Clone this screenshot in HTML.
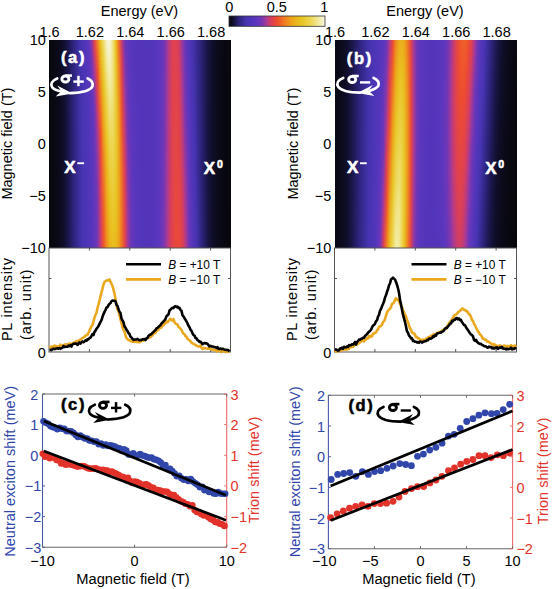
<!DOCTYPE html><html><head><meta charset="utf-8"><style>html,body{margin:0;padding:0;background:#fff;}#w{position:relative;width:553px;height:589px;overflow:hidden}#w div{position:absolute}svg{position:absolute;left:0;top:0;display:block}</style></head><body><div id="w">
<div style="left:49px;top:40px;width:181.5px;height:4px;background:linear-gradient(90deg,#07070d 0.0%,#080810 1.7%,#090914 3.3%,#0b0a1a 5.0%,#0d0c23 6.7%,#111030 8.3%,#191647 10.0%,#231d62 11.7%,#2e247e 13.3%,#372b92 15.0%,#4231a9 16.7%,#4a34b4 18.3%,#5135b9 20.0%,#5d36bd 21.7%,#8737a9 23.3%,#e0434c 25.0%,#ef8321 26.7%,#e8c121 28.3%,#eedd6c 30.0%,#f6f1c7 31.7%,#f7f5dc 33.3%,#f0e382 35.0%,#e9bf21 36.7%,#f06f25 38.3%,#c33c76 40.0%,#7136b5 41.7%,#5d36bd 43.3%,#5736bc 45.0%,#5535bb 46.7%,#5335ba 48.3%,#5235b9 50.0%,#5235b9 51.7%,#5135b9 53.3%,#5235b9 55.0%,#5335ba 56.7%,#5435bb 58.3%,#5836bd 60.0%,#6136bb 61.7%,#7236b5 63.3%,#a0399b 65.0%,#ce3d68 66.7%,#e0424e 68.3%,#df424f 70.0%,#c93d6e 71.7%,#9238a3 73.3%,#6536ba 75.0%,#5335ba 76.7%,#4a34b4 78.3%,#3f30a4 80.0%,#35298d 81.7%,#2c237a 83.3%,#231d62 85.0%,#1b174b 86.7%,#141238 88.3%,#0f0e29 90.0%,#0d0c21 91.7%,#0b0a1a 93.3%,#0a0915 95.0%,#090812 96.7%,#08080f 98.3%,#07070d 100.0%)"></div>
<div style="left:49px;top:44px;width:181.5px;height:4px;background:linear-gradient(90deg,#07070d 0.0%,#080810 1.7%,#090914 3.3%,#0b0a1a 5.0%,#0d0c23 6.7%,#111030 8.3%,#191546 10.0%,#231d62 11.7%,#2d247d 13.3%,#372a92 15.0%,#4131a8 16.7%,#4a34b4 18.3%,#5135b8 20.0%,#5b36be 21.7%,#7f37ae 23.3%,#dd4054 25.0%,#ef7c22 26.7%,#e9bd20 28.3%,#edda62 30.0%,#f5f0bf 31.7%,#f7f4d7 33.3%,#f0e384 35.0%,#e8c121 36.7%,#f07324 38.3%,#c83d6f 40.0%,#7236b5 41.7%,#5e36bc 43.3%,#5736bc 45.0%,#5535bb 46.7%,#5335ba 48.3%,#5235b9 50.0%,#5235b9 51.7%,#5135b9 53.3%,#5235b9 55.0%,#5335ba 56.7%,#5435bb 58.3%,#5836bd 60.0%,#6136bb 61.7%,#7236b5 63.3%,#a0399a 65.0%,#ce3d68 66.7%,#e0424e 68.3%,#e0424e 70.0%,#cb3d6c 71.7%,#9438a2 73.3%,#6636b9 75.0%,#5435ba 76.7%,#4a34b4 78.3%,#4030a4 80.0%,#35298d 81.7%,#2c237a 83.3%,#231d62 85.0%,#1b174b 86.7%,#141238 88.3%,#0f0e29 90.0%,#0d0c21 91.7%,#0b0a1a 93.3%,#0a0915 95.0%,#090812 96.7%,#08080f 98.3%,#07070d 100.0%)"></div>
<div style="left:49px;top:48px;width:181.5px;height:4px;background:linear-gradient(90deg,#07070d 0.0%,#080810 1.7%,#090914 3.3%,#0b0a1a 5.0%,#0d0c22 6.7%,#111030 8.3%,#191546 10.0%,#231d62 11.7%,#2d247d 13.3%,#372a92 15.0%,#4131a8 16.7%,#4934b4 18.3%,#5035b8 20.0%,#5936be 21.7%,#7836b2 23.3%,#d93e5b 25.0%,#f07523 26.7%,#e9b81f 28.3%,#ecd757 30.0%,#f4eeb6 31.7%,#f7f3d2 33.3%,#f0e485 35.0%,#e8c222 36.7%,#f07723 38.3%,#ce3d68 40.0%,#7436b4 41.7%,#5f36bc 43.3%,#5736bc 45.0%,#5535bb 46.7%,#5335ba 48.3%,#5235b9 50.0%,#5235b9 51.7%,#5235b9 53.3%,#5235b9 55.0%,#5335ba 56.7%,#5435bb 58.3%,#5836bd 60.0%,#6136bb 61.7%,#7236b5 63.3%,#a0399a 65.0%,#ce3d68 66.7%,#e0424e 68.3%,#e0424e 70.0%,#cd3d6a 71.7%,#9639a0 73.3%,#6736b9 75.0%,#5435ba 76.7%,#4a34b5 78.3%,#4030a5 80.0%,#35298d 81.7%,#2c237a 83.3%,#231d62 85.0%,#1b174b 86.7%,#141238 88.3%,#0f0e29 90.0%,#0d0c21 91.7%,#0b0a1a 93.3%,#0a0915 95.0%,#090812 96.7%,#08080f 98.3%,#07070d 100.0%)"></div>
<div style="left:49px;top:52px;width:181.5px;height:4px;background:linear-gradient(90deg,#07070d 0.0%,#080810 1.7%,#090914 3.3%,#0b0a1a 5.0%,#0d0c22 6.7%,#111030 8.3%,#191546 10.0%,#231d62 11.7%,#2d247d 13.3%,#372a92 15.0%,#4131a7 16.7%,#4934b4 18.3%,#5035b8 20.0%,#5936bd 21.7%,#7336b5 23.3%,#cf3d67 25.0%,#f06e25 26.7%,#eab41e 28.3%,#ecd54f 30.0%,#f3edad 31.7%,#f6f2ce 33.3%,#f0e486 35.0%,#e8c422 36.7%,#ef7b22 38.3%,#d43d62 40.0%,#7736b2 41.7%,#6036bc 43.3%,#5836bd 45.0%,#5536bb 46.7%,#5335ba 48.3%,#5235b9 50.0%,#5235b9 51.7%,#5235b9 53.3%,#5235b9 55.0%,#5335ba 56.7%,#5435bb 58.3%,#5836bd 60.0%,#6136bb 61.7%,#7236b5 63.3%,#a1399a 65.0%,#ce3d68 66.7%,#e0424e 68.3%,#e0424d 70.0%,#ce3d68 71.7%,#98399f 73.3%,#6836b9 75.0%,#5435bb 76.7%,#4a34b5 78.3%,#4030a5 80.0%,#35298e 81.7%,#2c237a 83.3%,#231d62 85.0%,#1b174b 86.7%,#141238 88.3%,#0f0e29 90.0%,#0c0c21 91.7%,#0b0a1a 93.3%,#0a0915 95.0%,#090812 96.7%,#08080f 98.3%,#07070d 100.0%)"></div>
<div style="left:49px;top:56px;width:181.5px;height:4px;background:linear-gradient(90deg,#07070d 0.0%,#080810 1.7%,#090914 3.3%,#0b0a1a 5.0%,#0d0c22 6.7%,#111030 8.3%,#191546 10.0%,#231d62 11.7%,#2d247d 13.3%,#372a91 15.0%,#4131a7 16.7%,#4934b4 18.3%,#4f35b8 20.0%,#5836bd 21.7%,#7036b6 23.3%,#c63c72 25.0%,#ef6728 26.7%,#eab01d 28.3%,#ebd349 30.0%,#f3eba4 31.7%,#f6f1c8 33.3%,#f0e486 35.0%,#e8c524 36.7%,#ef7e22 38.3%,#d93e5b 40.0%,#7b37b0 41.7%,#6136bb 43.3%,#5836bd 45.0%,#5536bb 46.7%,#5335ba 48.3%,#5235b9 50.0%,#5235b9 51.7%,#5235b9 53.3%,#5235b9 55.0%,#5335ba 56.7%,#5535bb 58.3%,#5836bd 60.0%,#6136bb 61.7%,#7236b5 63.3%,#a1399a 65.0%,#cf3d68 66.7%,#e0424d 68.3%,#e0424d 70.0%,#d03d67 71.7%,#9a399e 73.3%,#6936b8 75.0%,#5535bb 76.7%,#4b34b5 78.3%,#4030a5 80.0%,#35298e 81.7%,#2c237a 83.3%,#231d62 85.0%,#1b174b 86.7%,#141238 88.3%,#0f0e29 90.0%,#0c0c20 91.7%,#0b0a1a 93.3%,#090915 95.0%,#090812 96.7%,#08080f 98.3%,#07070d 100.0%)"></div>
<div style="left:49px;top:60px;width:181.5px;height:4px;background:linear-gradient(90deg,#07070d 0.0%,#080810 1.7%,#090914 3.3%,#0b0a1a 5.0%,#0d0c22 6.7%,#110f30 8.3%,#191546 10.0%,#231d61 11.7%,#2d247d 13.3%,#372a91 15.0%,#4131a6 16.7%,#4934b4 18.3%,#4f35b7 20.0%,#5736bc 21.7%,#6d36b7 23.3%,#bd3c7c 25.0%,#ef602a 26.7%,#ebac1c 28.3%,#ebd144 30.0%,#f2ea9b 31.7%,#f5f0c3 33.3%,#f0e487 35.0%,#e8c627 36.7%,#ef8221 38.3%,#dc3f57 40.0%,#7e37ae 41.7%,#6136bb 43.3%,#5836bd 45.0%,#5536bb 46.7%,#5435ba 48.3%,#5235b9 50.0%,#5235b9 51.7%,#5235b9 53.3%,#5235b9 55.0%,#5335ba 56.7%,#5535bb 58.3%,#5836bd 60.0%,#6136bb 61.7%,#7236b5 63.3%,#a1399a 65.0%,#cf3d68 66.7%,#e0424d 68.3%,#e1434c 70.0%,#d13d65 71.7%,#9c399d 73.3%,#6a36b8 75.0%,#5536bb 76.7%,#4b34b5 78.3%,#4030a6 80.0%,#35298e 81.7%,#2c237a 83.3%,#231d62 85.0%,#1b174b 86.7%,#141238 88.3%,#0f0e29 90.0%,#0c0c20 91.7%,#0b0a1a 93.3%,#090915 95.0%,#090812 96.7%,#08080f 98.3%,#07070d 100.0%)"></div>
<div style="left:49px;top:64px;width:181.5px;height:4px;background:linear-gradient(90deg,#07070d 0.0%,#080810 1.7%,#090914 3.3%,#0b0a1a 5.0%,#0d0c22 6.7%,#110f30 8.3%,#191546 10.0%,#231d61 11.7%,#2d247d 13.3%,#372a91 15.0%,#4030a6 16.7%,#4934b4 18.3%,#4f35b7 20.0%,#5736bc 21.7%,#6b36b7 23.3%,#b53b86 25.0%,#ef592c 26.7%,#eba81b 28.3%,#eacf3e 30.0%,#f1e893 31.7%,#f5f0bd 33.3%,#f0e486 35.0%,#e9c729 36.7%,#ee8520 38.3%,#dd4053 40.0%,#8237ac 41.7%,#6236bb 43.3%,#5836bd 45.0%,#5536bb 46.7%,#5435ba 48.3%,#5235b9 50.0%,#5235b9 51.7%,#5235b9 53.3%,#5235b9 55.0%,#5335ba 56.7%,#5535bb 58.3%,#5836bd 60.0%,#6136bb 61.7%,#7236b5 63.3%,#a1399a 65.0%,#cf3d67 66.7%,#e0424d 68.3%,#e1434b 70.0%,#d23d63 71.7%,#9e399c 73.3%,#6a36b8 75.0%,#5536bb 76.7%,#4b35b5 78.3%,#4131a6 80.0%,#35298e 81.7%,#2c237b 83.3%,#231d62 85.0%,#1b174b 86.7%,#141238 88.3%,#0f0e29 90.0%,#0c0c20 91.7%,#0b0a1a 93.3%,#090915 95.0%,#090812 96.7%,#08080f 98.3%,#07070d 100.0%)"></div>
<div style="left:49px;top:68px;width:181.5px;height:4px;background:linear-gradient(90deg,#07070d 0.0%,#080810 1.7%,#090914 3.3%,#0b0a1a 5.0%,#0d0c22 6.7%,#110f2f 8.3%,#191546 10.0%,#231c61 11.7%,#2d247c 13.3%,#362a91 15.0%,#4030a6 16.7%,#4834b3 18.3%,#4e35b7 20.0%,#5636bc 21.7%,#6936b8 23.3%,#ad3a90 25.0%,#ee522e 26.7%,#eca41a 28.3%,#eacd39 30.0%,#f1e58b 31.7%,#f4efb8 33.3%,#f0e486 35.0%,#e9c72b 36.7%,#ee8820 38.3%,#df424f 40.0%,#8637aa 41.7%,#6336ba 43.3%,#5836bd 45.0%,#5536bb 46.7%,#5435ba 48.3%,#5335ba 50.0%,#5235b9 51.7%,#5235b9 53.3%,#5235b9 55.0%,#5335ba 56.7%,#5535bb 58.3%,#5836bd 60.0%,#6136bb 61.7%,#7236b5 63.3%,#a1399a 65.0%,#cf3d67 66.7%,#e0424d 68.3%,#e1434b 70.0%,#d43e61 71.7%,#a0399b 73.3%,#6b36b7 75.0%,#5636bb 76.7%,#4b35b5 78.3%,#4131a7 80.0%,#35298e 81.7%,#2c237b 83.3%,#231d62 85.0%,#1b174b 86.7%,#141238 88.3%,#0f0e29 90.0%,#0c0c20 91.7%,#0b0a1a 93.3%,#090915 95.0%,#090812 96.7%,#08080f 98.3%,#07070d 100.0%)"></div>
<div style="left:49px;top:72px;width:181.5px;height:4px;background:linear-gradient(90deg,#07070d 0.0%,#080810 1.7%,#090914 3.3%,#0b0a1a 5.0%,#0d0c22 6.7%,#110f2f 8.3%,#191546 10.0%,#221c61 11.7%,#2d247c 13.3%,#362a91 15.0%,#4030a5 16.7%,#4834b3 18.3%,#4e35b7 20.0%,#5536bb 21.7%,#6736b9 23.3%,#a63a97 25.0%,#ee4c30 26.7%,#ec9e1b 28.3%,#e9cb33 30.0%,#f0e382 31.7%,#f4eeb2 33.3%,#f0e485 35.0%,#e9c82c 36.7%,#ee8b1f 38.3%,#e1434b 40.0%,#8a38a7 41.7%,#6436ba 43.3%,#5936bd 45.0%,#5636bb 46.7%,#5435ba 48.3%,#5335ba 50.0%,#5235b9 51.7%,#5235b9 53.3%,#5235b9 55.0%,#5335ba 56.7%,#5535bb 58.3%,#5836bd 60.0%,#6236bb 61.7%,#7336b5 63.3%,#a23a9a 65.0%,#cf3d67 66.7%,#e0434c 68.3%,#e2434a 70.0%,#d53e60 71.7%,#a23a99 73.3%,#6c36b7 75.0%,#5636bc 76.7%,#4c35b5 78.3%,#4131a8 80.0%,#36298f 81.7%,#2c237b 83.3%,#231d62 85.0%,#1b174b 86.7%,#141237 88.3%,#0f0e29 90.0%,#0c0c20 91.7%,#0b0a1a 93.3%,#090915 95.0%,#090811 96.7%,#08080f 98.3%,#07070d 100.0%)"></div>
<div style="left:49px;top:76px;width:181.5px;height:4px;background:linear-gradient(90deg,#07070d 0.0%,#080810 1.7%,#090914 3.3%,#0b0a1a 5.0%,#0d0c22 6.7%,#110f2f 8.3%,#191545 10.0%,#221c61 11.7%,#2d247c 13.3%,#362a90 15.0%,#4030a5 16.7%,#4834b3 18.3%,#4e35b7 20.0%,#5535bb 21.7%,#6536ba 23.3%,#9e399c 25.0%,#eb4a37 26.7%,#ed981c 28.3%,#e9c92e 30.0%,#efe17a 31.7%,#f3edac 33.3%,#f0e484 35.0%,#e9c82e 36.7%,#ee8e1e 38.3%,#e34448 40.0%,#8e38a5 41.7%,#6536ba 43.3%,#5936bd 45.0%,#5636bb 46.7%,#5435ba 48.3%,#5335ba 50.0%,#5235b9 51.7%,#5235b9 53.3%,#5235b9 55.0%,#5335ba 56.7%,#5535bb 58.3%,#5836bd 60.0%,#6236bb 61.7%,#7336b5 63.3%,#a23a9a 65.0%,#cf3d67 66.7%,#e1434c 68.3%,#e2434a 70.0%,#d73e5e 71.7%,#a43a98 73.3%,#6d36b7 75.0%,#5636bc 76.7%,#4c35b6 78.3%,#4131a8 80.0%,#36298f 81.7%,#2c237b 83.3%,#231d62 85.0%,#1b174b 86.7%,#141237 88.3%,#0f0e29 90.0%,#0c0c20 91.7%,#0b0a1a 93.3%,#090915 95.0%,#090811 96.7%,#08080f 98.3%,#07070d 100.0%)"></div>
<div style="left:49px;top:80px;width:181.5px;height:4px;background:linear-gradient(90deg,#07070d 0.0%,#080810 1.7%,#090914 3.3%,#0b0a1a 5.0%,#0d0c22 6.7%,#110f2f 8.3%,#191545 10.0%,#221c61 11.7%,#2d247c 13.3%,#362a90 15.0%,#4030a5 16.7%,#4834b3 18.3%,#4e35b7 20.0%,#5535bb 21.7%,#6336bb 23.3%,#9739a0 25.0%,#e7473e 26.7%,#ed921e 28.3%,#e9c729 30.0%,#efdf72 31.7%,#f3eca6 33.3%,#f0e383 35.0%,#e9c92f 36.7%,#ed911e 38.3%,#e44544 40.0%,#9138a3 41.7%,#6636b9 43.3%,#5936bd 45.0%,#5636bb 46.7%,#5435ba 48.3%,#5335ba 50.0%,#5235b9 51.7%,#5235b9 53.3%,#5235b9 55.0%,#5335ba 56.7%,#5535bb 58.3%,#5836bd 60.0%,#6236bb 61.7%,#7336b4 63.3%,#a23a9a 65.0%,#cf3d67 66.7%,#e1434c 68.3%,#e24449 70.0%,#d83e5c 71.7%,#a63a97 73.3%,#6e36b6 75.0%,#5736bc 76.7%,#4c35b6 78.3%,#4231a9 80.0%,#362a8f 81.7%,#2c237b 83.3%,#231d62 85.0%,#1b174b 86.7%,#141237 88.3%,#0f0e28 90.0%,#0c0c20 91.7%,#0b0a1a 93.3%,#090915 95.0%,#090811 96.7%,#08080f 98.3%,#07070d 100.0%)"></div>
<div style="left:49px;top:84px;width:181.5px;height:4px;background:linear-gradient(90deg,#07070d 0.0%,#080810 1.7%,#090914 3.3%,#0b0a1a 5.0%,#0d0c22 6.7%,#110f2f 8.3%,#191545 10.0%,#221c60 11.7%,#2d247c 13.3%,#362a90 15.0%,#4030a5 16.7%,#4834b3 18.3%,#4d35b6 20.0%,#5435ba 21.7%,#6136bb 23.3%,#9138a3 25.0%,#e44544 26.7%,#ee8c1f 28.3%,#e8c524 30.0%,#eedc69 31.7%,#f2eba0 33.3%,#f0e381 35.0%,#e9c931 36.7%,#ed941d 38.3%,#e64641 40.0%,#9539a1 41.7%,#6736b9 43.3%,#5936be 45.0%,#5636bc 46.7%,#5435ba 48.3%,#5335ba 50.0%,#5235b9 51.7%,#5235b9 53.3%,#5235b9 55.0%,#5335ba 56.7%,#5535bb 58.3%,#5836bd 60.0%,#6236bb 61.7%,#7336b4 63.3%,#a23a99 65.0%,#d03d66 66.7%,#e1434c 68.3%,#e24449 70.0%,#d93e5b 71.7%,#a83a96 73.3%,#6f36b6 75.0%,#5736bc 76.7%,#4c35b6 78.3%,#4231a9 80.0%,#362a8f 81.7%,#2c237b 83.3%,#231d62 85.0%,#1b174b 86.7%,#141137 88.3%,#0f0e28 90.0%,#0c0c20 91.7%,#0b0a1a 93.3%,#090915 95.0%,#080811 96.7%,#08080f 98.3%,#07070d 100.0%)"></div>
<div style="left:49px;top:88px;width:181.5px;height:4px;background:linear-gradient(90deg,#07070d 0.0%,#080810 1.7%,#090914 3.3%,#0b0a1a 5.0%,#0d0c22 6.7%,#110f2f 8.3%,#191545 10.0%,#221c60 11.7%,#2d247c 13.3%,#362a90 15.0%,#4030a4 16.7%,#4834b3 18.3%,#4d35b6 20.0%,#5435ba 21.7%,#6036bc 23.3%,#8b38a7 25.0%,#e2434a 26.7%,#ee8620 28.3%,#e8c221 30.0%,#edda61 31.7%,#f2e99a 33.3%,#f0e280 35.0%,#e9ca32 36.7%,#ed971d 38.3%,#e8483d 40.0%,#99399f 41.7%,#6836b9 43.3%,#5a36be 45.0%,#5636bc 46.7%,#5435ba 48.3%,#5335ba 50.0%,#5235b9 51.7%,#5235b9 53.3%,#5235b9 55.0%,#5335ba 56.7%,#5535bb 58.3%,#5836bd 60.0%,#6236bb 61.7%,#7336b4 63.3%,#a23a99 65.0%,#d03d66 66.7%,#e1434c 68.3%,#e34448 70.0%,#da3e59 71.7%,#aa3a94 73.3%,#7036b6 75.0%,#5836bd 76.7%,#4d35b6 78.3%,#4232aa 80.0%,#362a90 81.7%,#2c247b 83.3%,#231d62 85.0%,#1b174a 86.7%,#141137 88.3%,#0f0e28 90.0%,#0c0c20 91.7%,#0b0a1a 93.3%,#090915 95.0%,#080811 96.7%,#08080f 98.3%,#07070d 100.0%)"></div>
<div style="left:49px;top:92px;width:181.5px;height:4px;background:linear-gradient(90deg,#07070d 0.0%,#080810 1.7%,#090914 3.3%,#0b0a1a 5.0%,#0d0c22 6.7%,#110f2f 8.3%,#191545 10.0%,#221c60 11.7%,#2d247c 13.3%,#362a90 15.0%,#4030a4 16.7%,#4834b3 18.3%,#4d35b6 20.0%,#5335ba 21.7%,#5e36bc 23.3%,#8537aa 25.0%,#df4150 26.7%,#ef8021 28.3%,#e9be21 30.0%,#edd859 31.7%,#f1e894 33.3%,#f0e27e 35.0%,#e9ca33 36.7%,#ed991c 38.3%,#e9493a 40.0%,#9d399c 41.7%,#6936b8 43.3%,#5a36be 45.0%,#5636bc 46.7%,#5435ba 48.3%,#5335ba 50.0%,#5235b9 51.7%,#5235b9 53.3%,#5235b9 55.0%,#5335ba 56.7%,#5535bb 58.3%,#5836bd 60.0%,#6236bb 61.7%,#7336b4 63.3%,#a23a99 65.0%,#d03d66 66.7%,#e1434b 68.3%,#e34448 70.0%,#db3f58 71.7%,#ac3a92 73.3%,#7036b5 75.0%,#5836bd 76.7%,#4d35b6 78.3%,#4232aa 80.0%,#362a90 81.7%,#2c247b 83.3%,#231d62 85.0%,#1b174a 86.7%,#141137 88.3%,#0f0e28 90.0%,#0c0c20 91.7%,#0b0a1a 93.3%,#090915 95.0%,#080811 96.7%,#08080f 98.3%,#07070d 100.0%)"></div>
<div style="left:49px;top:96px;width:181.5px;height:4px;background:linear-gradient(90deg,#07070d 0.0%,#080810 1.7%,#090914 3.3%,#0b0a1a 5.0%,#0d0c22 6.7%,#110f2f 8.3%,#191545 10.0%,#221c60 11.7%,#2d247c 13.3%,#362a90 15.0%,#3f30a4 16.7%,#4834b3 18.3%,#4d35b6 20.0%,#5335ba 21.7%,#5d36bd 23.3%,#7f37ad 25.0%,#dc4055 26.7%,#ef7b22 28.3%,#e9bb20 30.0%,#ecd651 31.7%,#f1e68e 33.3%,#efe17b 35.0%,#e9cb34 36.7%,#ed9c1c 38.3%,#eb4a37 40.0%,#a1399a 41.7%,#6a36b8 43.3%,#5a36be 45.0%,#5636bc 46.7%,#5435ba 48.3%,#5335ba 50.0%,#5235b9 51.7%,#5235b9 53.3%,#5235b9 55.0%,#5335ba 56.7%,#5535bb 58.3%,#5836bd 60.0%,#6236bb 61.7%,#7336b4 63.3%,#a33a99 65.0%,#d03d66 66.7%,#e1434b 68.3%,#e34447 70.0%,#db3f58 71.7%,#ad3a90 73.3%,#7136b5 75.0%,#5836bd 76.7%,#4d35b6 78.3%,#4332ab 80.0%,#362a90 81.7%,#2c247b 83.3%,#231d62 85.0%,#1b174a 86.7%,#141137 88.3%,#0f0e28 90.0%,#0c0c20 91.7%,#0b0a1a 93.3%,#090915 95.0%,#080811 96.7%,#08080f 98.3%,#07070d 100.0%)"></div>
<div style="left:49px;top:100px;width:181.5px;height:4px;background:linear-gradient(90deg,#07070d 0.0%,#080810 1.7%,#090914 3.3%,#0b0a1a 5.0%,#0d0c22 6.7%,#110f2f 8.3%,#191545 10.0%,#221c60 11.7%,#2d247b 13.3%,#362a8f 15.0%,#3f30a4 16.7%,#4734b3 18.3%,#4d35b6 20.0%,#5335ba 21.7%,#5c36bd 23.3%,#7a36b0 25.0%,#da3e5a 26.7%,#f07623 28.3%,#eab81f 30.0%,#ecd44d 31.7%,#f0e589 33.3%,#efe179 35.0%,#eacb34 36.7%,#ec9e1b 38.3%,#ec4b34 40.0%,#a43a98 41.7%,#6b36b8 43.3%,#5b36be 45.0%,#5636bc 46.7%,#5435bb 48.3%,#5335ba 50.0%,#5235b9 51.7%,#5235b9 53.3%,#5235b9 55.0%,#5335ba 56.7%,#5535bb 58.3%,#5836bd 60.0%,#6236bb 61.7%,#7336b4 63.3%,#a33a99 65.0%,#d03d66 66.7%,#e1434b 68.3%,#e34447 70.0%,#dc3f57 71.7%,#af3b8d 73.3%,#7236b5 75.0%,#5936bd 76.7%,#4d35b6 78.3%,#4332ac 80.0%,#362a91 81.7%,#2d247b 83.3%,#231d62 85.0%,#1a174a 86.7%,#141137 88.3%,#0f0e28 90.0%,#0c0c20 91.7%,#0b0a1a 93.3%,#090915 95.0%,#080811 96.7%,#08080f 98.3%,#07070d 100.0%)"></div>
<div style="left:49px;top:104px;width:181.5px;height:4px;background:linear-gradient(90deg,#07070d 0.0%,#080810 1.7%,#090914 3.3%,#0b0a1a 5.0%,#0d0c22 6.7%,#110f2f 8.3%,#181545 10.0%,#221c60 11.7%,#2c247b 13.3%,#362a8f 15.0%,#3f30a3 16.7%,#4734b3 18.3%,#4d35b6 20.0%,#5235b9 21.7%,#5b36be 23.3%,#7636b3 25.0%,#d33d63 26.7%,#f07124 28.3%,#eab51e 30.0%,#ebd249 31.7%,#f0e383 33.3%,#efe076 35.0%,#eacb35 36.7%,#eca01b 38.3%,#ee4c31 40.0%,#a83a96 41.7%,#6c36b7 43.3%,#5b36be 45.0%,#5736bc 46.7%,#5435bb 48.3%,#5335ba 50.0%,#5235b9 51.7%,#5235b9 53.3%,#5235b9 55.0%,#5335ba 56.7%,#5535bb 58.3%,#5836bd 60.0%,#6336bb 61.7%,#7336b4 63.3%,#a33a99 65.0%,#d03d66 66.7%,#e1434b 68.3%,#e44546 70.0%,#dc3f56 71.7%,#b13b8b 73.3%,#7336b4 75.0%,#5936bd 76.7%,#4e35b7 78.3%,#4332ac 80.0%,#372a91 81.7%,#2d247c 83.3%,#231d62 85.0%,#1a164a 86.7%,#141137 88.3%,#0f0e28 90.0%,#0c0c20 91.7%,#0b0a1a 93.3%,#090915 95.0%,#080811 96.7%,#08080f 98.3%,#07070d 100.0%)"></div>
<div style="left:49px;top:108px;width:181.5px;height:4px;background:linear-gradient(90deg,#07070d 0.0%,#080810 1.7%,#090914 3.3%,#0b0a1a 5.0%,#0d0c22 6.7%,#110f2f 8.3%,#181545 10.0%,#221c60 11.7%,#2c247b 13.3%,#362a8f 15.0%,#3f30a3 16.7%,#4734b3 18.3%,#4c35b6 20.0%,#5235b9 21.7%,#5a36be 23.3%,#7336b4 25.0%,#cc3d6b 26.7%,#f06b26 28.3%,#eab11d 30.0%,#ebd144 31.7%,#efe27d 33.3%,#efdf73 35.0%,#eacb35 36.7%,#eca21a 38.3%,#ee4e2f 40.0%,#ac3a92 41.7%,#6d36b7 43.3%,#5c36bd 45.0%,#5736bc 46.7%,#5435bb 48.3%,#5335ba 50.0%,#5235b9 51.7%,#5235b9 53.3%,#5235b9 55.0%,#5335ba 56.7%,#5535bb 58.3%,#5836bd 60.0%,#6336bb 61.7%,#7436b4 63.3%,#a33a99 65.0%,#d03d65 66.7%,#e1434b 68.3%,#e44546 70.0%,#dc4055 71.7%,#b33b89 73.3%,#7436b4 75.0%,#5936be 76.7%,#4e35b7 78.3%,#4433ad 80.0%,#372a92 81.7%,#2d247c 83.3%,#231d62 85.0%,#1a164a 86.7%,#141137 88.3%,#0f0e28 90.0%,#0c0c20 91.7%,#0b0a1a 93.3%,#090915 95.0%,#080811 96.7%,#08080f 98.3%,#07070d 100.0%)"></div>
<div style="left:49px;top:112px;width:181.5px;height:4px;background:linear-gradient(90deg,#07070d 0.0%,#080810 1.7%,#090914 3.3%,#0b0a1a 5.0%,#0d0c22 6.7%,#110f2f 8.3%,#181544 10.0%,#221c5f 11.7%,#2c247b 13.3%,#362a8f 15.0%,#3f30a3 16.7%,#4734b3 18.3%,#4c35b6 20.0%,#5235b9 21.7%,#5936be 23.3%,#7136b5 25.0%,#c63c72 26.7%,#ef6628 28.3%,#ebae1d 30.0%,#ebcf40 31.7%,#efe077 33.3%,#eede70 35.0%,#eacb35 36.7%,#eca41a 38.3%,#ee512e 40.0%,#af3b8e 41.7%,#6e36b6 43.3%,#5c36bd 45.0%,#5736bc 46.7%,#5435bb 48.3%,#5335ba 50.0%,#5235b9 51.7%,#5235b9 53.3%,#5235b9 55.0%,#5335ba 56.7%,#5535bb 58.3%,#5836bd 60.0%,#6336bb 61.7%,#7436b4 63.3%,#a33a99 65.0%,#d13d65 66.7%,#e1434a 68.3%,#e44545 70.0%,#dd4054 71.7%,#b53b87 73.3%,#7636b3 75.0%,#5a36be 76.7%,#4e35b7 78.3%,#4433ae 80.0%,#372a92 81.7%,#2d247c 83.3%,#231d62 85.0%,#1a164a 86.7%,#141137 88.3%,#0f0e28 90.0%,#0c0c20 91.7%,#0b0a1a 93.3%,#090915 95.0%,#080811 96.7%,#08080f 98.3%,#07070d 100.0%)"></div>
<div style="left:49px;top:116px;width:181.5px;height:4px;background:linear-gradient(90deg,#07070d 0.0%,#080810 1.7%,#090914 3.3%,#0b0a1a 5.0%,#0d0c22 6.7%,#110f2f 8.3%,#181544 10.0%,#221c5f 11.7%,#2c247b 13.3%,#36298f 15.0%,#3f2fa3 16.7%,#4734b3 18.3%,#4c35b6 20.0%,#5235b9 21.7%,#5936bd 23.3%,#6f36b6 25.0%,#c03c7a 26.7%,#ef602a 28.3%,#ebab1c 30.0%,#eace3c 31.7%,#eede71 33.3%,#eedd6d 35.0%,#eacb36 36.7%,#eca51a 38.3%,#ee532e 40.0%,#b23b8a 41.7%,#6f36b6 43.3%,#5d36bd 45.0%,#5736bc 46.7%,#5535bb 48.3%,#5335ba 50.0%,#5235b9 51.7%,#5235b9 53.3%,#5235b9 55.0%,#5335ba 56.7%,#5535bb 58.3%,#5936bd 60.0%,#6336bb 61.7%,#7436b4 63.3%,#a43a99 65.0%,#d13d65 66.7%,#e2434a 68.3%,#e44545 70.0%,#dd4053 71.7%,#b63b85 73.3%,#7836b2 75.0%,#5a36be 76.7%,#4f35b7 78.3%,#4433af 80.0%,#372a92 81.7%,#2d247c 83.3%,#231d62 85.0%,#1a164a 86.7%,#141137 88.3%,#0e0e28 90.0%,#0c0c20 91.7%,#0b0a1a 93.3%,#090915 95.0%,#080811 96.7%,#08080f 98.3%,#07070d 100.0%)"></div>
<div style="left:49px;top:120px;width:181.5px;height:4px;background:linear-gradient(90deg,#07070d 0.0%,#080810 1.7%,#090914 3.3%,#0b0a1a 5.0%,#0d0c22 6.7%,#110f2f 8.3%,#181544 10.0%,#221c5f 11.7%,#2c237b 13.3%,#36298f 15.0%,#3f2fa3 16.7%,#4734b3 18.3%,#4c35b6 20.0%,#5235b9 21.7%,#5936bd 23.3%,#6e36b6 25.0%,#ba3b80 26.7%,#ef5c2b 28.3%,#eba91b 30.0%,#eacc38 31.7%,#eedd6b 33.3%,#eedd6a 35.0%,#eacb36 36.7%,#eca61a 38.3%,#ef562d 40.0%,#b63b86 41.7%,#7036b6 43.3%,#5e36bd 45.0%,#5736bc 46.7%,#5535bb 48.3%,#5335ba 50.0%,#5235b9 51.7%,#5235b9 53.3%,#5235b9 55.0%,#5335ba 56.7%,#5536bb 58.3%,#5936bd 60.0%,#6336ba 61.7%,#7436b4 63.3%,#a43a98 65.0%,#d13d65 66.7%,#e2434a 68.3%,#e44544 70.0%,#de4152 71.7%,#b83b83 73.3%,#7a36b0 75.0%,#5b36be 76.7%,#4f35b7 78.3%,#4533af 80.0%,#372b93 81.7%,#2d247c 83.3%,#231d62 85.0%,#1a164a 86.7%,#141137 88.3%,#0e0e28 90.0%,#0c0c20 91.7%,#0b0a1a 93.3%,#090915 95.0%,#080811 96.7%,#08080f 98.3%,#07070d 100.0%)"></div>
<div style="left:49px;top:124px;width:181.5px;height:4px;background:linear-gradient(90deg,#07070d 0.0%,#080810 1.7%,#090914 3.3%,#0b0a1a 5.0%,#0d0c22 6.7%,#110f2e 8.3%,#181544 10.0%,#221c5f 11.7%,#2c237b 13.3%,#36298f 15.0%,#3f2fa3 16.7%,#4734b3 18.3%,#4c35b6 20.0%,#5135b9 21.7%,#5836bd 23.3%,#6c36b7 25.0%,#b53b87 26.7%,#ef572d 28.3%,#eca61a 30.0%,#e9cb34 31.7%,#eddb64 33.3%,#eedc67 35.0%,#eacb36 36.7%,#eca71b 38.3%,#ef582c 40.0%,#b93b82 41.7%,#7136b5 43.3%,#5e36bc 45.0%,#5736bc 46.7%,#5535bb 48.3%,#5335ba 50.0%,#5235b9 51.7%,#5235b9 53.3%,#5235b9 55.0%,#5335ba 56.7%,#5536bb 58.3%,#5936bd 60.0%,#6336ba 61.7%,#7436b4 63.3%,#a43a98 65.0%,#d13d65 66.7%,#e2434a 68.3%,#e54544 70.0%,#de4151 71.7%,#ba3b81 73.3%,#7c37af 75.0%,#5c36bd 76.7%,#4f35b8 78.3%,#4533b0 80.0%,#382b93 81.7%,#2d247c 83.3%,#231d63 85.0%,#1a164a 86.7%,#131137 88.3%,#0e0e28 90.0%,#0c0c20 91.7%,#0b0a1a 93.3%,#090915 95.0%,#080811 96.7%,#08080f 98.3%,#07070d 100.0%)"></div>
<div style="left:49px;top:128px;width:181.5px;height:4px;background:linear-gradient(90deg,#07070d 0.0%,#080810 1.7%,#090914 3.3%,#0b0a1a 5.0%,#0d0c22 6.7%,#110f2e 8.3%,#181544 10.0%,#221c5f 11.7%,#2c237b 13.3%,#35298f 15.0%,#3f2fa2 16.7%,#4734b3 18.3%,#4c35b6 20.0%,#5135b9 21.7%,#5836bd 23.3%,#6b36b7 25.0%,#b03b8d 26.7%,#ee522e 28.3%,#eca21a 30.0%,#e9c930 31.7%,#edd95e 33.3%,#eddb63 35.0%,#eacb35 36.7%,#eca71b 38.3%,#ef5a2c 40.0%,#bc3c7e 41.7%,#7236b5 43.3%,#5f36bc 45.0%,#5736bc 46.7%,#5535bb 48.3%,#5335ba 50.0%,#5235b9 51.7%,#5235b9 53.3%,#5235b9 55.0%,#5335ba 56.7%,#5536bb 58.3%,#5936bd 60.0%,#6336ba 61.7%,#7436b4 63.3%,#a43a98 65.0%,#d13d64 66.7%,#e2434a 68.3%,#e54643 70.0%,#de4151 71.7%,#bb3c7f 73.3%,#7e37ae 75.0%,#5d36bd 76.7%,#5035b8 78.3%,#4634b1 80.0%,#382b94 81.7%,#2d247d 83.3%,#231d63 85.0%,#1a164a 86.7%,#131137 88.3%,#0e0e28 90.0%,#0c0c20 91.7%,#0b0a1a 93.3%,#090915 95.0%,#080811 96.7%,#08080f 98.3%,#07070d 100.0%)"></div>
<div style="left:49px;top:132px;width:181.5px;height:4px;background:linear-gradient(90deg,#07070d 0.0%,#080810 1.7%,#090914 3.3%,#0b0a1a 5.0%,#0d0c22 6.7%,#110f2e 8.3%,#181544 10.0%,#221c5f 11.7%,#2c237b 13.3%,#35298e 15.0%,#3f2fa2 16.7%,#4734b3 18.3%,#4c35b6 20.0%,#5135b9 21.7%,#5836bd 23.3%,#6a36b8 25.0%,#ab3a92 26.7%,#ee4e2f 28.3%,#ec9e1b 30.0%,#e9c82c 31.7%,#ecd858 33.3%,#edda5f 35.0%,#eacb35 36.7%,#eca81b 38.3%,#ef5c2b 40.0%,#bf3c7a 41.7%,#7336b4 43.3%,#5f36bc 45.0%,#5836bd 46.7%,#5535bb 48.3%,#5335ba 50.0%,#5235b9 51.7%,#5235b9 53.3%,#5235b9 55.0%,#5335ba 56.7%,#5536bb 58.3%,#5936bd 60.0%,#6436ba 61.7%,#7536b4 63.3%,#a43a98 65.0%,#d13d64 66.7%,#e24449 68.3%,#e54643 70.0%,#df4150 71.7%,#bd3c7d 73.3%,#8037ad 75.0%,#5e36bd 76.7%,#5035b8 78.3%,#4634b2 80.0%,#382b94 81.7%,#2d247d 83.3%,#231d63 85.0%,#1a164a 86.7%,#131137 88.3%,#0e0e28 90.0%,#0c0c20 91.7%,#0b0a19 93.3%,#090915 95.0%,#080811 96.7%,#08080f 98.3%,#07070d 100.0%)"></div>
<div style="left:49px;top:136px;width:181.5px;height:4px;background:linear-gradient(90deg,#07070d 0.0%,#080810 1.7%,#090914 3.3%,#0b0a1a 5.0%,#0d0c22 6.7%,#110f2e 8.3%,#181544 10.0%,#221c5f 11.7%,#2c237b 13.3%,#35298e 15.0%,#3f2fa2 16.7%,#4734b3 18.3%,#4c35b5 20.0%,#5135b9 21.7%,#5736bc 23.3%,#6936b8 25.0%,#a73a97 26.7%,#ed4b32 28.3%,#ed991c 30.0%,#e9c628 31.7%,#ecd652 33.3%,#edd95c 35.0%,#eacb35 36.7%,#eba91b 38.3%,#ef5e2a 40.0%,#c23c76 41.7%,#7436b4 43.3%,#6036bc 45.0%,#5836bd 46.7%,#5535bb 48.3%,#5335ba 50.0%,#5235b9 51.7%,#5235b9 53.3%,#5235b9 55.0%,#5335ba 56.7%,#5536bb 58.3%,#5936bd 60.0%,#6436ba 61.7%,#7536b3 63.3%,#a53a98 65.0%,#d23d64 66.7%,#e24449 68.3%,#e54642 70.0%,#df424f 71.7%,#bf3c7b 73.3%,#8237ac 75.0%,#5e36bc 76.7%,#5035b8 78.3%,#4634b2 80.0%,#382b95 81.7%,#2d247d 83.3%,#231d63 85.0%,#1a164a 86.7%,#131137 88.3%,#0e0e28 90.0%,#0c0c20 91.7%,#0b0a19 93.3%,#090915 95.0%,#080811 96.7%,#08080f 98.3%,#07070d 100.0%)"></div>
<div style="left:49px;top:140px;width:181.5px;height:4px;background:linear-gradient(90deg,#07070d 0.0%,#080810 1.7%,#090914 3.3%,#0b0a1a 5.0%,#0d0c22 6.7%,#110f2e 8.3%,#181544 10.0%,#221c5f 11.7%,#2c237a 13.3%,#35298e 15.0%,#3f2fa2 16.7%,#4734b2 18.3%,#4c35b5 20.0%,#5135b8 21.7%,#5736bc 23.3%,#6836b9 25.0%,#a23a99 26.7%,#eb4a36 28.3%,#ed951d 30.0%,#e8c524 31.7%,#ecd54f 33.3%,#ecd858 35.0%,#eacb34 36.7%,#eba91b 38.3%,#ef602a 40.0%,#c53c73 41.7%,#7636b3 43.3%,#6036bc 45.0%,#5836bd 46.7%,#5535bb 48.3%,#5335ba 50.0%,#5235b9 51.7%,#5235b9 53.3%,#5235b9 55.0%,#5335ba 56.7%,#5536bb 58.3%,#5936bd 60.0%,#6436ba 61.7%,#7536b3 63.3%,#a53a98 65.0%,#d23d64 66.7%,#e24449 68.3%,#e54642 70.0%,#e0424e 71.7%,#c13c79 73.3%,#8537aa 75.0%,#5f36bc 76.7%,#5135b8 78.3%,#4634b2 80.0%,#392b95 81.7%,#2d247d 83.3%,#231d63 85.0%,#1a164a 86.7%,#131136 88.3%,#0e0e28 90.0%,#0c0c20 91.7%,#0b0a19 93.3%,#090915 95.0%,#080811 96.7%,#08080f 98.3%,#07070d 100.0%)"></div>
<div style="left:49px;top:144px;width:181.5px;height:4px;background:linear-gradient(90deg,#07070d 0.0%,#080810 1.7%,#090914 3.3%,#0b0a1a 5.0%,#0d0c22 6.7%,#100f2e 8.3%,#181544 10.0%,#221c5f 11.7%,#2c237a 13.3%,#35298e 15.0%,#3e2fa2 16.7%,#4734b2 18.3%,#4c35b5 20.0%,#5135b8 21.7%,#5736bc 23.3%,#6736b9 25.0%,#9e399c 26.7%,#e9493a 28.3%,#ee911e 30.0%,#e8c322 31.7%,#ebd44c 33.3%,#ecd654 35.0%,#e9cb34 36.7%,#ebaa1b 38.3%,#ef6229 40.0%,#c83d6f 41.7%,#7836b2 43.3%,#6136bb 45.0%,#5836bd 46.7%,#5536bb 48.3%,#5335ba 50.0%,#5235b9 51.7%,#5235b9 53.3%,#5235b9 55.0%,#5335ba 56.7%,#5536bb 58.3%,#5936bd 60.0%,#6436ba 61.7%,#7636b3 63.3%,#a53a98 65.0%,#d23d64 66.7%,#e24449 68.3%,#e64641 70.0%,#e0424d 71.7%,#c23c77 73.3%,#8737a9 75.0%,#6036bc 76.7%,#5135b8 78.3%,#4734b2 80.0%,#392c96 81.7%,#2e247e 83.3%,#231d63 85.0%,#1a164a 86.7%,#131136 88.3%,#0e0d28 90.0%,#0c0c20 91.7%,#0b0a19 93.3%,#090915 95.0%,#080811 96.7%,#08080f 98.3%,#07070d 100.0%)"></div>
<div style="left:49px;top:148px;width:181.5px;height:4px;background:linear-gradient(90deg,#07070d 0.0%,#080810 1.7%,#090914 3.3%,#0b0a1a 5.0%,#0d0c22 6.7%,#100f2e 8.3%,#181544 10.0%,#221c5e 11.7%,#2c237a 13.3%,#35298e 15.0%,#3e2fa2 16.7%,#4734b2 18.3%,#4c35b5 20.0%,#5135b8 21.7%,#5736bc 23.3%,#6636b9 25.0%,#9a399e 26.7%,#e7473e 28.3%,#ee8d1f 30.0%,#e8c121 31.7%,#ebd248 33.3%,#ecd651 35.0%,#e9ca33 36.7%,#ebaa1c 38.3%,#ef6428 40.0%,#cb3d6c 41.7%,#7a36b1 43.3%,#6236bb 45.0%,#5836bd 46.7%,#5536bb 48.3%,#5335ba 50.0%,#5235b9 51.7%,#5235b9 53.3%,#5235b9 55.0%,#5335ba 56.7%,#5536bb 58.3%,#5936bd 60.0%,#6436ba 61.7%,#7636b3 63.3%,#a53a98 65.0%,#d23d64 66.7%,#e24449 68.3%,#e64641 70.0%,#e0424d 71.7%,#c43c75 73.3%,#8938a8 75.0%,#6136bb 76.7%,#5135b9 78.3%,#4734b3 80.0%,#392c96 81.7%,#2e247e 83.3%,#231d63 85.0%,#1a164a 86.7%,#131136 88.3%,#0e0d28 90.0%,#0c0c20 91.7%,#0b0a19 93.3%,#090915 95.0%,#080811 96.7%,#08080f 98.3%,#07070d 100.0%)"></div>
<div style="left:49px;top:152px;width:181.5px;height:4px;background:linear-gradient(90deg,#07070d 0.0%,#080810 1.7%,#090914 3.3%,#0b0a1a 5.0%,#0d0c22 6.7%,#100f2e 8.3%,#181544 10.0%,#221c5e 11.7%,#2c237a 13.3%,#35298e 15.0%,#3e2fa2 16.7%,#4734b2 18.3%,#4b35b5 20.0%,#5035b8 21.7%,#5636bc 23.3%,#6536ba 25.0%,#9739a0 26.7%,#e54642 28.3%,#ee891f 30.0%,#e9be21 31.7%,#ebd145 33.3%,#ecd54f 35.0%,#e9ca32 36.7%,#ebaa1c 38.3%,#ef6528 40.0%,#ce3d69 41.7%,#7c37af 43.3%,#6236bb 45.0%,#5836bd 46.7%,#5536bb 48.3%,#5335ba 50.0%,#5235b9 51.7%,#5235b9 53.3%,#5235b9 55.0%,#5335ba 56.7%,#5536bb 58.3%,#5936bd 60.0%,#6436ba 61.7%,#7636b3 63.3%,#a63a97 65.0%,#d23d63 66.7%,#e24448 68.3%,#e64641 70.0%,#e1434c 71.7%,#c53c73 73.3%,#8b38a7 75.0%,#6236bb 76.7%,#5135b9 78.3%,#4734b3 80.0%,#392c97 81.7%,#2e247e 83.3%,#231d64 85.0%,#1a174a 86.7%,#131136 88.3%,#0e0d28 90.0%,#0c0c20 91.7%,#0b0a19 93.3%,#090915 95.0%,#080811 96.7%,#08080f 98.3%,#07070d 100.0%)"></div>
<div style="left:49px;top:156px;width:181.5px;height:4px;background:linear-gradient(90deg,#07070d 0.0%,#080810 1.7%,#090914 3.3%,#0b0a1a 5.0%,#0d0c22 6.7%,#100f2e 8.3%,#181544 10.0%,#221c5e 11.7%,#2c237a 13.3%,#35298e 15.0%,#3e2fa2 16.7%,#4734b2 18.3%,#4b35b5 20.0%,#5035b8 21.7%,#5636bc 23.3%,#6436ba 25.0%,#9438a2 26.7%,#e44545 28.3%,#ee8620 30.0%,#e9bc20 31.7%,#ebd042 33.3%,#ecd44d 35.0%,#e9ca32 36.7%,#ebab1c 38.3%,#ef6727 40.0%,#d03d66 41.7%,#7e37ae 43.3%,#6336bb 45.0%,#5836bd 46.7%,#5536bb 48.3%,#5435ba 50.0%,#5335ba 51.7%,#5235b9 53.3%,#5235b9 55.0%,#5335ba 56.7%,#5536bb 58.3%,#5936bd 60.0%,#6436ba 61.7%,#7736b2 63.3%,#a63a97 65.0%,#d23d63 66.7%,#e24448 68.3%,#e64740 70.0%,#e1434b 71.7%,#c73c71 73.3%,#8d38a6 75.0%,#6336bb 76.7%,#5235b9 78.3%,#4734b3 80.0%,#3a2c97 81.7%,#2e257f 83.3%,#241d64 85.0%,#1b174a 86.7%,#131136 88.3%,#0e0d28 90.0%,#0c0c20 91.7%,#0b0a19 93.3%,#090915 95.0%,#080811 96.7%,#08080f 98.3%,#07070d 100.0%)"></div>
<div style="left:49px;top:160px;width:181.5px;height:4px;background:linear-gradient(90deg,#07070d 0.0%,#080810 1.7%,#090914 3.3%,#0b0a1a 5.0%,#0d0c22 6.7%,#100f2e 8.3%,#181544 10.0%,#221c5e 11.7%,#2c237a 13.3%,#35298e 15.0%,#3e2fa1 16.7%,#4734b2 18.3%,#4b35b5 20.0%,#5035b8 21.7%,#5636bc 23.3%,#6436ba 25.0%,#9138a3 26.7%,#e24449 28.3%,#ef8221 30.0%,#e9ba1f 31.7%,#eacf3f 33.3%,#ebd34a 35.0%,#e9c931 36.7%,#ebab1c 38.3%,#ef6827 40.0%,#d33d63 41.7%,#8037ad 43.3%,#6336ba 45.0%,#5936bd 46.7%,#5536bb 48.3%,#5435ba 50.0%,#5335ba 51.7%,#5235b9 53.3%,#5235b9 55.0%,#5335ba 56.7%,#5536bb 58.3%,#5936bd 60.0%,#6436ba 61.7%,#7736b2 63.3%,#a63a97 65.0%,#d33d63 66.7%,#e34448 68.3%,#e64740 70.0%,#e2434a 71.7%,#c93d6f 73.3%,#8f38a5 75.0%,#6436ba 76.7%,#5235b9 78.3%,#4834b3 80.0%,#3a2c98 81.7%,#2e257f 83.3%,#241d64 85.0%,#1b174a 86.7%,#131136 88.3%,#0e0d28 90.0%,#0c0c20 91.7%,#0b0a19 93.3%,#090915 95.0%,#080811 96.7%,#08080f 98.3%,#07070d 100.0%)"></div>
<div style="left:49px;top:164px;width:181.5px;height:4px;background:linear-gradient(90deg,#07070d 0.0%,#080810 1.7%,#090914 3.3%,#0b0a1a 5.0%,#0d0c22 6.7%,#100f2e 8.3%,#181544 10.0%,#221c5e 11.7%,#2c237a 13.3%,#35298e 15.0%,#3e2fa1 16.7%,#4734b2 18.3%,#4b35b5 20.0%,#5035b8 21.7%,#5636bc 23.3%,#6336bb 25.0%,#8e38a5 26.7%,#e1434c 28.3%,#ef7f21 30.0%,#eab71f 31.7%,#eace3c 33.3%,#ebd248 35.0%,#e9c930 36.7%,#ebab1c 38.3%,#f06a27 40.0%,#d53e60 41.7%,#8337ac 43.3%,#6436ba 45.0%,#5936bd 46.7%,#5536bb 48.3%,#5435ba 50.0%,#5335ba 51.7%,#5235b9 53.3%,#5235b9 55.0%,#5335ba 56.7%,#5536bb 58.3%,#5936be 60.0%,#6536ba 61.7%,#7736b2 63.3%,#a63a97 65.0%,#d33d63 66.7%,#e34448 68.3%,#e7473f 70.0%,#e2434a 71.7%,#ca3d6d 73.3%,#9138a3 75.0%,#6436ba 76.7%,#5335ba 78.3%,#4834b3 80.0%,#3a2c99 81.7%,#2e257f 83.3%,#241d64 85.0%,#1b174b 86.7%,#131136 88.3%,#0e0d28 90.0%,#0c0c20 91.7%,#0b0a19 93.3%,#090915 95.0%,#080811 96.7%,#08080f 98.3%,#07070d 100.0%)"></div>
<div style="left:49px;top:168px;width:181.5px;height:4px;background:linear-gradient(90deg,#07070d 0.0%,#080810 1.7%,#090914 3.3%,#0b0a19 5.0%,#0d0c22 6.7%,#100f2e 8.3%,#181543 10.0%,#211c5e 11.7%,#2c237a 13.3%,#35298e 15.0%,#3e2fa1 16.7%,#4734b2 18.3%,#4b35b5 20.0%,#5035b8 21.7%,#5636bb 23.3%,#6236bb 25.0%,#8b38a7 26.7%,#df424f 28.3%,#ef7c22 30.0%,#eab51e 31.7%,#eacd39 33.3%,#ebd146 35.0%,#e9c92f 36.7%,#ebab1c 38.3%,#f06b26 40.0%,#d83e5d 41.7%,#8537aa 43.3%,#6436ba 45.0%,#5936bd 46.7%,#5636bb 48.3%,#5435ba 50.0%,#5335ba 51.7%,#5235b9 53.3%,#5235b9 55.0%,#5335ba 56.7%,#5536bb 58.3%,#5936be 60.0%,#6536ba 61.7%,#7836b2 63.3%,#a73a97 65.0%,#d33d63 66.7%,#e34448 68.3%,#e7473f 70.0%,#e24449 71.7%,#cc3d6b 73.3%,#9338a2 75.0%,#6536ba 76.7%,#5335ba 78.3%,#4834b3 80.0%,#3a2d99 81.7%,#2e2580 83.3%,#241d65 85.0%,#1b174b 86.7%,#131136 88.3%,#0e0d28 90.0%,#0c0c20 91.7%,#0b0a19 93.3%,#090915 95.0%,#080811 96.7%,#08080f 98.3%,#07070d 100.0%)"></div>
<div style="left:49px;top:172px;width:181.5px;height:4px;background:linear-gradient(90deg,#07070d 0.0%,#080810 1.7%,#090914 3.3%,#0b0a19 5.0%,#0d0c22 6.7%,#100f2e 8.3%,#181543 10.0%,#211c5e 11.7%,#2c237a 13.3%,#35298d 15.0%,#3e2fa1 16.7%,#4634b2 18.3%,#4b35b5 20.0%,#5035b8 21.7%,#5636bb 23.3%,#6236bb 25.0%,#8938a8 26.7%,#de4151 28.3%,#ef7923 30.0%,#eab31e 31.7%,#eacb36 33.3%,#ebd143 35.0%,#e9c82d 36.7%,#ebab1c 38.3%,#f06c26 40.0%,#da3e5a 41.7%,#8737a9 43.3%,#6536ba 45.0%,#5936bd 46.7%,#5636bb 48.3%,#5435ba 50.0%,#5335ba 51.7%,#5235b9 53.3%,#5235b9 55.0%,#5335ba 56.7%,#5636bb 58.3%,#5936be 60.0%,#6536ba 61.7%,#7836b2 63.3%,#a73a97 65.0%,#d33d62 66.7%,#e34448 68.3%,#e7473f 70.0%,#e34448 71.7%,#cd3d69 73.3%,#9539a1 75.0%,#6636b9 76.7%,#5335ba 78.3%,#4834b3 80.0%,#3b2d9a 81.7%,#2f2580 83.3%,#241e65 85.0%,#1b174b 86.7%,#131136 88.3%,#0e0d28 90.0%,#0c0c1f 91.7%,#0b0a19 93.3%,#090915 95.0%,#080811 96.7%,#08080e 98.3%,#07070d 100.0%)"></div>
<div style="left:49px;top:176px;width:181.5px;height:4px;background:linear-gradient(90deg,#07070d 0.0%,#080810 1.7%,#090914 3.3%,#0b0a19 5.0%,#0d0c22 6.7%,#100f2e 8.3%,#181543 10.0%,#211c5e 11.7%,#2c237a 13.3%,#35298d 15.0%,#3e2fa1 16.7%,#4634b2 18.3%,#4b35b5 20.0%,#5035b8 21.7%,#5536bb 23.3%,#6136bb 25.0%,#8737a9 26.7%,#dd4054 28.3%,#f07623 30.0%,#eab11d 31.7%,#e9ca33 33.3%,#ebd041 35.0%,#e9c82c 36.7%,#ebab1c 38.3%,#f06d26 40.0%,#db3e59 41.7%,#8838a8 43.3%,#6636ba 45.0%,#5936be 46.7%,#5636bb 48.3%,#5435ba 50.0%,#5335ba 51.7%,#5235b9 53.3%,#5235b9 55.0%,#5335ba 56.7%,#5636bb 58.3%,#5936be 60.0%,#6536ba 61.7%,#7836b2 63.3%,#a73a97 65.0%,#d33d62 66.7%,#e34447 68.3%,#e7473e 70.0%,#e34447 71.7%,#cf3d67 73.3%,#9739a0 75.0%,#6736b9 76.7%,#5435ba 78.3%,#4934b4 80.0%,#3b2d9b 81.7%,#2f2580 83.3%,#241e65 85.0%,#1b174b 86.7%,#131136 88.3%,#0e0d28 90.0%,#0c0c1f 91.7%,#0b0a19 93.3%,#090915 95.0%,#080811 96.7%,#08080e 98.3%,#07070d 100.0%)"></div>
<div style="left:49px;top:180px;width:181.5px;height:4px;background:linear-gradient(90deg,#07070d 0.0%,#080810 1.7%,#090914 3.3%,#0b0a19 5.0%,#0d0c22 6.7%,#100f2e 8.3%,#181543 10.0%,#211c5e 11.7%,#2c237a 13.3%,#35298d 15.0%,#3e2fa1 16.7%,#4634b2 18.3%,#4b35b5 20.0%,#5035b8 21.7%,#5536bb 23.3%,#6136bb 25.0%,#8537aa 26.7%,#dc3f56 28.3%,#f07324 30.0%,#ebaf1d 31.7%,#e9c930 33.3%,#eacf3f 35.0%,#e9c72b 36.7%,#ebab1c 38.3%,#f06e25 40.0%,#db3f57 41.7%,#8a38a7 43.3%,#6636b9 45.0%,#5936be 46.7%,#5636bb 48.3%,#5435ba 50.0%,#5335ba 51.7%,#5235b9 53.3%,#5235b9 55.0%,#5335ba 56.7%,#5636bb 58.3%,#5936be 60.0%,#6536ba 61.7%,#7936b1 63.3%,#a73a96 65.0%,#d33d62 66.7%,#e34447 68.3%,#e7473e 70.0%,#e34447 71.7%,#d03d65 73.3%,#99399f 75.0%,#6836b9 76.7%,#5435ba 78.3%,#4934b4 80.0%,#3b2d9b 81.7%,#2f2581 83.3%,#241e66 85.0%,#1b174b 86.7%,#131136 88.3%,#0e0d28 90.0%,#0c0c1f 91.7%,#0b0a19 93.3%,#090914 95.0%,#080811 96.7%,#08080e 98.3%,#07070d 100.0%)"></div>
<div style="left:49px;top:184px;width:181.5px;height:4px;background:linear-gradient(90deg,#07070d 0.0%,#080810 1.7%,#090914 3.3%,#0b0a19 5.0%,#0d0c22 6.7%,#100f2e 8.3%,#181543 10.0%,#211c5e 11.7%,#2c237a 13.3%,#35298d 15.0%,#3e2fa1 16.7%,#4634b2 18.3%,#4b35b5 20.0%,#5035b8 21.7%,#5536bb 23.3%,#6036bc 25.0%,#8337ab 26.7%,#db3f58 28.3%,#f07025 30.0%,#ebad1c 31.7%,#e9c82d 33.3%,#eace3c 35.0%,#e9c72a 36.7%,#ebab1c 38.3%,#f06f25 40.0%,#dc3f56 41.7%,#8c38a6 43.3%,#6736b9 45.0%,#5936be 46.7%,#5636bc 48.3%,#5435ba 50.0%,#5335ba 51.7%,#5235b9 53.3%,#5235b9 55.0%,#5335ba 56.7%,#5636bb 58.3%,#5936be 60.0%,#6536ba 61.7%,#7936b1 63.3%,#a83a96 65.0%,#d43d62 66.7%,#e34447 68.3%,#e8473e 70.0%,#e44546 71.7%,#d23d64 73.3%,#9b399e 75.0%,#6936b8 76.7%,#5435bb 78.3%,#4934b4 80.0%,#3c2d9c 81.7%,#2f2581 83.3%,#241e66 85.0%,#1b174b 86.7%,#131136 88.3%,#0e0d28 90.0%,#0c0c1f 91.7%,#0b0a19 93.3%,#090914 95.0%,#080811 96.7%,#08080e 98.3%,#07070d 100.0%)"></div>
<div style="left:49px;top:188px;width:181.5px;height:4px;background:linear-gradient(90deg,#07070d 0.0%,#080810 1.7%,#090914 3.3%,#0b0a19 5.0%,#0d0c21 6.7%,#100f2e 8.3%,#181543 10.0%,#211c5e 11.7%,#2c237a 13.3%,#35298d 15.0%,#3e2fa1 16.7%,#4634b2 18.3%,#4b35b5 20.0%,#5035b8 21.7%,#5536bb 23.3%,#6036bc 25.0%,#8137ac 26.7%,#da3e5b 28.3%,#f06d25 30.0%,#ebab1c 31.7%,#e9c72a 33.3%,#eacd3a 35.0%,#e9c628 36.7%,#ebab1c 38.3%,#f06f25 40.0%,#dd4055 41.7%,#8e38a5 43.3%,#6736b9 45.0%,#5a36be 46.7%,#5636bc 48.3%,#5435ba 50.0%,#5335ba 51.7%,#5235b9 53.3%,#5235b9 55.0%,#5335ba 56.7%,#5636bb 58.3%,#5a36be 60.0%,#6636ba 61.7%,#7936b1 63.3%,#a83a96 65.0%,#d43e61 66.7%,#e34447 68.3%,#e8483d 70.0%,#e44545 71.7%,#d33d62 73.3%,#9d399d 75.0%,#6936b8 76.7%,#5535bb 78.3%,#4934b4 80.0%,#3c2e9d 81.7%,#2f2582 83.3%,#241e66 85.0%,#1b174b 86.7%,#131136 88.3%,#0e0d28 90.0%,#0c0c1f 91.7%,#0b0a19 93.3%,#090914 95.0%,#080811 96.7%,#08080e 98.3%,#07070d 100.0%)"></div>
<div style="left:49px;top:192px;width:181.5px;height:4px;background:linear-gradient(90deg,#07070d 0.0%,#080810 1.7%,#090914 3.3%,#0b0a19 5.0%,#0d0c21 6.7%,#100f2e 8.3%,#181543 10.0%,#211c5e 11.7%,#2c237a 13.3%,#35298d 15.0%,#3e2fa1 16.7%,#4634b2 18.3%,#4b35b5 20.0%,#5035b8 21.7%,#5536bb 23.3%,#6036bc 25.0%,#8037ad 26.7%,#d73e5e 28.3%,#f06b26 30.0%,#ebaa1b 31.7%,#e8c627 33.3%,#eacc38 35.0%,#e8c627 36.7%,#ebab1c 38.3%,#f07025 40.0%,#dd4053 41.7%,#9038a4 43.3%,#6836b9 45.0%,#5a36be 46.7%,#5636bc 48.3%,#5435ba 50.0%,#5335ba 51.7%,#5235b9 53.3%,#5235b9 55.0%,#5335ba 56.7%,#5636bb 58.3%,#5a36be 60.0%,#6636ba 61.7%,#7a36b1 63.3%,#a83a96 65.0%,#d43e61 66.7%,#e34447 68.3%,#e8483d 70.0%,#e44545 71.7%,#d53e60 73.3%,#9e399c 75.0%,#6a36b8 76.7%,#5535bb 78.3%,#4a34b4 80.0%,#3c2e9d 81.7%,#302682 83.3%,#251e67 85.0%,#1b174b 86.7%,#131137 88.3%,#0e0d28 90.0%,#0c0c1f 91.7%,#0b0a19 93.3%,#090914 95.0%,#080811 96.7%,#08080e 98.3%,#07070d 100.0%)"></div>
<div style="left:49px;top:196px;width:181.5px;height:4px;background:linear-gradient(90deg,#07070d 0.0%,#080810 1.7%,#090914 3.3%,#0b0a19 5.0%,#0d0c21 6.7%,#100f2e 8.3%,#181543 10.0%,#211c5e 11.7%,#2c237a 13.3%,#35298d 15.0%,#3e2fa0 16.7%,#4634b2 18.3%,#4b34b5 20.0%,#5035b8 21.7%,#5536bb 23.3%,#6036bc 25.0%,#7e37ae 26.7%,#d43e61 28.3%,#ef6827 30.0%,#eca81b 31.7%,#e8c524 33.3%,#eacb35 35.0%,#e8c526 36.7%,#ebaa1c 38.3%,#f07124 40.0%,#de4152 41.7%,#9138a3 43.3%,#6836b9 45.0%,#5a36be 46.7%,#5636bc 48.3%,#5435ba 50.0%,#5335ba 51.7%,#5235b9 53.3%,#5235b9 55.0%,#5435ba 56.7%,#5636bb 58.3%,#5a36be 60.0%,#6636b9 61.7%,#7a36b1 63.3%,#a83a96 65.0%,#d43e61 66.7%,#e34546 68.3%,#e8483c 70.0%,#e54544 71.7%,#d63e5e 73.3%,#a0399a 75.0%,#6b36b7 76.7%,#5536bb 78.3%,#4a34b4 80.0%,#3d2e9e 81.7%,#302682 83.3%,#251e67 85.0%,#1b174c 86.7%,#131137 88.3%,#0e0d28 90.0%,#0c0b1f 91.7%,#0b0a19 93.3%,#090914 95.0%,#080811 96.7%,#08080e 98.3%,#07070d 100.0%)"></div>
<div style="left:49px;top:200px;width:181.5px;height:4px;background:linear-gradient(90deg,#07070d 0.0%,#080810 1.7%,#090914 3.3%,#0b0a19 5.0%,#0d0c21 6.7%,#100f2e 8.3%,#181543 10.0%,#211c5d 11.7%,#2c237a 13.3%,#35298d 15.0%,#3e2fa0 16.7%,#4634b2 18.3%,#4b34b5 20.0%,#5035b8 21.7%,#5535bb 23.3%,#5f36bc 25.0%,#7d37af 26.7%,#d23d63 28.3%,#ef6628 30.0%,#eca61b 31.7%,#e8c422 33.3%,#e9ca33 35.0%,#e8c524 36.7%,#ebaa1c 38.3%,#f07124 40.0%,#de4151 41.7%,#9338a2 43.3%,#6936b8 45.0%,#5a36be 46.7%,#5636bc 48.3%,#5435ba 50.0%,#5335ba 51.7%,#5235b9 53.3%,#5235b9 55.0%,#5435ba 56.7%,#5636bb 58.3%,#5a36be 60.0%,#6636b9 61.7%,#7a36b0 63.3%,#a83a95 65.0%,#d43e61 66.7%,#e34546 68.3%,#e8483c 70.0%,#e54643 71.7%,#d83e5d 73.3%,#a23a99 75.0%,#6c36b7 76.7%,#5636bb 78.3%,#4a34b5 80.0%,#3d2e9f 81.7%,#302683 83.3%,#251e67 85.0%,#1b174c 86.7%,#131137 88.3%,#0e0d28 90.0%,#0c0b1f 91.7%,#0b0a19 93.3%,#090914 95.0%,#080811 96.7%,#08080e 98.3%,#07070d 100.0%)"></div>
<div style="left:49px;top:204px;width:181.5px;height:4px;background:linear-gradient(90deg,#07070d 0.0%,#080810 1.7%,#090914 3.3%,#0b0a19 5.0%,#0d0c21 6.7%,#100f2e 8.3%,#181543 10.0%,#211c5d 11.7%,#2c2379 13.3%,#35298d 15.0%,#3e2fa0 16.7%,#4634b2 18.3%,#4b34b5 20.0%,#5035b8 21.7%,#5535bb 23.3%,#5f36bc 25.0%,#7c37af 26.7%,#d03d66 28.3%,#ef6329 30.0%,#eca51a 31.7%,#e8c221 33.3%,#e9c931 35.0%,#e8c422 36.7%,#ebaa1b 38.3%,#f07124 40.0%,#df4150 41.7%,#9438a1 43.3%,#6936b8 45.0%,#5a36be 46.7%,#5636bc 48.3%,#5435ba 50.0%,#5335ba 51.7%,#5235b9 53.3%,#5335ba 55.0%,#5435ba 56.7%,#5636bc 58.3%,#5a36be 60.0%,#6636b9 61.7%,#7b37b0 63.3%,#a93a95 65.0%,#d53e61 66.7%,#e34546 68.3%,#e8483c 70.0%,#e54643 71.7%,#d93e5b 73.3%,#a43a98 75.0%,#6d36b7 76.7%,#5636bc 78.3%,#4b34b5 80.0%,#3d2fa0 81.7%,#302683 83.3%,#251e68 85.0%,#1b174c 86.7%,#141137 88.3%,#0e0d28 90.0%,#0c0b1f 91.7%,#0b0a19 93.3%,#090914 95.0%,#080811 96.7%,#08080e 98.3%,#07070d 100.0%)"></div>
<div style="left:49px;top:208px;width:181.5px;height:4px;background:linear-gradient(90deg,#07070d 0.0%,#080810 1.7%,#090914 3.3%,#0b0a19 5.0%,#0d0c21 6.7%,#100f2e 8.3%,#181543 10.0%,#211c5d 11.7%,#2c2379 13.3%,#35298d 15.0%,#3e2fa0 16.7%,#4634b2 18.3%,#4b34b5 20.0%,#5035b8 21.7%,#5535bb 23.3%,#5f36bc 25.0%,#7b37b0 26.7%,#ce3d68 28.3%,#ef6129 30.0%,#eca21a 31.7%,#e9c021 33.3%,#e9c92e 35.0%,#e8c322 36.7%,#eba91b 38.3%,#f07224 40.0%,#df424f 41.7%,#9639a1 43.3%,#6a36b8 45.0%,#5b36be 46.7%,#5636bc 48.3%,#5435ba 50.0%,#5335ba 51.7%,#5235b9 53.3%,#5335ba 55.0%,#5435ba 56.7%,#5636bc 58.3%,#5a36be 60.0%,#6636b9 61.7%,#7b37b0 63.3%,#a93a95 65.0%,#d53e60 66.7%,#e44546 68.3%,#e9483b 70.0%,#e54642 71.7%,#da3e5a 73.3%,#a63a97 75.0%,#6e36b6 76.7%,#5636bc 78.3%,#4b34b5 80.0%,#3e2fa1 81.7%,#302684 83.3%,#251e68 85.0%,#1b174c 86.7%,#141137 88.3%,#0e0d28 90.0%,#0c0b1f 91.7%,#0b0a19 93.3%,#090914 95.0%,#080811 96.7%,#08080e 98.3%,#07070d 100.0%)"></div>
<div style="left:49px;top:212px;width:181.5px;height:4px;background:linear-gradient(90deg,#07070d 0.0%,#080810 1.7%,#090914 3.3%,#0b0a19 5.0%,#0d0c21 6.7%,#100f2e 8.3%,#181543 10.0%,#211b5d 11.7%,#2c2379 13.3%,#35298d 15.0%,#3e2fa0 16.7%,#4634b2 18.3%,#4b34b5 20.0%,#5035b8 21.7%,#5535bb 23.3%,#5f36bc 25.0%,#7a36b0 26.7%,#cc3d6a 28.3%,#ef5f2a 30.0%,#eca01b 31.7%,#e9be21 33.3%,#e9c82c 35.0%,#e8c222 36.7%,#eba91b 38.3%,#f07224 40.0%,#df424e 41.7%,#9739a0 43.3%,#6a36b8 45.0%,#5b36be 46.7%,#5636bc 48.3%,#5435bb 50.0%,#5335ba 51.7%,#5235b9 53.3%,#5335ba 55.0%,#5435ba 56.7%,#5636bc 58.3%,#5a36be 60.0%,#6636b9 61.7%,#7b37b0 63.3%,#a93a95 65.0%,#d53e60 66.7%,#e44546 68.3%,#e9483b 70.0%,#e64641 71.7%,#db3e59 73.3%,#a83a96 75.0%,#6f36b6 76.7%,#5736bc 78.3%,#4b35b5 80.0%,#3e2fa1 81.7%,#312684 83.3%,#251f69 85.0%,#1b174c 86.7%,#141137 88.3%,#0e0d28 90.0%,#0c0b1f 91.7%,#0b0a19 93.3%,#090914 95.0%,#080811 96.7%,#08070e 98.3%,#07070d 100.0%)"></div>
<div style="left:49px;top:216px;width:181.5px;height:4px;background:linear-gradient(90deg,#07070d 0.0%,#080810 1.7%,#090914 3.3%,#0b0a19 5.0%,#0d0c21 6.7%,#100f2e 8.3%,#181543 10.0%,#211b5d 11.7%,#2c2379 13.3%,#35298d 15.0%,#3e2fa0 16.7%,#4634b2 18.3%,#4b34b5 20.0%,#4f35b8 21.7%,#5535bb 23.3%,#5f36bc 25.0%,#7a36b1 26.7%,#cb3d6c 28.3%,#ef5d2b 30.0%,#ed9d1b 31.7%,#e9bc20 33.3%,#e9c729 35.0%,#e8c121 36.7%,#eba81b 38.3%,#f07224 40.0%,#e0424e 41.7%,#98399f 43.3%,#6b36b8 45.0%,#5b36bd 46.7%,#5736bc 48.3%,#5435bb 50.0%,#5335ba 51.7%,#5235b9 53.3%,#5335ba 55.0%,#5435ba 56.7%,#5636bc 58.3%,#5a36be 60.0%,#6736b9 61.7%,#7c37b0 63.3%,#a93a94 65.0%,#d53e60 66.7%,#e44546 68.3%,#e9483b 70.0%,#e64641 71.7%,#db3f58 73.3%,#aa3a94 75.0%,#6f36b6 76.7%,#5736bc 78.3%,#4c35b5 80.0%,#3f2fa2 81.7%,#312685 83.3%,#261f69 85.0%,#1b174d 86.7%,#141137 88.3%,#0e0d28 90.0%,#0c0b1f 91.7%,#0b0a19 93.3%,#090914 95.0%,#080811 96.7%,#08070e 98.3%,#07070d 100.0%)"></div>
<div style="left:49px;top:220px;width:181.5px;height:4px;background:linear-gradient(90deg,#07070d 0.0%,#080810 1.7%,#090914 3.3%,#0b0a19 5.0%,#0d0c21 6.7%,#100f2d 8.3%,#181543 10.0%,#211b5d 11.7%,#2c2379 13.3%,#35298d 15.0%,#3e2fa0 16.7%,#4634b2 18.3%,#4b34b5 20.0%,#4f35b8 21.7%,#5535bb 23.3%,#5f36bc 25.0%,#7936b1 26.7%,#ca3d6e 28.3%,#ef5c2b 30.0%,#ed9b1c 31.7%,#e9bb20 33.3%,#e8c627 35.0%,#e9c021 36.7%,#eca81b 38.3%,#f07224 40.0%,#e0424d 41.7%,#9a399e 43.3%,#6b36b7 45.0%,#5c36bd 46.7%,#5736bc 48.3%,#5435bb 50.0%,#5335ba 51.7%,#5235b9 53.3%,#5335ba 55.0%,#5435ba 56.7%,#5636bc 58.3%,#5a36be 60.0%,#6736b9 61.7%,#7c37af 63.3%,#aa3a94 65.0%,#d53e60 66.7%,#e44545 68.3%,#e9493a 70.0%,#e64740 71.7%,#dc3f57 73.3%,#ac3a92 75.0%,#7036b5 76.7%,#5836bd 78.3%,#4c35b6 80.0%,#3f30a3 81.7%,#312786 83.3%,#261f6a 85.0%,#1b174d 86.7%,#141137 88.3%,#0e0d28 90.0%,#0c0b1f 91.7%,#0b0a19 93.3%,#090914 95.0%,#080811 96.7%,#08070e 98.3%,#07070d 100.0%)"></div>
<div style="left:49px;top:224px;width:181.5px;height:4px;background:linear-gradient(90deg,#07070d 0.0%,#080810 1.7%,#090914 3.3%,#0b0a19 5.0%,#0d0c21 6.7%,#100f2d 8.3%,#181543 10.0%,#211b5d 11.7%,#2c2379 13.3%,#35298d 15.0%,#3e2fa0 16.7%,#4634b2 18.3%,#4b34b5 20.0%,#4f35b8 21.7%,#5535bb 23.3%,#5f36bc 25.0%,#7936b1 26.7%,#c83d6f 28.3%,#ef5a2c 30.0%,#ed981c 31.7%,#e9b91f 33.3%,#e8c524 35.0%,#e9bf21 36.7%,#eca71b 38.3%,#f07224 40.0%,#e0434c 41.7%,#9b399e 43.3%,#6b36b7 45.0%,#5c36bd 46.7%,#5736bc 48.3%,#5435bb 50.0%,#5335ba 51.7%,#5235b9 53.3%,#5335ba 55.0%,#5435ba 56.7%,#5636bc 58.3%,#5a36be 60.0%,#6736b9 61.7%,#7c37af 63.3%,#aa3a94 65.0%,#d53e5f 66.7%,#e44545 68.3%,#e9493a 70.0%,#e7473f 71.7%,#dc3f56 73.3%,#ad3a90 75.0%,#7136b5 76.7%,#5836bd 78.3%,#4c35b6 80.0%,#3f30a4 81.7%,#322786 83.3%,#261f6a 85.0%,#1b174d 86.7%,#141137 88.3%,#0e0d28 90.0%,#0c0b1f 91.7%,#0a0a19 93.3%,#090914 95.0%,#080811 96.7%,#08070e 98.3%,#07070d 100.0%)"></div>
<div style="left:49px;top:228px;width:181.5px;height:4px;background:linear-gradient(90deg,#07070d 0.0%,#080810 1.7%,#090914 3.3%,#0b0a19 5.0%,#0d0c21 6.7%,#100f2d 8.3%,#181543 10.0%,#211b5d 11.7%,#2b2379 13.3%,#34298c 15.0%,#3e2fa0 16.7%,#4634b2 18.3%,#4b34b5 20.0%,#4f35b8 21.7%,#5535bb 23.3%,#5f36bc 25.0%,#7836b1 26.7%,#c73c71 28.3%,#ef582c 30.0%,#ed961d 31.7%,#eab71f 33.3%,#e8c422 35.0%,#e9be20 36.7%,#eca71b 38.3%,#f07224 40.0%,#e1434c 41.7%,#9c399d 43.3%,#6c36b7 45.0%,#5c36bd 46.7%,#5736bc 48.3%,#5435bb 50.0%,#5335ba 51.7%,#5235b9 53.3%,#5335ba 55.0%,#5435ba 56.7%,#5636bc 58.3%,#5a36be 60.0%,#6736b9 61.7%,#7d37af 63.3%,#aa3a93 65.0%,#d63e5f 66.7%,#e44545 68.3%,#e9493a 70.0%,#e7473f 71.7%,#dd4055 73.3%,#af3b8e 75.0%,#7236b5 76.7%,#5836bd 78.3%,#4d35b6 80.0%,#4030a5 81.7%,#322787 83.3%,#261f6b 85.0%,#1c174d 86.7%,#141137 88.3%,#0e0d28 90.0%,#0c0b1f 91.7%,#0a0a19 93.3%,#090914 95.0%,#080811 96.7%,#08070e 98.3%,#07070d 100.0%)"></div>
<div style="left:49px;top:232px;width:181.5px;height:4px;background:linear-gradient(90deg,#07070d 0.0%,#080810 1.7%,#090914 3.3%,#0b0a19 5.0%,#0d0c21 6.7%,#100f2d 8.3%,#181543 10.0%,#211b5d 11.7%,#2b2379 13.3%,#34298c 15.0%,#3e2fa0 16.7%,#4634b2 18.3%,#4b34b5 20.0%,#4f35b8 21.7%,#5535bb 23.3%,#5f36bc 25.0%,#7836b2 26.7%,#c63c72 28.3%,#ef572d 30.0%,#ed941d 31.7%,#eab61e 33.3%,#e8c222 35.0%,#e9bc20 36.7%,#eca61b 38.3%,#f07224 40.0%,#e1434b 41.7%,#9d399c 43.3%,#6c36b7 45.0%,#5c36bd 46.7%,#5736bc 48.3%,#5435bb 50.0%,#5335ba 51.7%,#5235b9 53.3%,#5335ba 55.0%,#5435ba 56.7%,#5636bc 58.3%,#5a36be 60.0%,#6736b9 61.7%,#7d37af 63.3%,#aa3a93 65.0%,#d63e5f 66.7%,#e44545 68.3%,#e94939 70.0%,#e7473e 71.7%,#dd4054 73.3%,#b13b8b 75.0%,#7336b4 76.7%,#5936bd 78.3%,#4d35b6 80.0%,#4030a6 81.7%,#322787 83.3%,#261f6c 85.0%,#1c174e 86.7%,#141237 88.3%,#0e0d28 90.0%,#0c0b1f 91.7%,#0a0a19 93.3%,#090914 95.0%,#080811 96.7%,#08070e 98.3%,#07070d 100.0%)"></div>
<div style="left:49px;top:236px;width:181.5px;height:4px;background:linear-gradient(90deg,#07070d 0.0%,#080810 1.7%,#090914 3.3%,#0b0a19 5.0%,#0d0c21 6.7%,#100f2d 8.3%,#181443 10.0%,#211b5d 11.7%,#2b2379 13.3%,#34298c 15.0%,#3d2fa0 16.7%,#4634b2 18.3%,#4b34b5 20.0%,#4f35b8 21.7%,#5535bb 23.3%,#5f36bc 25.0%,#7836b2 26.7%,#c53c73 28.3%,#ef562d 30.0%,#ed921e 31.7%,#eab41e 33.3%,#e8c121 35.0%,#e9bb20 36.7%,#eca61a 38.3%,#f07124 40.0%,#e1434b 41.7%,#9e399c 43.3%,#6d36b7 45.0%,#5d36bd 46.7%,#5736bc 48.3%,#5435bb 50.0%,#5335ba 51.7%,#5235b9 53.3%,#5335ba 55.0%,#5435ba 56.7%,#5636bc 58.3%,#5b36be 60.0%,#6736b9 61.7%,#7d37af 63.3%,#ab3a93 65.0%,#d63e5f 66.7%,#e44545 68.3%,#ea4939 70.0%,#e8473e 71.7%,#dd4053 73.3%,#b33b89 75.0%,#7436b4 76.7%,#5936bd 78.3%,#4d35b6 80.0%,#4131a7 81.7%,#322788 83.3%,#271f6c 85.0%,#1c184e 86.7%,#141238 88.3%,#0e0d28 90.0%,#0c0b1f 91.7%,#0a0a19 93.3%,#090914 95.0%,#080811 96.7%,#08070e 98.3%,#07070c 100.0%)"></div>
<div style="left:49px;top:240px;width:181.5px;height:4px;background:linear-gradient(90deg,#07070d 0.0%,#080810 1.7%,#090914 3.3%,#0b0a19 5.0%,#0d0c21 6.7%,#100f2d 8.3%,#181443 10.0%,#211b5d 11.7%,#2b2379 13.3%,#34298c 15.0%,#3d2fa0 16.7%,#4634b2 18.3%,#4b34b5 20.0%,#4f35b8 21.7%,#5535bb 23.3%,#5f36bc 25.0%,#7836b2 26.7%,#c53c74 28.3%,#ee542d 30.0%,#ee901e 31.7%,#eab31e 33.3%,#e9bf21 35.0%,#e9ba1f 36.7%,#eca51a 38.3%,#f07124 40.0%,#e1434b 41.7%,#9f399b 43.3%,#6d36b7 45.0%,#5d36bd 46.7%,#5736bc 48.3%,#5435bb 50.0%,#5335ba 51.7%,#5335ba 53.3%,#5335ba 55.0%,#5435ba 56.7%,#5636bc 58.3%,#5b36be 60.0%,#6736b9 61.7%,#7e37ae 63.3%,#ab3a92 65.0%,#d63e5f 66.7%,#e44545 68.3%,#ea4939 70.0%,#e8483d 71.7%,#de4152 73.3%,#b43b87 75.0%,#7536b3 76.7%,#5936be 78.3%,#4d35b6 80.0%,#4131a8 81.7%,#332889 83.3%,#27206d 85.0%,#1c184e 86.7%,#141238 88.3%,#0e0d28 90.0%,#0c0b1f 91.7%,#0a0a19 93.3%,#090914 95.0%,#080811 96.7%,#08070e 98.3%,#07070c 100.0%)"></div>
<div style="left:49px;top:244px;width:181.5px;height:4px;background:linear-gradient(90deg,#07070d 0.0%,#080810 1.7%,#090914 3.3%,#0b0a19 5.0%,#0d0c21 6.7%,#100f2d 8.3%,#181443 10.0%,#211b5d 11.7%,#2b2379 13.3%,#34298c 15.0%,#3d2ea0 16.7%,#4634b2 18.3%,#4b34b5 20.0%,#4f35b8 21.7%,#5535bb 23.3%,#5f36bc 25.0%,#7836b1 26.7%,#c43c74 28.3%,#ee532e 30.0%,#ee8e1e 31.7%,#eab11d 33.3%,#e9be20 35.0%,#e9b91f 36.7%,#eca41a 38.3%,#f07124 40.0%,#e1434a 41.7%,#a0399b 43.3%,#6d36b7 45.0%,#5d36bd 46.7%,#5736bc 48.3%,#5535bb 50.0%,#5335ba 51.7%,#5335ba 53.3%,#5335ba 55.0%,#5435ba 56.7%,#5636bc 58.3%,#5b36be 60.0%,#6836b9 61.7%,#7e37ae 63.3%,#ab3a92 65.0%,#d63e5e 66.7%,#e44545 68.3%,#ea4939 70.0%,#e8483c 71.7%,#de4151 73.3%,#b63b85 75.0%,#7736b2 76.7%,#5a36be 78.3%,#4e35b7 80.0%,#4231a9 81.7%,#332889 83.3%,#27206e 85.0%,#1c184f 86.7%,#141238 88.3%,#0e0d28 90.0%,#0c0b1f 91.7%,#0a0a19 93.3%,#090914 95.0%,#080811 96.7%,#08070e 98.3%,#07070c 100.0%)"></div>
<div style="left:334.5px;top:40px;width:182.0px;height:4px;background:linear-gradient(90deg,#090813 0.0%,#0a0916 1.7%,#0b0b1c 3.3%,#0d0c23 5.0%,#100f2c 6.7%,#16133c 8.3%,#1c1850 10.0%,#241e66 11.7%,#2d247b 13.3%,#34288b 15.0%,#3b2d9b 16.7%,#4232aa 18.3%,#4834b3 20.0%,#4c35b5 21.7%,#5035b8 23.3%,#5435ba 25.0%,#5a36be 26.7%,#6f36b6 28.3%,#b03b8c 30.0%,#eb4a36 31.7%,#ef8420 33.3%,#ebaa1b 35.0%,#eab11d 36.7%,#eca41a 38.3%,#f07523 40.0%,#e34447 41.7%,#a1399a 43.3%,#6d36b7 45.0%,#5e36bd 46.7%,#5836bd 48.3%,#5536bb 50.0%,#5435ba 51.7%,#5335ba 53.3%,#5435ba 55.0%,#5535bb 56.7%,#5736bc 58.3%,#5e36bc 60.0%,#6c36b7 61.7%,#8d38a5 63.3%,#c03c79 65.0%,#e24449 66.7%,#ee502f 68.3%,#ef5e2a 70.0%,#ef5e2a 71.7%,#ee4d30 73.3%,#de4151 75.0%,#aa3a94 76.7%,#6e36b6 78.3%,#5736bc 80.0%,#4c35b6 81.7%,#4030a6 83.3%,#34288b 85.0%,#292274 86.7%,#1f1a57 88.3%,#171440 90.0%,#110f2e 91.7%,#0d0d24 93.3%,#0b0b1c 95.0%,#0a0a17 96.7%,#090913 98.3%,#080810 100.0%)"></div>
<div style="left:334.5px;top:44px;width:182.0px;height:4px;background:linear-gradient(90deg,#090813 0.0%,#0a0916 1.7%,#0b0b1c 3.3%,#0d0c23 5.0%,#100f2c 6.7%,#16133c 8.3%,#1c1850 10.0%,#241e66 11.7%,#2d247c 13.3%,#34288b 15.0%,#3b2d9b 16.7%,#4232aa 18.3%,#4834b3 20.0%,#4c35b5 21.7%,#5035b8 23.3%,#5435bb 25.0%,#5b36be 26.7%,#7036b6 28.3%,#b53b87 30.0%,#ed4c31 31.7%,#ee8820 33.3%,#ebac1c 35.0%,#eab31e 36.7%,#eca61b 38.3%,#f07723 40.0%,#e44545 41.7%,#a23a9a 43.3%,#6d36b7 45.0%,#5e36bd 46.7%,#5836bd 48.3%,#5536bb 50.0%,#5435ba 51.7%,#5335ba 53.3%,#5435ba 55.0%,#5535bb 56.7%,#5836bd 58.3%,#5e36bc 60.0%,#6d36b7 61.7%,#8f38a4 63.3%,#c13c77 65.0%,#e24449 66.7%,#ee4f2f 68.3%,#ef5d2b 70.0%,#ef5c2b 71.7%,#ed4b32 73.3%,#dd4054 75.0%,#a63a97 76.7%,#6c36b7 78.3%,#5636bc 80.0%,#4b35b5 81.7%,#4030a4 83.3%,#332889 85.0%,#292172 86.7%,#1f1a56 88.3%,#17143f 90.0%,#100f2e 91.7%,#0d0c23 93.3%,#0b0b1c 95.0%,#0a0917 96.7%,#090913 98.3%,#080810 100.0%)"></div>
<div style="left:334.5px;top:48px;width:182.0px;height:4px;background:linear-gradient(90deg,#090813 0.0%,#0a0916 1.7%,#0b0b1c 3.3%,#0d0c23 5.0%,#100f2c 6.7%,#16133c 8.3%,#1c1850 10.0%,#251e67 11.7%,#2d247c 13.3%,#34288b 15.0%,#3b2d9b 16.7%,#4232aa 18.3%,#4834b3 20.0%,#4c35b5 21.7%,#5035b8 23.3%,#5435bb 25.0%,#5c36bd 26.7%,#7136b5 28.3%,#b93b81 30.0%,#ee4f2f 31.7%,#ee8c1f 33.3%,#ebaf1d 35.0%,#eab61e 36.7%,#eca81b 38.3%,#ef7923 40.0%,#e54544 41.7%,#a33a99 43.3%,#6d36b7 45.0%,#5e36bd 46.7%,#5836bd 48.3%,#5536bb 50.0%,#5435ba 51.7%,#5335ba 53.3%,#5435ba 55.0%,#5535bb 56.7%,#5836bd 58.3%,#5f36bc 60.0%,#6d36b7 61.7%,#9038a4 63.3%,#c33c76 65.0%,#e24448 66.7%,#ee4f2f 68.3%,#ef5c2b 70.0%,#ef5a2c 71.7%,#ec4b34 73.3%,#dc3f57 75.0%,#a1399a 76.7%,#6b36b8 78.3%,#5536bb 80.0%,#4b34b5 81.7%,#3f2fa3 83.3%,#322788 85.0%,#282171 86.7%,#1e1954 88.3%,#16133e 90.0%,#100f2d 91.7%,#0d0c23 93.3%,#0b0b1c 95.0%,#0a0916 96.7%,#090813 98.3%,#080810 100.0%)"></div>
<div style="left:334.5px;top:52px;width:182.0px;height:4px;background:linear-gradient(90deg,#090813 0.0%,#0a0916 1.7%,#0b0b1c 3.3%,#0d0c23 5.0%,#100f2c 6.7%,#16133c 8.3%,#1d1850 10.0%,#251e67 11.7%,#2d247c 13.3%,#34288b 15.0%,#3b2d9b 16.7%,#4232aa 18.3%,#4834b3 20.0%,#4c35b5 21.7%,#5035b8 23.3%,#5435bb 25.0%,#5c36bd 26.7%,#7236b5 28.3%,#be3c7c 30.0%,#ee532e 31.7%,#ee901e 33.3%,#eab11d 35.0%,#eab81f 36.7%,#eba91b 38.3%,#ef7b22 40.0%,#e54642 41.7%,#a43a98 43.3%,#6e36b6 45.0%,#5e36bd 46.7%,#5836bd 48.3%,#5536bb 50.0%,#5435ba 51.7%,#5335ba 53.3%,#5435ba 55.0%,#5536bb 56.7%,#5836bd 58.3%,#5f36bc 60.0%,#6e36b6 61.7%,#9238a3 63.3%,#c43c75 65.0%,#e34448 66.7%,#ee4f2f 68.3%,#ef5b2b 70.0%,#ef582c 71.7%,#eb4a37 73.3%,#da3e5a 75.0%,#9d399c 76.7%,#6936b8 78.3%,#5535bb 80.0%,#4a34b5 81.7%,#3e2fa1 83.3%,#322787 85.0%,#27206f 86.7%,#1e1953 88.3%,#16133d 90.0%,#100e2c 91.7%,#0d0c22 93.3%,#0b0b1b 95.0%,#0a0916 96.7%,#090812 98.3%,#08080f 100.0%)"></div>
<div style="left:334.5px;top:56px;width:182.0px;height:4px;background:linear-gradient(90deg,#090813 0.0%,#0a0916 1.7%,#0b0b1c 3.3%,#0d0c23 5.0%,#100f2c 6.7%,#16133c 8.3%,#1d1850 10.0%,#251e67 11.7%,#2d247c 13.3%,#34288b 15.0%,#3b2d9b 16.7%,#4232aa 18.3%,#4834b3 20.0%,#4c35b6 21.7%,#5035b8 23.3%,#5535bb 25.0%,#5d36bd 26.7%,#7436b4 28.3%,#c33c76 30.0%,#ef572c 31.7%,#ed951d 33.3%,#eab41e 35.0%,#e9ba1f 36.7%,#ebab1c 38.3%,#ef7d22 40.0%,#e64641 41.7%,#a53a98 43.3%,#6e36b6 45.0%,#5e36bd 46.7%,#5836bd 48.3%,#5536bb 50.0%,#5435ba 51.7%,#5335ba 53.3%,#5435ba 55.0%,#5536bb 56.7%,#5836bd 58.3%,#6036bc 60.0%,#6e36b6 61.7%,#9338a2 63.3%,#c43c74 65.0%,#e34448 66.7%,#ee4e2f 68.3%,#ef5a2c 70.0%,#ef562d 71.7%,#e9493a 73.3%,#d63e5e 75.0%,#98399f 76.7%,#6736b9 78.3%,#5435ba 80.0%,#4a34b4 81.7%,#3d2e9f 83.3%,#312785 85.0%,#27206d 86.7%,#1d1852 88.3%,#15133c 90.0%,#0f0e2b 91.7%,#0d0c22 93.3%,#0b0a1b 95.0%,#0a0916 96.7%,#090812 98.3%,#08080f 100.0%)"></div>
<div style="left:334.5px;top:60px;width:182.0px;height:4px;background:linear-gradient(90deg,#090813 0.0%,#0a0916 1.7%,#0b0b1c 3.3%,#0d0c23 5.0%,#100f2c 6.7%,#16133c 8.3%,#1d1850 10.0%,#251e67 11.7%,#2d247c 13.3%,#34288b 15.0%,#3b2d9b 16.7%,#4232aa 18.3%,#4834b3 20.0%,#4c35b6 21.7%,#5035b8 23.3%,#5535bb 25.0%,#5e36bd 26.7%,#7636b3 28.3%,#c73d70 30.0%,#ef5b2b 31.7%,#ed991c 33.3%,#eab61f 35.0%,#e9bc20 36.7%,#ebad1c 38.3%,#ef7f21 40.0%,#e64740 41.7%,#a63a97 43.3%,#6e36b6 45.0%,#5e36bd 46.7%,#5836bd 48.3%,#5536bb 50.0%,#5435ba 51.7%,#5335ba 53.3%,#5435ba 55.0%,#5536bb 56.7%,#5836bd 58.3%,#6036bc 60.0%,#6f36b6 61.7%,#9438a2 63.3%,#c53c73 65.0%,#e34448 66.7%,#ee4e2f 68.3%,#ef592c 70.0%,#ee552d 71.7%,#e8483c 73.3%,#d23d63 75.0%,#9438a1 76.7%,#6636b9 78.3%,#5335ba 80.0%,#4934b4 81.7%,#3d2e9e 83.3%,#312684 85.0%,#261f6b 86.7%,#1d1850 88.3%,#15123b 90.0%,#0f0e2a 91.7%,#0d0c21 93.3%,#0b0a1b 95.0%,#0a0916 96.7%,#090812 98.3%,#08080f 100.0%)"></div>
<div style="left:334.5px;top:64px;width:182.0px;height:4px;background:linear-gradient(90deg,#090813 0.0%,#0a0916 1.7%,#0b0b1c 3.3%,#0d0c23 5.0%,#100f2c 6.7%,#16133d 8.3%,#1d1850 10.0%,#251e67 11.7%,#2d247c 13.3%,#34288b 15.0%,#3b2d9b 16.7%,#4332ab 18.3%,#4834b3 20.0%,#4c35b6 21.7%,#5035b8 23.3%,#5535bb 25.0%,#5e36bc 26.7%,#7936b1 28.3%,#cc3d6a 30.0%,#ef602a 31.7%,#ed9d1b 33.3%,#e9b91f 35.0%,#e9be20 36.7%,#ebae1d 38.3%,#ef8021 40.0%,#e7473f 41.7%,#a73a97 43.3%,#6e36b6 45.0%,#5e36bc 46.7%,#5836bd 48.3%,#5536bb 50.0%,#5435ba 51.7%,#5335ba 53.3%,#5435ba 55.0%,#5536bb 56.7%,#5836bd 58.3%,#6036bc 60.0%,#6f36b6 61.7%,#9539a1 63.3%,#c63c72 65.0%,#e34448 66.7%,#ee4d30 68.3%,#ef582c 70.0%,#ee532e 71.7%,#e7473f 73.3%,#ce3d68 75.0%,#9038a4 76.7%,#6436ba 78.3%,#5335ba 80.0%,#4934b4 81.7%,#3c2d9c 83.3%,#302683 85.0%,#261f6a 86.7%,#1c184f 88.3%,#15123a 90.0%,#0f0e29 91.7%,#0d0c21 93.3%,#0b0a1a 95.0%,#0a0915 96.7%,#090812 98.3%,#08080f 100.0%)"></div>
<div style="left:334.5px;top:68px;width:182.0px;height:4px;background:linear-gradient(90deg,#090813 0.0%,#0a0916 1.7%,#0b0b1c 3.3%,#0d0c23 5.0%,#100f2c 6.7%,#16133d 8.3%,#1d1850 10.0%,#251e67 11.7%,#2d247c 13.3%,#34288b 15.0%,#3b2d9b 16.7%,#4332ab 18.3%,#4834b3 20.0%,#4c35b6 21.7%,#5035b8 23.3%,#5536bb 25.0%,#5f36bc 26.7%,#7d37af 28.3%,#d13d64 30.0%,#ef6428 31.7%,#eca21a 33.3%,#e9bb20 35.0%,#e9c021 36.7%,#ebaf1d 38.3%,#ef8221 40.0%,#e8473e 41.7%,#a83a96 43.3%,#6e36b6 45.0%,#5e36bc 46.7%,#5836bd 48.3%,#5536bb 50.0%,#5435ba 51.7%,#5435ba 53.3%,#5435ba 55.0%,#5536bb 56.7%,#5836bd 58.3%,#6136bb 60.0%,#6f36b6 61.7%,#9639a0 63.3%,#c73c71 65.0%,#e34447 66.7%,#ee4d30 68.3%,#ef562d 70.0%,#ee512e 71.7%,#e64641 73.3%,#ca3d6d 75.0%,#8c38a6 76.7%,#6336bb 78.3%,#5235b9 80.0%,#4834b3 81.7%,#3b2d9b 83.3%,#2f2582 85.0%,#251e68 86.7%,#1c174d 88.3%,#141239 90.0%,#0f0e29 91.7%,#0c0c20 93.3%,#0b0a1a 95.0%,#090915 96.7%,#090812 98.3%,#08080f 100.0%)"></div>
<div style="left:334.5px;top:72px;width:182.0px;height:4px;background:linear-gradient(90deg,#090813 0.0%,#0a0916 1.7%,#0b0b1c 3.3%,#0d0c23 5.0%,#100f2c 6.7%,#16133d 8.3%,#1d1850 10.0%,#251e67 11.7%,#2d247c 13.3%,#34288b 15.0%,#3b2d9b 16.7%,#4332ab 18.3%,#4834b3 20.0%,#4c35b6 21.7%,#5035b8 23.3%,#5536bb 25.0%,#6036bc 26.7%,#8037ad 28.3%,#d73e5e 30.0%,#ef6827 31.7%,#eca51a 33.3%,#e9bd20 35.0%,#e8c221 36.7%,#eab11d 38.3%,#ef8321 40.0%,#e8483d 41.7%,#a83a96 43.3%,#6e36b6 45.0%,#5e36bc 46.7%,#5836bd 48.3%,#5536bb 50.0%,#5435ba 51.7%,#5435ba 53.3%,#5435ba 55.0%,#5536bb 56.7%,#5836bd 58.3%,#6136bb 60.0%,#7036b6 61.7%,#9739a0 63.3%,#c73c71 65.0%,#e34448 66.7%,#ee4c30 68.3%,#ee552d 70.0%,#ee4f2f 71.7%,#e44544 73.3%,#c63c72 75.0%,#8838a9 76.7%,#6136bb 78.3%,#5235b9 80.0%,#4834b3 81.7%,#3a2d99 83.3%,#2f2580 85.0%,#241e66 86.7%,#1b174c 88.3%,#141238 90.0%,#0f0e28 91.7%,#0c0c20 93.3%,#0b0a1a 95.0%,#090915 96.7%,#080811 98.3%,#08080f 100.0%)"></div>
<div style="left:334.5px;top:76px;width:182.0px;height:4px;background:linear-gradient(90deg,#090813 0.0%,#0a0916 1.7%,#0b0b1c 3.3%,#0d0c23 5.0%,#100f2c 6.7%,#16133d 8.3%,#1d1850 10.0%,#251e67 11.7%,#2d247c 13.3%,#34288b 15.0%,#3b2d9b 16.7%,#4332ab 18.3%,#4834b3 20.0%,#4c35b6 21.7%,#5035b8 23.3%,#5636bb 25.0%,#6136bb 26.7%,#8437ab 28.3%,#db3e59 30.0%,#f06c26 31.7%,#eca81b 33.3%,#e9c021 35.0%,#e8c422 36.7%,#eab21e 38.3%,#ee8520 40.0%,#e8483c 41.7%,#a93a95 43.3%,#6e36b6 45.0%,#5e36bc 46.7%,#5836bd 48.3%,#5536bb 50.0%,#5435ba 51.7%,#5435ba 53.3%,#5435ba 55.0%,#5636bb 56.7%,#5936bd 58.3%,#6136bb 60.0%,#7036b5 61.7%,#98399f 63.3%,#c83d70 65.0%,#e34448 66.7%,#ee4c31 68.3%,#ee542e 70.0%,#ee4d30 71.7%,#e34447 73.3%,#c23c77 75.0%,#8437ab 76.7%,#5f36bc 78.3%,#5135b9 80.0%,#4734b3 81.7%,#3a2c97 83.3%,#2e257f 85.0%,#241d65 86.7%,#1b174b 88.3%,#131136 90.0%,#0e0d28 91.7%,#0c0c20 93.3%,#0b0a19 95.0%,#090915 96.7%,#080811 98.3%,#08080f 100.0%)"></div>
<div style="left:334.5px;top:80px;width:182.0px;height:4px;background:linear-gradient(90deg,#090813 0.0%,#0a0917 1.7%,#0b0b1c 3.3%,#0d0c23 5.0%,#100f2c 6.7%,#16133d 8.3%,#1d1850 10.0%,#251e67 11.7%,#2d247c 13.3%,#34288c 15.0%,#3b2d9b 16.7%,#4332ab 18.3%,#4834b3 20.0%,#4c35b6 21.7%,#5035b8 23.3%,#5636bb 25.0%,#6236bb 26.7%,#8737a9 28.3%,#dc4055 30.0%,#f07124 31.7%,#ebaa1c 33.3%,#e8c222 35.0%,#e8c525 36.7%,#eab31e 38.3%,#ee8620 40.0%,#e9483b 41.7%,#a93a94 43.3%,#6f36b6 45.0%,#5e36bc 46.7%,#5836bd 48.3%,#5536bb 50.0%,#5435ba 51.7%,#5435ba 53.3%,#5435ba 55.0%,#5636bb 56.7%,#5936bd 58.3%,#6236bb 60.0%,#7136b5 61.7%,#98399f 63.3%,#c83d6f 65.0%,#e34448 66.7%,#ed4c31 68.3%,#ee532e 70.0%,#ee4c31 71.7%,#e24449 73.3%,#be3c7c 75.0%,#7f37ad 76.7%,#5e36bd 78.3%,#5035b8 80.0%,#4734b2 81.7%,#392c96 83.3%,#2e247e 85.0%,#231d63 86.7%,#1a1649 88.3%,#131135 90.0%,#0e0d27 91.7%,#0c0b1f 93.3%,#0b0a19 95.0%,#090914 96.7%,#080811 98.3%,#08080f 100.0%)"></div>
<div style="left:334.5px;top:84px;width:182.0px;height:4px;background:linear-gradient(90deg,#090813 0.0%,#0a0917 1.7%,#0b0b1c 3.3%,#0d0c23 5.0%,#100f2c 6.7%,#16133d 8.3%,#1d1850 10.0%,#251e67 11.7%,#2d247c 13.3%,#34288c 15.0%,#3b2d9b 16.7%,#4332ab 18.3%,#4834b3 20.0%,#4c35b6 21.7%,#5135b8 23.3%,#5636bc 25.0%,#6336bb 26.7%,#8b38a7 28.3%,#de4151 30.0%,#f07523 31.7%,#ebad1c 33.3%,#e8c423 35.0%,#e8c627 36.7%,#eab51e 38.3%,#ee8720 40.0%,#e9493a 41.7%,#aa3a94 43.3%,#6f36b6 45.0%,#5e36bc 46.7%,#5836bd 48.3%,#5536bb 50.0%,#5435ba 51.7%,#5435ba 53.3%,#5435ba 55.0%,#5636bb 56.7%,#5936bd 58.3%,#6236bb 60.0%,#7136b5 61.7%,#99399f 63.3%,#c83d6f 65.0%,#e34448 66.7%,#ed4b32 68.3%,#ee512e 70.0%,#ed4b33 71.7%,#e1434c 73.3%,#ba3b80 75.0%,#7b37b0 76.7%,#5c36bd 78.3%,#5035b8 80.0%,#4634b2 81.7%,#382b94 83.3%,#2d247d 85.0%,#231d61 86.7%,#1a1648 88.3%,#131134 90.0%,#0e0d27 91.7%,#0c0b1f 93.3%,#0a0a19 95.0%,#090914 96.7%,#080811 98.3%,#08080e 100.0%)"></div>
<div style="left:334.5px;top:88px;width:182.0px;height:4px;background:linear-gradient(90deg,#090813 0.0%,#0a0917 1.7%,#0b0b1c 3.3%,#0d0c23 5.0%,#100f2c 6.7%,#16133d 8.3%,#1d1850 10.0%,#251e67 11.7%,#2d247c 13.3%,#34288c 15.0%,#3c2d9c 16.7%,#4332ab 18.3%,#4834b3 20.0%,#4c35b6 21.7%,#5135b8 23.3%,#5636bc 25.0%,#6336ba 26.7%,#8f38a5 28.3%,#e0424e 30.0%,#ef7923 31.7%,#ebaf1d 33.3%,#e8c626 35.0%,#e9c72a 36.7%,#eab61e 38.3%,#ee891f 40.0%,#ea4939 41.7%,#aa3a93 43.3%,#6f36b6 45.0%,#5e36bc 46.7%,#5836bd 48.3%,#5536bb 50.0%,#5435ba 51.7%,#5435ba 53.3%,#5435ba 55.0%,#5636bb 56.7%,#5936bd 58.3%,#6236bb 60.0%,#7136b5 61.7%,#9a399e 63.3%,#c93d6f 65.0%,#e24448 66.7%,#ed4b33 68.3%,#ee502f 70.0%,#ec4a35 71.7%,#e0424e 73.3%,#b63b85 75.0%,#7736b2 76.7%,#5b36be 78.3%,#4f35b7 80.0%,#4534b0 81.7%,#382b93 83.3%,#2d247b 85.0%,#221c60 86.7%,#191647 88.3%,#121033 90.0%,#0e0d26 91.7%,#0c0b1e 93.3%,#0a0a18 95.0%,#090914 96.7%,#080811 98.3%,#08070e 100.0%)"></div>
<div style="left:334.5px;top:92px;width:182.0px;height:4px;background:linear-gradient(90deg,#090813 0.0%,#0a0917 1.7%,#0b0b1c 3.3%,#0d0c23 5.0%,#100f2c 6.7%,#16133d 8.3%,#1d1850 10.0%,#251e67 11.7%,#2d247c 13.3%,#34298c 15.0%,#3c2d9c 16.7%,#4332ab 18.3%,#4834b3 20.0%,#4c35b6 21.7%,#5135b8 23.3%,#5636bc 25.0%,#6436ba 26.7%,#9238a2 28.3%,#e2434a 30.0%,#ef7d22 31.7%,#eab11d 33.3%,#e9c729 35.0%,#e9c82d 36.7%,#eab71f 38.3%,#ee8a1f 40.0%,#ea4939 41.7%,#ab3a93 43.3%,#6f36b6 45.0%,#5e36bc 46.7%,#5836bd 48.3%,#5536bb 50.0%,#5435ba 51.7%,#5435ba 53.3%,#5435ba 55.0%,#5636bb 56.7%,#5936bd 58.3%,#6236bb 60.0%,#7136b5 61.7%,#9a399e 63.3%,#c93d6f 65.0%,#e24448 66.7%,#ec4b34 68.3%,#ee4f2f 70.0%,#eb4a37 71.7%,#de4151 73.3%,#b23b8a 75.0%,#7436b4 76.7%,#5a36be 78.3%,#4f35b7 80.0%,#4433af 81.7%,#372a91 83.3%,#2c237a 85.0%,#221c5e 86.7%,#191546 88.3%,#121032 90.0%,#0e0d26 91.7%,#0c0b1e 93.3%,#0a0a18 95.0%,#090914 96.7%,#080811 98.3%,#08070e 100.0%)"></div>
<div style="left:334.5px;top:96px;width:182.0px;height:4px;background:linear-gradient(90deg,#090813 0.0%,#0a0917 1.7%,#0b0b1c 3.3%,#0d0c23 5.0%,#100f2c 6.7%,#16133d 8.3%,#1d1850 10.0%,#251e67 11.7%,#2d247c 13.3%,#34298c 15.0%,#3c2d9c 16.7%,#4332ab 18.3%,#4834b3 20.0%,#4c35b6 21.7%,#5135b9 23.3%,#5736bc 25.0%,#6536ba 26.7%,#9639a0 28.3%,#e44546 30.0%,#ef8121 31.7%,#eab41e 33.3%,#e9c82d 35.0%,#e9c92f 36.7%,#e9b81f 38.3%,#ee8b1f 40.0%,#ea4938 41.7%,#ab3a92 43.3%,#6f36b6 45.0%,#5e36bd 46.7%,#5836bd 48.3%,#5536bb 50.0%,#5435ba 51.7%,#5435ba 53.3%,#5435ba 55.0%,#5636bb 56.7%,#5936bd 58.3%,#6336bb 60.0%,#7236b5 61.7%,#9a399e 63.3%,#c93d6f 65.0%,#e24449 66.7%,#ec4a35 68.3%,#ee4d30 70.0%,#ea4939 71.7%,#dd4053 73.3%,#ae3b8e 75.0%,#7236b5 76.7%,#5936bd 78.3%,#4e35b7 80.0%,#4432ad 81.7%,#362a90 83.3%,#2b2379 85.0%,#211b5d 86.7%,#181544 88.3%,#121032 90.0%,#0e0d25 91.7%,#0c0b1e 93.3%,#0a0a18 95.0%,#090914 96.7%,#080810 98.3%,#08070e 100.0%)"></div>
<div style="left:334.5px;top:100px;width:182.0px;height:4px;background:linear-gradient(90deg,#090813 0.0%,#0a0917 1.7%,#0b0b1c 3.3%,#0d0c23 5.0%,#100f2c 6.7%,#16133d 8.3%,#1d1850 10.0%,#251e67 11.7%,#2d247c 13.3%,#34298c 15.0%,#3c2d9c 16.7%,#4332ac 18.3%,#4834b3 20.0%,#4c35b6 21.7%,#5135b9 23.3%,#5736bc 25.0%,#6636b9 26.7%,#9a399e 28.3%,#e64642 30.0%,#ef8520 31.7%,#eab61f 33.3%,#e9c930 35.0%,#e9ca32 36.7%,#e9b91f 38.3%,#ee8c1f 40.0%,#ea4938 41.7%,#ab3a92 43.3%,#6f36b6 45.0%,#5e36bd 46.7%,#5736bc 48.3%,#5536bb 50.0%,#5435ba 51.7%,#5435ba 53.3%,#5435ba 55.0%,#5636bb 56.7%,#5936bd 58.3%,#6336bb 60.0%,#7236b5 61.7%,#9b399e 63.3%,#c93d6f 65.0%,#e24449 66.7%,#eb4a36 68.3%,#ee4c30 70.0%,#e9483b 71.7%,#dc3f56 73.3%,#ab3a93 75.0%,#7136b5 76.7%,#5836bd 78.3%,#4d35b6 80.0%,#4332ab 81.7%,#35298f 83.3%,#2b2378 85.0%,#201b5b 86.7%,#181543 88.3%,#111031 90.0%,#0e0d25 91.7%,#0c0b1d 93.3%,#0a0a18 95.0%,#090913 96.7%,#080810 98.3%,#08070e 100.0%)"></div>
<div style="left:334.5px;top:104px;width:182.0px;height:4px;background:linear-gradient(90deg,#090813 0.0%,#0a0917 1.7%,#0b0b1c 3.3%,#0d0c23 5.0%,#100f2c 6.7%,#16133d 8.3%,#1d1851 10.0%,#251e67 11.7%,#2d247c 13.3%,#34298c 15.0%,#3c2d9c 16.7%,#4332ac 18.3%,#4834b3 20.0%,#4d35b6 21.7%,#5135b9 23.3%,#5736bc 25.0%,#6736b9 26.7%,#9e399c 28.3%,#e7473e 30.0%,#ee891f 31.7%,#e9b91f 33.3%,#e9ca33 35.0%,#e9cb34 36.7%,#e9ba20 38.3%,#ee8c1f 40.0%,#eb4a37 41.7%,#ab3a92 43.3%,#6f36b6 45.0%,#5e36bd 46.7%,#5736bc 48.3%,#5536bb 50.0%,#5435ba 51.7%,#5435ba 53.3%,#5435ba 55.0%,#5636bb 56.7%,#5936bd 58.3%,#6336bb 60.0%,#7236b5 61.7%,#9b399e 63.3%,#c93d6f 65.0%,#e2434a 66.7%,#eb4a37 68.3%,#ed4b32 70.0%,#e8473e 71.7%,#db3f58 73.3%,#a73a97 75.0%,#6f36b6 76.7%,#5836bd 78.3%,#4d35b6 80.0%,#4231a9 81.7%,#35298d 83.3%,#2a2277 85.0%,#201b5a 86.7%,#181442 88.3%,#110f30 90.0%,#0d0d24 91.7%,#0c0b1d 93.3%,#0a0a17 95.0%,#090913 96.7%,#080810 98.3%,#08070e 100.0%)"></div>
<div style="left:334.5px;top:108px;width:182.0px;height:4px;background:linear-gradient(90deg,#090813 0.0%,#0a0917 1.7%,#0b0b1c 3.3%,#0d0c23 5.0%,#100f2c 6.7%,#16133d 8.3%,#1d1851 10.0%,#251e67 11.7%,#2d247c 13.3%,#34298c 15.0%,#3c2d9c 16.7%,#4332ac 18.3%,#4834b3 20.0%,#4d35b6 21.7%,#5135b9 23.3%,#5736bc 25.0%,#6836b8 26.7%,#a33a99 28.3%,#e9493a 30.0%,#ee8d1f 31.7%,#e9bb20 33.3%,#eacc36 35.0%,#eacc36 36.7%,#e9bb20 38.3%,#ee8d1f 40.0%,#eb4a37 41.7%,#ab3a92 43.3%,#6f36b6 45.0%,#5e36bd 46.7%,#5736bc 48.3%,#5536bb 50.0%,#5435ba 51.7%,#5435ba 53.3%,#5435ba 55.0%,#5636bc 56.7%,#5936bd 58.3%,#6336bb 60.0%,#7236b5 61.7%,#9b399d 63.3%,#c93d6f 65.0%,#e2434a 66.7%,#ea4938 68.3%,#ec4b33 70.0%,#e74740 71.7%,#d93e5b 73.3%,#a33a99 75.0%,#6d36b7 76.7%,#5736bc 78.3%,#4c35b6 80.0%,#4131a7 81.7%,#34298c 83.3%,#2a2276 85.0%,#1f1a58 86.7%,#171441 88.3%,#110f2f 90.0%,#0d0d24 91.7%,#0b0b1c 93.3%,#0a0a17 95.0%,#090913 96.7%,#080810 98.3%,#08070e 100.0%)"></div>
<div style="left:334.5px;top:112px;width:182.0px;height:4px;background:linear-gradient(90deg,#090813 0.0%,#0a0917 1.7%,#0b0b1c 3.3%,#0d0c23 5.0%,#100f2c 6.7%,#16133d 8.3%,#1d1851 10.0%,#251e67 11.7%,#2d247c 13.3%,#34298c 15.0%,#3c2d9c 16.7%,#4332ac 18.3%,#4934b4 20.0%,#4d35b6 21.7%,#5135b9 23.3%,#5836bd 25.0%,#6936b8 26.7%,#a73a97 28.3%,#eb4a35 30.0%,#ee911e 31.7%,#e9be20 33.3%,#eacd3a 35.0%,#eacc39 36.7%,#e9bc20 38.3%,#ee8e1e 40.0%,#eb4a37 41.7%,#ab3a92 43.3%,#6f36b6 45.0%,#5e36bd 46.7%,#5736bc 48.3%,#5536bb 50.0%,#5435ba 51.7%,#5435ba 53.3%,#5435ba 55.0%,#5636bc 56.7%,#5936bd 58.3%,#6336bb 60.0%,#7236b5 61.7%,#9b399d 63.3%,#c83d6f 65.0%,#e1434b 66.7%,#ea4939 68.3%,#ec4a35 70.0%,#e64642 71.7%,#d53e60 73.3%,#9f399b 75.0%,#6c36b7 76.7%,#5636bc 78.3%,#4c35b5 80.0%,#4030a6 81.7%,#34288a 83.3%,#292174 85.0%,#1f1a57 86.7%,#171440 88.3%,#100f2e 90.0%,#0d0c23 91.7%,#0b0b1c 93.3%,#0a0917 95.0%,#090913 96.7%,#080810 98.3%,#07070e 100.0%)"></div>
<div style="left:334.5px;top:116px;width:182.0px;height:4px;background:linear-gradient(90deg,#090813 0.0%,#0a0917 1.7%,#0b0b1c 3.3%,#0d0c23 5.0%,#100f2c 6.7%,#16133d 8.3%,#1d1851 10.0%,#251e67 11.7%,#2d247c 13.3%,#34298c 15.0%,#3c2d9c 16.7%,#4332ac 18.3%,#4934b4 20.0%,#4d35b6 21.7%,#5235b9 23.3%,#5836bd 25.0%,#6b36b8 26.7%,#ab3a92 28.3%,#ed4c31 30.0%,#ed951d 31.7%,#e8c021 33.3%,#eace3d 35.0%,#eacd3b 36.7%,#e9bd20 38.3%,#ee8e1e 40.0%,#eb4a36 41.7%,#ab3a92 43.3%,#6f36b6 45.0%,#5e36bd 46.7%,#5736bc 48.3%,#5536bb 50.0%,#5435ba 51.7%,#5435ba 53.3%,#5435ba 55.0%,#5636bc 56.7%,#5936bd 58.3%,#6336ba 60.0%,#7236b5 61.7%,#9b399d 63.3%,#c83d6f 65.0%,#e1434b 66.7%,#e9493a 68.3%,#eb4a36 70.0%,#e54544 71.7%,#d23d64 73.3%,#9b399d 75.0%,#6a36b8 76.7%,#5636bb 78.3%,#4b35b5 80.0%,#4030a4 81.7%,#332889 83.3%,#292172 85.0%,#1e1955 86.7%,#16133f 88.3%,#100f2d 90.0%,#0d0c23 91.7%,#0b0b1c 93.3%,#0a0916 95.0%,#090813 96.7%,#080810 98.3%,#07070d 100.0%)"></div>
<div style="left:334.5px;top:120px;width:182.0px;height:4px;background:linear-gradient(90deg,#090813 0.0%,#0a0917 1.7%,#0b0b1c 3.3%,#0d0c23 5.0%,#100f2c 6.7%,#16133d 8.3%,#1d1851 10.0%,#251e68 11.7%,#2d247c 13.3%,#34298c 15.0%,#3c2d9c 16.7%,#4332ac 18.3%,#4934b4 20.0%,#4d35b6 21.7%,#5235b9 23.3%,#5836bd 25.0%,#6c36b7 26.7%,#b03b8d 28.3%,#ee4f2f 30.0%,#ed991c 31.7%,#e8c222 33.3%,#eacf40 35.0%,#eace3d 36.7%,#e9bd20 38.3%,#ee8f1e 40.0%,#eb4a36 41.7%,#ab3a92 43.3%,#6e36b6 45.0%,#5e36bd 46.7%,#5736bc 48.3%,#5536bb 50.0%,#5435ba 51.7%,#5435ba 53.3%,#5435ba 55.0%,#5636bc 56.7%,#5936bd 58.3%,#6336ba 60.0%,#7236b5 61.7%,#9b399d 63.3%,#c83d70 65.0%,#e1434c 66.7%,#e9483b 68.3%,#ea4938 70.0%,#e44546 71.7%,#ce3d68 73.3%,#9739a0 75.0%,#6936b8 76.7%,#5536bb 78.3%,#4b34b5 80.0%,#3f2fa2 81.7%,#322788 83.3%,#282070 85.0%,#1e1954 86.7%,#16133d 88.3%,#100f2c 90.0%,#0d0c22 91.7%,#0b0b1b 93.3%,#0a0916 95.0%,#090812 96.7%,#08080f 98.3%,#07070d 100.0%)"></div>
<div style="left:334.5px;top:124px;width:182.0px;height:4px;background:linear-gradient(90deg,#090813 0.0%,#0a0917 1.7%,#0b0b1c 3.3%,#0d0c23 5.0%,#100f2c 6.7%,#16133d 8.3%,#1d1851 10.0%,#251e68 11.7%,#2d247c 13.3%,#34298c 15.0%,#3c2e9c 16.7%,#4332ac 18.3%,#4934b4 20.0%,#4d35b6 21.7%,#5235b9 23.3%,#5936bd 25.0%,#6d36b7 26.7%,#b43b88 28.3%,#ee532e 30.0%,#ed9d1b 31.7%,#e8c423 33.3%,#ebd043 35.0%,#eacf3f 36.7%,#e9be21 38.3%,#ee8f1e 40.0%,#eb4a36 41.7%,#ab3a92 43.3%,#6e36b6 45.0%,#5d36bd 46.7%,#5736bc 48.3%,#5536bb 50.0%,#5435ba 51.7%,#5435ba 53.3%,#5435ba 55.0%,#5636bc 56.7%,#5936be 58.3%,#6336ba 60.0%,#7236b5 61.7%,#9b399d 63.3%,#c73d70 65.0%,#e1434c 66.7%,#e8483c 68.3%,#e9493a 70.0%,#e34448 71.7%,#cb3d6c 73.3%,#9438a2 75.0%,#6736b9 76.7%,#5435bb 78.3%,#4a34b4 80.0%,#3e2fa1 81.7%,#322786 83.3%,#27206e 85.0%,#1d1952 86.7%,#16133c 88.3%,#0f0e2b 90.0%,#0d0c22 91.7%,#0b0a1b 93.3%,#0a0916 95.0%,#090812 96.7%,#08080f 98.3%,#07070d 100.0%)"></div>
<div style="left:334.5px;top:128px;width:182.0px;height:4px;background:linear-gradient(90deg,#090813 0.0%,#0a0917 1.7%,#0b0b1c 3.3%,#0d0c23 5.0%,#100f2c 6.7%,#16133d 8.3%,#1d1851 10.0%,#251e68 11.7%,#2d247c 13.3%,#34298c 15.0%,#3c2e9c 16.7%,#4332ac 18.3%,#4934b4 20.0%,#4d35b6 21.7%,#5235b9 23.3%,#5936bd 25.0%,#6e36b6 26.7%,#b83b82 28.3%,#ef572d 30.0%,#eca11b 31.7%,#e8c627 33.3%,#ebd146 35.0%,#ebd041 36.7%,#e9bf21 38.3%,#ee901e 40.0%,#eb4a36 41.7%,#ab3a93 43.3%,#6e36b6 45.0%,#5d36bd 46.7%,#5736bc 48.3%,#5535bb 50.0%,#5435ba 51.7%,#5435ba 53.3%,#5435ba 55.0%,#5636bc 56.7%,#5936be 58.3%,#6336ba 60.0%,#7236b5 61.7%,#9b399e 63.3%,#c73c71 65.0%,#e0424d 66.7%,#e8483d 68.3%,#e9483b 70.0%,#e2434a 71.7%,#c83d70 73.3%,#9038a4 75.0%,#6636ba 76.7%,#5435ba 78.3%,#4a34b4 80.0%,#3d2e9f 81.7%,#312785 83.3%,#27206d 85.0%,#1d1851 86.7%,#15133b 88.3%,#0f0e2a 90.0%,#0d0c21 91.7%,#0b0a1b 93.3%,#0a0916 95.0%,#090812 96.7%,#08080f 98.3%,#07070d 100.0%)"></div>
<div style="left:334.5px;top:132px;width:182.0px;height:4px;background:linear-gradient(90deg,#090813 0.0%,#0a0917 1.7%,#0b0b1c 3.3%,#0d0c23 5.0%,#100f2c 6.7%,#16133d 8.3%,#1d1851 10.0%,#251e68 11.7%,#2d247d 13.3%,#34298c 15.0%,#3c2e9d 16.7%,#4332ad 18.3%,#4934b4 20.0%,#4d35b6 21.7%,#5235b9 23.3%,#5936bd 25.0%,#6f36b6 26.7%,#bd3c7d 28.3%,#ef5b2b 30.0%,#eca51a 31.7%,#e9c72a 33.3%,#ebd248 35.0%,#ebd043 36.7%,#e9bf21 38.3%,#ee901e 40.0%,#eb4a36 41.7%,#ab3a93 43.3%,#6e36b6 45.0%,#5d36bd 46.7%,#5736bc 48.3%,#5535bb 50.0%,#5435ba 51.7%,#5435ba 53.3%,#5435ba 55.0%,#5636bc 56.7%,#5936be 58.3%,#6336ba 60.0%,#7236b5 61.7%,#9b399e 63.3%,#c73c71 65.0%,#e0424e 66.7%,#e7473e 68.3%,#e8483d 70.0%,#e1434c 71.7%,#c43c74 73.3%,#8c38a6 75.0%,#6436ba 76.7%,#5335ba 78.3%,#4934b4 80.0%,#3c2e9d 81.7%,#302684 83.3%,#261f6b 85.0%,#1c1850 86.7%,#15123a 88.3%,#0f0e2a 90.0%,#0d0c21 91.7%,#0b0a1a 93.3%,#0a0915 95.0%,#090812 96.7%,#08080f 98.3%,#07070d 100.0%)"></div>
<div style="left:334.5px;top:136px;width:182.0px;height:4px;background:linear-gradient(90deg,#090813 0.0%,#0a0917 1.7%,#0b0b1c 3.3%,#0d0c23 5.0%,#100f2d 6.7%,#16133d 8.3%,#1d1851 10.0%,#251e68 11.7%,#2d247d 13.3%,#35298d 15.0%,#3c2e9d 16.7%,#4432ad 18.3%,#4934b4 20.0%,#4d35b6 21.7%,#5235b9 23.3%,#5936be 25.0%,#7136b5 26.7%,#c23c77 28.3%,#ef5f2a 30.0%,#eca71b 31.7%,#e9c82e 33.3%,#ebd34b 35.0%,#ebd144 36.7%,#e9c021 38.3%,#ee901e 40.0%,#eb4a36 41.7%,#aa3a93 43.3%,#6e36b6 45.0%,#5d36bd 46.7%,#5736bc 48.3%,#5535bb 50.0%,#5435ba 51.7%,#5335ba 53.3%,#5435ba 55.0%,#5636bc 56.7%,#5936bd 58.3%,#6336ba 60.0%,#7236b5 61.7%,#9a399e 63.3%,#c63c72 65.0%,#e0424e 66.7%,#e7473f 68.3%,#e7473e 70.0%,#e0424e 71.7%,#c13c78 73.3%,#8938a8 75.0%,#6336bb 76.7%,#5335ba 78.3%,#4834b3 80.0%,#3c2d9c 81.7%,#302682 83.3%,#251f69 85.0%,#1c184e 86.7%,#141239 88.3%,#0f0e29 90.0%,#0d0c21 91.7%,#0b0a1a 93.3%,#090915 95.0%,#090812 96.7%,#08080f 98.3%,#07070d 100.0%)"></div>
<div style="left:334.5px;top:140px;width:182.0px;height:4px;background:linear-gradient(90deg,#090813 0.0%,#0a0917 1.7%,#0b0b1c 3.3%,#0d0c23 5.0%,#100f2d 6.7%,#16133d 8.3%,#1d1851 10.0%,#251e68 11.7%,#2d247d 13.3%,#35298d 15.0%,#3c2e9d 16.7%,#4432ad 18.3%,#4934b4 20.0%,#4d35b6 21.7%,#5335ba 23.3%,#5a36be 25.0%,#7236b5 26.7%,#c73c71 28.3%,#ef6329 30.0%,#ebaa1b 31.7%,#e9ca31 33.3%,#ecd54e 35.0%,#ebd246 36.7%,#e8c021 38.3%,#ee901e 40.0%,#eb4a37 41.7%,#aa3a94 43.3%,#6e36b6 45.0%,#5d36bd 46.7%,#5736bc 48.3%,#5535bb 50.0%,#5435ba 51.7%,#5335ba 53.3%,#5435ba 55.0%,#5636bc 56.7%,#5936bd 58.3%,#6336bb 60.0%,#7236b5 61.7%,#9a399e 63.3%,#c53c73 65.0%,#df424f 66.7%,#e64740 68.3%,#e64740 70.0%,#df4150 71.7%,#bd3c7c 73.3%,#8537aa 75.0%,#6136bb 76.7%,#5235b9 78.3%,#4834b3 80.0%,#3b2d9a 81.7%,#2f2581 83.3%,#251e67 85.0%,#1b174d 86.7%,#141238 88.3%,#0f0e29 90.0%,#0c0c20 91.7%,#0b0a1a 93.3%,#090915 95.0%,#080811 96.7%,#08080f 98.3%,#07070d 100.0%)"></div>
<div style="left:334.5px;top:144px;width:182.0px;height:4px;background:linear-gradient(90deg,#090813 0.0%,#0a0917 1.7%,#0b0b1c 3.3%,#0d0c23 5.0%,#100f2d 6.7%,#16133d 8.3%,#1d1851 10.0%,#251e68 11.7%,#2d247d 13.3%,#35298d 15.0%,#3c2e9d 16.7%,#4433ad 18.3%,#4934b4 20.0%,#4d35b6 21.7%,#5335ba 23.3%,#5a36be 25.0%,#7336b4 26.7%,#cb3d6b 28.3%,#ef6727 30.0%,#ebac1c 31.7%,#eacb35 33.3%,#ecd651 35.0%,#ebd248 36.7%,#e8c121 38.3%,#ee901e 40.0%,#eb4a37 41.7%,#a93a95 43.3%,#6e36b6 45.0%,#5d36bd 46.7%,#5736bc 48.3%,#5535bb 50.0%,#5435ba 51.7%,#5335ba 53.3%,#5435ba 55.0%,#5636bc 56.7%,#5936bd 58.3%,#6336bb 60.0%,#7236b5 61.7%,#9a399e 63.3%,#c53c74 65.0%,#df4150 66.7%,#e64641 68.3%,#e64642 70.0%,#de4152 71.7%,#ba3b80 73.3%,#8137ac 75.0%,#6036bc 76.7%,#5135b9 78.3%,#4734b3 80.0%,#3a2c99 81.7%,#2f2580 83.3%,#241e66 85.0%,#1b174c 86.7%,#141137 88.3%,#0f0e28 90.0%,#0c0c20 91.7%,#0b0a19 93.3%,#090915 95.0%,#080811 96.7%,#08080f 98.3%,#07070d 100.0%)"></div>
<div style="left:334.5px;top:148px;width:182.0px;height:4px;background:linear-gradient(90deg,#090813 0.0%,#0a0917 1.7%,#0b0b1c 3.3%,#0d0c23 5.0%,#100f2d 6.7%,#16133d 8.3%,#1d1851 10.0%,#251e68 11.7%,#2d247d 13.3%,#35298d 15.0%,#3c2e9d 16.7%,#4433ad 18.3%,#4934b4 20.0%,#4d35b6 21.7%,#5335ba 23.3%,#5b36be 25.0%,#7636b3 26.7%,#d03d66 28.3%,#f06b26 30.0%,#ebae1d 31.7%,#eacc38 33.3%,#ecd754 35.0%,#ebd349 36.7%,#e8c121 38.3%,#ee901e 40.0%,#ea4a37 41.7%,#a93a95 43.3%,#6d36b7 45.0%,#5d36bd 46.7%,#5736bc 48.3%,#5535bb 50.0%,#5435ba 51.7%,#5335ba 53.3%,#5435ba 55.0%,#5636bb 56.7%,#5936bd 58.3%,#6336bb 60.0%,#7236b5 61.7%,#99399f 63.3%,#c43c74 65.0%,#de4151 66.7%,#e54642 68.3%,#e54643 70.0%,#dd4054 71.7%,#b73b84 73.3%,#7e37ae 75.0%,#5e36bc 76.7%,#5135b8 78.3%,#4734b3 80.0%,#392c97 81.7%,#2e257f 83.3%,#241d64 85.0%,#1b174a 86.7%,#131136 88.3%,#0e0d28 90.0%,#0c0c1f 91.7%,#0b0a19 93.3%,#090915 95.0%,#080811 96.7%,#08080f 98.3%,#07070d 100.0%)"></div>
<div style="left:334.5px;top:152px;width:182.0px;height:4px;background:linear-gradient(90deg,#090813 0.0%,#0a0917 1.7%,#0b0b1c 3.3%,#0d0c23 5.0%,#100f2d 6.7%,#16133d 8.3%,#1d1851 10.0%,#251e68 11.7%,#2d247d 13.3%,#35298d 15.0%,#3c2e9d 16.7%,#4433ad 18.3%,#4934b4 20.0%,#4e35b7 21.7%,#5335ba 23.3%,#5c36bd 25.0%,#7936b1 26.7%,#d53e5f 28.3%,#f07025 30.0%,#eab11d 31.7%,#eace3b 33.3%,#edd859 35.0%,#ebd34b 36.7%,#e8c221 38.3%,#ee901e 40.0%,#ea4938 41.7%,#a83a96 43.3%,#6d36b7 45.0%,#5d36bd 46.7%,#5736bc 48.3%,#5535bb 50.0%,#5435ba 51.7%,#5335ba 53.3%,#5435ba 55.0%,#5636bb 56.7%,#5936bd 58.3%,#6336bb 60.0%,#7236b5 61.7%,#99399f 63.3%,#c33c75 65.0%,#de4151 66.7%,#e54544 68.3%,#e44545 70.0%,#dc3f56 71.7%,#b43b88 73.3%,#7a36b0 75.0%,#5d36bd 76.7%,#5035b8 78.3%,#4634b2 80.0%,#392b96 81.7%,#2e247e 83.3%,#231d63 85.0%,#1a1649 86.7%,#131135 88.3%,#0e0d27 90.0%,#0c0b1f 91.7%,#0a0a19 93.3%,#090914 95.0%,#080811 96.7%,#08080e 98.3%,#07070d 100.0%)"></div>
<div style="left:334.5px;top:156px;width:182.0px;height:4px;background:linear-gradient(90deg,#090813 0.0%,#0a0917 1.7%,#0b0b1c 3.3%,#0d0c23 5.0%,#100f2d 6.7%,#16133d 8.3%,#1d1851 10.0%,#251e68 11.7%,#2d247d 13.3%,#35298d 15.0%,#3c2e9d 16.7%,#4433ad 18.3%,#4934b4 20.0%,#4e35b7 21.7%,#5335ba 23.3%,#5d36bd 25.0%,#7d37af 26.7%,#da3e5a 28.3%,#f07424 30.0%,#eab31e 31.7%,#eacf3f 33.3%,#edd95e 35.0%,#ebd44c 36.7%,#e8c221 38.3%,#ee901e 40.0%,#ea4938 41.7%,#a73a96 43.3%,#6d36b7 45.0%,#5c36bd 46.7%,#5736bc 48.3%,#5535bb 50.0%,#5435ba 51.7%,#5335ba 53.3%,#5435ba 55.0%,#5636bb 56.7%,#5936bd 58.3%,#6336bb 60.0%,#7136b5 61.7%,#98399f 63.3%,#c23c76 65.0%,#de4152 66.7%,#e44545 68.3%,#e34546 70.0%,#db3f58 71.7%,#b03b8c 73.3%,#7736b3 75.0%,#5b36bd 76.7%,#5035b8 78.3%,#4634b2 80.0%,#382b94 81.7%,#2d247c 83.3%,#231c61 85.0%,#1a1648 86.7%,#131134 88.3%,#0e0d27 90.0%,#0c0b1f 91.7%,#0a0a19 93.3%,#090914 95.0%,#080811 96.7%,#08070e 98.3%,#07070d 100.0%)"></div>
<div style="left:334.5px;top:160px;width:182.0px;height:4px;background:linear-gradient(90deg,#090813 0.0%,#0a0917 1.7%,#0b0b1c 3.3%,#0d0c23 5.0%,#100f2d 6.7%,#16133d 8.3%,#1d1851 10.0%,#251e68 11.7%,#2d247d 13.3%,#35298d 15.0%,#3c2e9d 16.7%,#4433ae 18.3%,#4934b4 20.0%,#4e35b7 21.7%,#5435ba 23.3%,#5e36bd 25.0%,#8037ad 26.7%,#dc3f56 28.3%,#f07723 30.0%,#eab61e 31.7%,#ebd042 33.3%,#eddb63 35.0%,#ecd44d 36.7%,#e8c222 38.3%,#ee901e 40.0%,#ea4939 41.7%,#a73a97 43.3%,#6d36b7 45.0%,#5c36bd 46.7%,#5736bc 48.3%,#5535bb 50.0%,#5435ba 51.7%,#5335ba 53.3%,#5435ba 55.0%,#5636bb 56.7%,#5936bd 58.3%,#6236bb 60.0%,#7136b5 61.7%,#9739a0 63.3%,#c23c77 65.0%,#dd4053 66.7%,#e44546 68.3%,#e34448 70.0%,#da3e5a 71.7%,#ad3a90 73.3%,#7436b4 75.0%,#5a36be 76.7%,#4f35b7 78.3%,#4533b0 80.0%,#372b93 81.7%,#2c247b 83.3%,#221c5f 85.0%,#191647 86.7%,#121033 88.3%,#0e0d26 90.0%,#0c0b1e 91.7%,#0a0a18 93.3%,#090914 95.0%,#080811 96.7%,#08070e 98.3%,#07070c 100.0%)"></div>
<div style="left:334.5px;top:164px;width:182.0px;height:4px;background:linear-gradient(90deg,#090813 0.0%,#0a0917 1.7%,#0b0b1c 3.3%,#0d0c23 5.0%,#100f2d 6.7%,#16133d 8.3%,#1d1851 10.0%,#251e68 11.7%,#2d247d 13.3%,#35298d 15.0%,#3c2e9e 16.7%,#4433ae 18.3%,#4934b4 20.0%,#4e35b7 21.7%,#5435ba 23.3%,#5f36bc 25.0%,#8437ab 26.7%,#de4152 28.3%,#ef7b22 30.0%,#e9b81f 31.7%,#ebd145 33.3%,#eedc67 35.0%,#ecd54e 36.7%,#e8c222 38.3%,#ee901e 40.0%,#e9493a 41.7%,#a63a97 43.3%,#6d36b7 45.0%,#5c36bd 46.7%,#5736bc 48.3%,#5535bb 50.0%,#5435ba 51.7%,#5335ba 53.3%,#5435ba 55.0%,#5636bb 56.7%,#5936bd 58.3%,#6236bb 60.0%,#7136b5 61.7%,#9739a0 63.3%,#c13c78 65.0%,#dd4054 66.7%,#e34447 68.3%,#e2434a 70.0%,#d73e5e 71.7%,#aa3a94 73.3%,#7236b5 75.0%,#5936be 76.7%,#4e35b7 78.3%,#4433ae 80.0%,#372a91 81.7%,#2c237a 83.3%,#211c5e 85.0%,#191546 86.7%,#121032 88.3%,#0e0d26 90.0%,#0c0b1e 91.7%,#0a0a18 93.3%,#090914 95.0%,#080810 96.7%,#08070e 98.3%,#07070c 100.0%)"></div>
<div style="left:334.5px;top:168px;width:182.0px;height:4px;background:linear-gradient(90deg,#090813 0.0%,#0a0917 1.7%,#0b0b1c 3.3%,#0d0c23 5.0%,#100f2d 6.7%,#16133d 8.3%,#1d1851 10.0%,#251e68 11.7%,#2d247d 13.3%,#35298d 15.0%,#3c2e9e 16.7%,#4433ae 18.3%,#4934b4 20.0%,#4e35b7 21.7%,#5435ba 23.3%,#5f36bc 25.0%,#8838a9 26.7%,#e0424e 28.3%,#ef7f21 30.0%,#e9ba20 31.7%,#ebd249 33.3%,#eedd6c 35.0%,#ecd54f 36.7%,#e8c222 38.3%,#ee8f1e 40.0%,#e9493a 41.7%,#a53a98 43.3%,#6c36b7 45.0%,#5c36bd 46.7%,#5736bc 48.3%,#5535bb 50.0%,#5435ba 51.7%,#5335ba 53.3%,#5435ba 55.0%,#5636bb 56.7%,#5936bd 58.3%,#6236bb 60.0%,#7136b5 61.7%,#9639a0 63.3%,#c03c7a 65.0%,#dc4055 66.7%,#e24448 68.3%,#e1434b 70.0%,#d43e61 71.7%,#a73a97 73.3%,#7136b5 75.0%,#5936bd 76.7%,#4e35b7 78.3%,#4332ac 80.0%,#362a90 81.7%,#2b2379 83.3%,#211b5c 85.0%,#181544 86.7%,#121032 88.3%,#0e0d25 90.0%,#0c0b1e 91.7%,#0a0a18 93.3%,#090913 95.0%,#080810 96.7%,#08070e 98.3%,#07070c 100.0%)"></div>
<div style="left:334.5px;top:172px;width:182.0px;height:4px;background:linear-gradient(90deg,#090813 0.0%,#0a0917 1.7%,#0b0b1c 3.3%,#0d0c23 5.0%,#100f2d 6.7%,#16133d 8.3%,#1d1851 10.0%,#251e69 11.7%,#2d247d 13.3%,#35298d 15.0%,#3d2e9e 16.7%,#4433ae 18.3%,#4934b4 20.0%,#4e35b7 21.7%,#5435bb 23.3%,#6036bc 25.0%,#8b38a6 26.7%,#e1434a 28.3%,#ef8321 30.0%,#e9bd20 31.7%,#ebd44c 33.3%,#eede70 35.0%,#ecd550 36.7%,#e8c222 38.3%,#ee8f1e 40.0%,#e9483b 41.7%,#a43a98 43.3%,#6c36b7 45.0%,#5c36bd 46.7%,#5736bc 48.3%,#5535bb 50.0%,#5335ba 51.7%,#5335ba 53.3%,#5435ba 55.0%,#5636bb 56.7%,#5936bd 58.3%,#6236bb 60.0%,#7036b5 61.7%,#9539a1 63.3%,#bf3c7b 65.0%,#dc3f56 66.7%,#e2434a 68.3%,#e0424d 70.0%,#d13d64 71.7%,#a33a99 73.3%,#6f36b6 75.0%,#5836bd 76.7%,#4d35b6 78.3%,#4332ab 80.0%,#35298e 81.7%,#2b2378 83.3%,#201b5b 85.0%,#181543 86.7%,#111031 88.3%,#0e0d25 90.0%,#0c0b1d 91.7%,#0a0a18 93.3%,#090913 95.0%,#080810 96.7%,#08070e 98.3%,#07070c 100.0%)"></div>
<div style="left:334.5px;top:176px;width:182.0px;height:4px;background:linear-gradient(90deg,#090813 0.0%,#0a0917 1.7%,#0b0b1c 3.3%,#0d0c23 5.0%,#100f2d 6.7%,#16133d 8.3%,#1d1851 10.0%,#251e69 11.7%,#2d247d 13.3%,#35298d 15.0%,#3d2e9e 16.7%,#4433ae 18.3%,#4934b4 20.0%,#4e35b7 21.7%,#5435bb 23.3%,#6136bb 25.0%,#8f38a4 26.7%,#e34447 28.3%,#ee8720 30.0%,#e9bf21 31.7%,#ecd54f 33.3%,#efdf74 35.0%,#ecd651 36.7%,#e8c222 38.3%,#ee8e1e 40.0%,#e8483c 41.7%,#a33a99 43.3%,#6c36b7 45.0%,#5c36bd 46.7%,#5736bc 48.3%,#5435bb 50.0%,#5335ba 51.7%,#5335ba 53.3%,#5435ba 55.0%,#5536bb 56.7%,#5936bd 58.3%,#6236bb 60.0%,#7036b6 61.7%,#9438a1 63.3%,#be3c7c 65.0%,#dc3f57 66.7%,#e1434b 68.3%,#e0424e 70.0%,#cf3d68 71.7%,#a0399b 73.3%,#6e36b6 75.0%,#5736bc 76.7%,#4d35b6 78.3%,#4231a9 80.0%,#35298d 81.7%,#2a2277 83.3%,#201a59 85.0%,#181442 86.7%,#111030 88.3%,#0d0d24 90.0%,#0c0b1d 91.7%,#0a0a17 93.3%,#090913 95.0%,#080810 96.7%,#08070e 98.3%,#07070c 100.0%)"></div>
<div style="left:334.5px;top:180px;width:182.0px;height:4px;background:linear-gradient(90deg,#090813 0.0%,#0a0917 1.7%,#0b0b1c 3.3%,#0d0c23 5.0%,#100f2d 6.7%,#16133d 8.3%,#1d1852 10.0%,#251f69 11.7%,#2d247d 13.3%,#35298e 15.0%,#3d2e9e 16.7%,#4433af 18.3%,#4a34b4 20.0%,#4e35b7 21.7%,#5535bb 23.3%,#6236bb 25.0%,#9438a2 26.7%,#e54643 28.3%,#ee8b1f 30.0%,#e8c221 31.7%,#ecd652 33.3%,#efe078 35.0%,#ecd652 36.7%,#e8c222 38.3%,#ee8d1f 40.0%,#e8483d 41.7%,#a23a9a 43.3%,#6b36b7 45.0%,#5b36bd 46.7%,#5736bc 48.3%,#5435bb 50.0%,#5335ba 51.7%,#5335ba 53.3%,#5435ba 55.0%,#5536bb 56.7%,#5936bd 58.3%,#6136bb 60.0%,#7036b6 61.7%,#9338a2 63.3%,#bc3c7d 65.0%,#db3f58 66.7%,#e1434c 68.3%,#df4150 70.0%,#cc3d6b 71.7%,#9d399d 73.3%,#6c36b7 75.0%,#5736bc 76.7%,#4c35b6 78.3%,#4131a7 80.0%,#34288c 81.7%,#2a2275 83.3%,#1f1a58 85.0%,#171441 86.7%,#110f2f 88.3%,#0d0d24 90.0%,#0b0b1d 91.7%,#0a0a17 93.3%,#090913 95.0%,#080810 96.7%,#07070e 98.3%,#07070c 100.0%)"></div>
<div style="left:334.5px;top:184px;width:182.0px;height:4px;background:linear-gradient(90deg,#090813 0.0%,#0a0917 1.7%,#0b0b1c 3.3%,#0d0c23 5.0%,#100f2d 6.7%,#16133e 8.3%,#1d1852 10.0%,#251f69 11.7%,#2d247d 13.3%,#35298e 15.0%,#3d2e9e 16.7%,#4433af 18.3%,#4a34b4 20.0%,#4f35b7 21.7%,#5535bb 23.3%,#6336ba 25.0%,#98399f 26.7%,#e7473e 28.3%,#ee8f1e 30.0%,#e8c422 31.7%,#ecd858 33.3%,#efe17b 35.0%,#ecd654 36.7%,#e8c222 38.3%,#ee8d1f 40.0%,#e7473e 41.7%,#a1399a 43.3%,#6b36b7 45.0%,#5b36be 46.7%,#5736bc 48.3%,#5435bb 50.0%,#5335ba 51.7%,#5335ba 53.3%,#5435ba 55.0%,#5536bb 56.7%,#5836bd 58.3%,#6136bb 60.0%,#6f36b6 61.7%,#9238a3 63.3%,#bb3c7f 65.0%,#db3e59 66.7%,#e0424d 68.3%,#de4152 70.0%,#c93d6e 71.7%,#99399e 73.3%,#6b36b7 75.0%,#5636bc 76.7%,#4c35b5 78.3%,#4030a5 80.0%,#33288a 81.7%,#292173 83.3%,#1f1a57 85.0%,#171440 86.7%,#100f2e 88.3%,#0d0c23 90.0%,#0b0b1c 91.7%,#0a0917 93.3%,#090913 95.0%,#080810 96.7%,#07070e 98.3%,#07070c 100.0%)"></div>
<div style="left:334.5px;top:188px;width:182.0px;height:4px;background:linear-gradient(90deg,#090813 0.0%,#0a0917 1.7%,#0b0b1c 3.3%,#0d0c23 5.0%,#100f2d 6.7%,#16133e 8.3%,#1d1852 10.0%,#251f69 11.7%,#2e247e 13.3%,#35298e 15.0%,#3d2e9e 16.7%,#4533af 18.3%,#4a34b4 20.0%,#4f35b7 21.7%,#5536bb 23.3%,#6536ba 25.0%,#9c399d 26.7%,#e9493a 28.3%,#ed931d 30.0%,#e8c526 31.7%,#edd95e 33.3%,#f0e27f 35.0%,#ecd755 36.7%,#e8c221 38.3%,#ee8c1f 40.0%,#e7473f 41.7%,#a0399b 43.3%,#6b36b8 45.0%,#5b36be 46.7%,#5636bc 48.3%,#5435bb 50.0%,#5335ba 51.7%,#5335ba 53.3%,#5435ba 55.0%,#5536bb 56.7%,#5836bd 58.3%,#6136bb 60.0%,#6f36b6 61.7%,#9138a3 63.3%,#ba3b80 65.0%,#da3e5a 66.7%,#df424f 68.3%,#dd4053 70.0%,#c63c72 71.7%,#9639a0 73.3%,#6a36b8 75.0%,#5636bb 76.7%,#4b35b5 78.3%,#3f30a4 80.0%,#332889 81.7%,#282172 83.3%,#1e1955 85.0%,#16133f 86.7%,#100f2d 88.3%,#0d0c23 90.0%,#0b0b1c 91.7%,#0a0917 93.3%,#090813 95.0%,#080810 96.7%,#07070d 98.3%,#07070c 100.0%)"></div>
<div style="left:334.5px;top:192px;width:182.0px;height:4px;background:linear-gradient(90deg,#090813 0.0%,#0a0917 1.7%,#0b0b1c 3.3%,#0d0c23 5.0%,#100f2d 6.7%,#16133e 8.3%,#1d1852 10.0%,#251f69 11.7%,#2e247e 13.3%,#35298e 15.0%,#3d2e9e 16.7%,#4533af 18.3%,#4a34b4 20.0%,#4f35b7 21.7%,#5636bb 23.3%,#6636ba 25.0%,#a0399a 26.7%,#eb4a36 28.3%,#ed971d 30.0%,#e9c729 31.7%,#eddb63 33.3%,#f0e382 35.0%,#ecd756 36.7%,#e8c221 38.3%,#ee8b1f 40.0%,#e74740 41.7%,#9e399c 43.3%,#6a36b8 45.0%,#5b36be 46.7%,#5636bc 48.3%,#5435bb 50.0%,#5335ba 51.7%,#5335ba 53.3%,#5435ba 55.0%,#5536bb 56.7%,#5836bd 58.3%,#6036bc 60.0%,#6f36b6 61.7%,#9038a4 63.3%,#b93b82 65.0%,#d93e5b 66.7%,#df4150 68.3%,#dd4055 70.0%,#c43c75 71.7%,#9338a2 73.3%,#6836b9 75.0%,#5536bb 76.7%,#4b34b5 78.3%,#3f2fa2 80.0%,#322788 81.7%,#282070 83.3%,#1e1954 85.0%,#16133e 86.7%,#100f2c 88.3%,#0d0c23 90.0%,#0b0b1c 91.7%,#0a0916 93.3%,#090812 95.0%,#08080f 96.7%,#07070d 98.3%,#07070c 100.0%)"></div>
<div style="left:334.5px;top:196px;width:182.0px;height:4px;background:linear-gradient(90deg,#090813 0.0%,#0a0917 1.7%,#0b0b1c 3.3%,#0d0c23 5.0%,#100f2d 6.7%,#16133e 8.3%,#1d1852 10.0%,#251f69 11.7%,#2e247e 13.3%,#35298e 15.0%,#3d2e9f 16.7%,#4533af 18.3%,#4a34b4 20.0%,#4f35b7 21.7%,#5636bb 23.3%,#6736b9 25.0%,#a53a98 26.7%,#ed4b32 28.3%,#ed9b1c 30.0%,#e9c82d 31.7%,#eedc69 33.3%,#f0e486 35.0%,#ecd757 36.7%,#e8c121 38.3%,#ee8a1f 40.0%,#e64641 41.7%,#9d399c 43.3%,#6a36b8 45.0%,#5a36be 46.7%,#5636bc 48.3%,#5435bb 50.0%,#5335ba 51.7%,#5335ba 53.3%,#5435ba 55.0%,#5536bb 56.7%,#5836bd 58.3%,#6036bc 60.0%,#6e36b6 61.7%,#8f38a5 63.3%,#b83b83 65.0%,#d83e5d 66.7%,#de4151 68.3%,#dc3f56 70.0%,#c13c78 71.7%,#9038a4 73.3%,#6736b9 75.0%,#5435bb 76.7%,#4a34b4 78.3%,#3e2fa0 80.0%,#322786 81.7%,#27206e 83.3%,#1d1953 85.0%,#16133d 86.7%,#100e2c 88.3%,#0d0c22 90.0%,#0b0b1b 91.7%,#0a0916 93.3%,#090812 95.0%,#08080f 96.7%,#07070d 98.3%,#07070c 100.0%)"></div>
<div style="left:334.5px;top:200px;width:182.0px;height:4px;background:linear-gradient(90deg,#090913 0.0%,#0a0917 1.7%,#0b0b1c 3.3%,#0d0c23 5.0%,#100f2d 6.7%,#16133e 8.3%,#1d1952 10.0%,#251f69 11.7%,#2e247e 13.3%,#35298e 15.0%,#3d2e9f 16.7%,#4533b0 18.3%,#4a34b4 20.0%,#4f35b8 21.7%,#5636bc 23.3%,#6836b9 25.0%,#a93a95 26.7%,#ee4e2f 28.3%,#ec9f1b 30.0%,#e9c931 31.7%,#eede6e 33.3%,#f0e589 35.0%,#ecd858 36.7%,#e8c121 38.3%,#ee891f 40.0%,#e54642 41.7%,#9c399d 43.3%,#6a36b8 45.0%,#5a36be 46.7%,#5636bc 48.3%,#5435bb 50.0%,#5335ba 51.7%,#5335ba 53.3%,#5335ba 55.0%,#5536bb 56.7%,#5836bd 58.3%,#6036bc 60.0%,#6e36b6 61.7%,#8d38a5 63.3%,#b63b85 65.0%,#d63e5f 66.7%,#de4152 68.3%,#db3f58 70.0%,#be3c7b 71.7%,#8d38a6 73.3%,#6536ba 75.0%,#5435ba 76.7%,#4a34b4 78.3%,#3d2e9f 80.0%,#312685 81.7%,#27206d 83.3%,#1d1851 85.0%,#15133c 86.7%,#0f0e2b 88.3%,#0d0c22 90.0%,#0b0a1b 91.7%,#0a0916 93.3%,#090812 95.0%,#08080f 96.7%,#07070d 98.3%,#07070c 100.0%)"></div>
<div style="left:334.5px;top:204px;width:182.0px;height:4px;background:linear-gradient(90deg,#090913 0.0%,#0a0917 1.7%,#0b0b1c 3.3%,#0d0c23 5.0%,#100f2d 6.7%,#16133e 8.3%,#1d1952 10.0%,#261f69 11.7%,#2e247e 13.3%,#35298e 15.0%,#3d2e9f 16.7%,#4533b0 18.3%,#4a34b4 20.0%,#4f35b8 21.7%,#5636bc 23.3%,#6936b8 25.0%,#ae3a8f 26.7%,#ee522e 28.3%,#eca41a 30.0%,#eacb34 31.7%,#efdf74 33.3%,#f1e68c 35.0%,#edd858 36.7%,#e8c121 38.3%,#ee8820 40.0%,#e54643 41.7%,#9a399e 43.3%,#6936b8 45.0%,#5a36be 46.7%,#5636bc 48.3%,#5435ba 50.0%,#5335ba 51.7%,#5335ba 53.3%,#5335ba 55.0%,#5535bb 56.7%,#5836bd 58.3%,#5f36bc 60.0%,#6d36b7 61.7%,#8c38a6 63.3%,#b53b86 65.0%,#d53e60 66.7%,#dd4054 68.3%,#da3e59 70.0%,#bb3c7f 71.7%,#8a38a8 73.3%,#6436ba 75.0%,#5335ba 76.7%,#4934b4 78.3%,#3c2e9d 80.0%,#302684 81.7%,#261f6b 83.3%,#1d1850 85.0%,#15123b 86.7%,#0f0e2a 88.3%,#0d0c21 90.0%,#0b0a1b 91.7%,#0a0916 93.3%,#090812 95.0%,#08080f 96.7%,#07070d 98.3%,#07070c 100.0%)"></div>
<div style="left:334.5px;top:208px;width:182.0px;height:4px;background:linear-gradient(90deg,#090913 0.0%,#0a0917 1.7%,#0b0b1c 3.3%,#0d0c23 5.0%,#100f2d 6.7%,#16133e 8.3%,#1d1952 10.0%,#261f69 11.7%,#2e247e 13.3%,#35298e 15.0%,#3d2e9f 16.7%,#4533b0 18.3%,#4a34b5 20.0%,#5035b8 21.7%,#5736bc 23.3%,#6a36b8 25.0%,#b23b8a 26.7%,#ef562d 28.3%,#eca61b 30.0%,#eacc38 31.7%,#efe079 33.3%,#f1e68f 35.0%,#edd859 36.7%,#e8c021 38.3%,#ee8720 40.0%,#e44545 41.7%,#99399f 43.3%,#6936b8 45.0%,#5a36be 46.7%,#5636bc 48.3%,#5435ba 50.0%,#5335ba 51.7%,#5335ba 53.3%,#5335ba 55.0%,#5535bb 56.7%,#5836bd 58.3%,#5f36bc 60.0%,#6d36b7 61.7%,#8b38a7 63.3%,#b43b88 65.0%,#d33d62 66.7%,#dc4055 68.3%,#d93e5c 70.0%,#b93b82 71.7%,#8637a9 73.3%,#6336bb 75.0%,#5335ba 76.7%,#4834b3 78.3%,#3c2d9c 80.0%,#302682 81.7%,#251f69 83.3%,#1c184f 85.0%,#15123a 86.7%,#0f0e2a 88.3%,#0d0c21 90.0%,#0b0a1a 91.7%,#0a0915 93.3%,#090812 95.0%,#08080f 96.7%,#07070d 98.3%,#07070c 100.0%)"></div>
<div style="left:334.5px;top:212px;width:182.0px;height:4px;background:linear-gradient(90deg,#090913 0.0%,#0a0917 1.7%,#0b0b1c 3.3%,#0d0c23 5.0%,#100f2d 6.7%,#16133e 8.3%,#1d1952 10.0%,#261f6a 11.7%,#2e247e 13.3%,#35298e 15.0%,#3d2e9f 16.7%,#4533b0 18.3%,#4a34b5 20.0%,#5035b8 21.7%,#5736bc 23.3%,#6c36b7 25.0%,#b73b84 26.7%,#ef5a2c 28.3%,#eba91b 30.0%,#eacd3b 31.7%,#f0e27e 33.3%,#f1e791 35.0%,#edd859 36.7%,#e9c021 38.3%,#ee8620 40.0%,#e44546 41.7%,#98399f 43.3%,#6936b8 45.0%,#5a36be 46.7%,#5636bc 48.3%,#5435ba 50.0%,#5335ba 51.7%,#5335ba 53.3%,#5335ba 55.0%,#5535bb 56.7%,#5836bd 58.3%,#5f36bc 60.0%,#6c36b7 61.7%,#8938a8 63.3%,#b23b8a 65.0%,#d23d64 66.7%,#dc3f56 68.3%,#d63e5e 70.0%,#b63b85 71.7%,#8337ab 73.3%,#6136bb 75.0%,#5235b9 76.7%,#4834b3 78.3%,#3b2d9a 80.0%,#2f2581 81.7%,#251e68 83.3%,#1c174e 85.0%,#141239 86.7%,#0f0e29 88.3%,#0d0c21 90.0%,#0b0a1a 91.7%,#090915 93.3%,#090811 95.0%,#08080f 96.7%,#07070d 98.3%,#07070b 100.0%)"></div>
<div style="left:334.5px;top:216px;width:182.0px;height:4px;background:linear-gradient(90deg,#090913 0.0%,#0a0917 1.7%,#0b0b1c 3.3%,#0d0c23 5.0%,#100f2d 6.7%,#16133e 8.3%,#1d1952 10.0%,#261f6a 11.7%,#2e247e 13.3%,#35298f 15.0%,#3d2e9f 16.7%,#4534b0 18.3%,#4a34b5 20.0%,#5035b8 21.7%,#5736bc 23.3%,#6d36b7 25.0%,#bc3c7e 26.7%,#ef5e2a 28.3%,#ebab1c 30.0%,#eacf3e 31.7%,#f0e383 33.3%,#f1e893 35.0%,#edd859 36.7%,#e9bf21 38.3%,#ef8520 40.0%,#e34447 41.7%,#9639a0 43.3%,#6836b9 45.0%,#5a36be 46.7%,#5636bc 48.3%,#5435ba 50.0%,#5335ba 51.7%,#5335ba 53.3%,#5335ba 55.0%,#5535bb 56.7%,#5736bc 58.3%,#5e36bc 60.0%,#6c36b7 61.7%,#8838a8 63.3%,#b13b8c 65.0%,#d03d66 66.7%,#db3f57 68.3%,#d43e61 70.0%,#b43b88 71.7%,#8037ad 73.3%,#6036bc 75.0%,#5135b9 76.7%,#4734b3 78.3%,#3a2c99 80.0%,#2f2580 81.7%,#241e66 83.3%,#1b174c 85.0%,#141238 86.7%,#0f0e29 88.3%,#0c0c20 90.0%,#0b0a1a 91.7%,#090915 93.3%,#080811 95.0%,#08080f 96.7%,#07070d 98.3%,#07070b 100.0%)"></div>
<div style="left:334.5px;top:220px;width:182.0px;height:4px;background:linear-gradient(90deg,#090913 0.0%,#0a0917 1.7%,#0b0b1c 3.3%,#0d0c23 5.0%,#100f2d 6.7%,#16133e 8.3%,#1d1952 10.0%,#261f6a 11.7%,#2e247e 13.3%,#36298f 15.0%,#3d2ea0 16.7%,#4534b1 18.3%,#4a34b5 20.0%,#5035b8 21.7%,#5836bd 23.3%,#6e36b6 25.0%,#c03c79 26.7%,#ef6229 28.3%,#ebad1c 30.0%,#ebd042 31.7%,#f0e488 33.3%,#f1e896 35.0%,#edd859 36.7%,#e9bf21 38.3%,#ef8321 40.0%,#e24449 41.7%,#9539a1 43.3%,#6836b9 45.0%,#5a36be 46.7%,#5636bc 48.3%,#5435ba 50.0%,#5335ba 51.7%,#5335ba 53.3%,#5335ba 55.0%,#5535bb 56.7%,#5736bc 58.3%,#5e36bd 60.0%,#6b36b7 61.7%,#8637a9 63.3%,#af3b8e 65.0%,#ce3d68 66.7%,#db3e59 68.3%,#d23d63 70.0%,#b13b8b 71.7%,#7d37af 73.3%,#5f36bc 75.0%,#5135b9 76.7%,#4734b3 78.3%,#392c97 80.0%,#2e257f 81.7%,#241d65 83.3%,#1b174b 85.0%,#141137 86.7%,#0f0e28 88.3%,#0c0c20 90.0%,#0b0a19 91.7%,#090915 93.3%,#080811 95.0%,#08080f 96.7%,#07070d 98.3%,#07070b 100.0%)"></div>
<div style="left:334.5px;top:224px;width:182.0px;height:4px;background:linear-gradient(90deg,#090913 0.0%,#0a0917 1.7%,#0b0b1c 3.3%,#0d0c23 5.0%,#100f2d 6.7%,#16133e 8.3%,#1d1952 10.0%,#261f6a 11.7%,#2e247e 13.3%,#36298f 15.0%,#3d2fa0 16.7%,#4634b1 18.3%,#4b34b5 20.0%,#5035b8 21.7%,#5836bd 23.3%,#7036b6 25.0%,#c53c73 26.7%,#ef6728 28.3%,#ebb01d 30.0%,#ebd145 31.7%,#f1e68c 33.3%,#f2e998 35.0%,#ecd858 36.7%,#e9be21 38.3%,#ef8221 40.0%,#e2434a 41.7%,#9338a2 43.3%,#6736b9 45.0%,#5936be 46.7%,#5636bb 48.3%,#5435ba 50.0%,#5335ba 51.7%,#5335ba 53.3%,#5335ba 55.0%,#5435bb 56.7%,#5736bc 58.3%,#5d36bd 60.0%,#6b36b8 61.7%,#8537aa 63.3%,#ae3a8f 65.0%,#cd3d6a 66.7%,#da3e5a 68.3%,#d03d66 70.0%,#ae3b8e 71.7%,#7a36b1 73.3%,#5d36bd 75.0%,#5035b8 76.7%,#4634b2 78.3%,#392b96 80.0%,#2e247e 81.7%,#231d63 83.3%,#1a164a 85.0%,#131136 86.7%,#0e0d28 88.3%,#0c0c1f 90.0%,#0b0a19 91.7%,#090915 93.3%,#080811 95.0%,#08080e 96.7%,#07070d 98.3%,#07070b 100.0%)"></div>
<div style="left:334.5px;top:228px;width:182.0px;height:4px;background:linear-gradient(90deg,#090913 0.0%,#0a0917 1.7%,#0b0b1c 3.3%,#0d0c23 5.0%,#100f2d 6.7%,#16133e 8.3%,#1d1952 10.0%,#261f6a 11.7%,#2e257e 13.3%,#36298f 15.0%,#3e2fa0 16.7%,#4634b1 18.3%,#4b34b5 20.0%,#5135b8 21.7%,#5936bd 23.3%,#7136b5 25.0%,#ca3d6d 26.7%,#f06b26 28.3%,#eab21e 30.0%,#ebd249 31.7%,#f1e791 33.3%,#f2e99a 35.0%,#ecd858 36.7%,#e9bd20 38.3%,#ef8021 40.0%,#e1434c 41.7%,#9138a3 43.3%,#6736b9 45.0%,#5936be 46.7%,#5636bb 48.3%,#5435ba 50.0%,#5335ba 51.7%,#5335ba 53.3%,#5335ba 55.0%,#5435bb 56.7%,#5736bc 58.3%,#5d36bd 60.0%,#6a36b8 61.7%,#8337ab 63.3%,#ac3a91 65.0%,#cb3d6c 66.7%,#d83e5c 68.3%,#ce3d69 70.0%,#ac3a92 71.7%,#7736b2 73.3%,#5c36bd 75.0%,#5035b8 76.7%,#4634b2 78.3%,#382b94 80.0%,#2d247c 81.7%,#231d62 83.3%,#1a1649 85.0%,#131135 86.7%,#0e0d27 88.3%,#0c0b1f 90.0%,#0a0a19 91.7%,#090914 93.3%,#080811 95.0%,#08070e 96.7%,#07070d 98.3%,#07070b 100.0%)"></div>
<div style="left:334.5px;top:232px;width:182.0px;height:4px;background:linear-gradient(90deg,#090913 0.0%,#0a0917 1.7%,#0b0b1c 3.3%,#0d0c23 5.0%,#100f2d 6.7%,#16133e 8.3%,#1d1953 10.0%,#261f6a 11.7%,#2e257f 13.3%,#362a8f 15.0%,#3e2fa0 16.7%,#4634b2 18.3%,#4b34b5 20.0%,#5135b8 21.7%,#5936bd 23.3%,#7336b5 25.0%,#d03d67 26.7%,#f06f25 28.3%,#eab51e 30.0%,#ebd44c 31.7%,#f1e895 33.3%,#f2ea9b 35.0%,#ecd757 36.7%,#e9bd20 38.3%,#ef7f21 40.0%,#e0424d 41.7%,#9038a4 43.3%,#6736b9 45.0%,#5936be 46.7%,#5636bb 48.3%,#5435ba 50.0%,#5335ba 51.7%,#5235b9 53.3%,#5335ba 55.0%,#5435bb 56.7%,#5736bc 58.3%,#5c36bd 60.0%,#6936b8 61.7%,#8237ac 63.3%,#aa3a93 65.0%,#c93d6e 66.7%,#d73e5e 68.3%,#cc3d6b 70.0%,#a93a95 71.7%,#7436b4 73.3%,#5b36be 75.0%,#4f35b8 76.7%,#4533b0 78.3%,#372b93 80.0%,#2c247b 81.7%,#221c60 83.3%,#1a1648 85.0%,#131134 86.7%,#0e0d27 88.3%,#0c0b1f 90.0%,#0a0a19 91.7%,#090914 93.3%,#080811 95.0%,#08070e 96.7%,#07070c 98.3%,#07070b 100.0%)"></div>
<div style="left:334.5px;top:236px;width:182.0px;height:4px;background:linear-gradient(90deg,#090913 0.0%,#0a0917 1.7%,#0b0b1c 3.3%,#0d0c23 5.0%,#100f2d 6.7%,#16133e 8.3%,#1d1953 10.0%,#261f6a 11.7%,#2e257f 13.3%,#362a8f 15.0%,#3e2fa0 16.7%,#4634b2 18.3%,#4b34b5 20.0%,#5135b9 21.7%,#5936be 23.3%,#7436b4 25.0%,#d53e60 26.7%,#f07324 28.3%,#eab71f 30.0%,#ecd54f 31.7%,#f2e999 33.3%,#f2ea9d 35.0%,#ecd756 36.7%,#e9bc20 38.3%,#ef7d22 40.0%,#df424f 41.7%,#8e38a5 43.3%,#6636b9 45.0%,#5936bd 46.7%,#5636bb 48.3%,#5435ba 50.0%,#5335ba 51.7%,#5235b9 53.3%,#5335ba 55.0%,#5435ba 56.7%,#5736bc 58.3%,#5c36bd 60.0%,#6936b8 61.7%,#8037ad 63.3%,#a93a95 65.0%,#c83d70 66.7%,#d53e60 68.3%,#ca3d6e 70.0%,#a73a97 71.7%,#7336b5 73.3%,#5a36be 75.0%,#4f35b7 76.7%,#4433ae 78.3%,#372a91 80.0%,#2c237a 81.7%,#221c5f 83.3%,#191647 85.0%,#121134 86.7%,#0e0d26 88.3%,#0c0b1e 90.0%,#0a0a18 91.7%,#090914 93.3%,#080811 95.0%,#08070e 96.7%,#07070c 98.3%,#07070b 100.0%)"></div>
<div style="left:334.5px;top:240px;width:182.0px;height:4px;background:linear-gradient(90deg,#090913 0.0%,#0a0917 1.7%,#0b0b1c 3.3%,#0d0c23 5.0%,#100f2d 6.7%,#16133e 8.3%,#1d1953 10.0%,#261f6a 11.7%,#2e257f 13.3%,#362a8f 15.0%,#3e2fa0 16.7%,#4634b2 18.3%,#4b35b5 20.0%,#5135b9 21.7%,#5a36be 23.3%,#7836b2 25.0%,#da3e5a 26.7%,#f07723 28.3%,#e9b91f 30.0%,#ecd653 31.7%,#f2ea9e 33.3%,#f2ea9e 35.0%,#ecd755 36.7%,#e9bb20 38.3%,#ef7c22 40.0%,#de4151 41.7%,#8c38a6 43.3%,#6636ba 45.0%,#5936bd 46.7%,#5536bb 48.3%,#5435ba 50.0%,#5335ba 51.7%,#5235b9 53.3%,#5335ba 55.0%,#5435ba 56.7%,#5636bc 58.3%,#5b36be 60.0%,#6836b9 61.7%,#7e37ae 63.3%,#a73a97 65.0%,#c63c72 66.7%,#d33d63 68.3%,#c73d70 70.0%,#a43a98 71.7%,#7136b5 73.3%,#5936bd 75.0%,#4e35b7 76.7%,#4332ac 78.3%,#362a90 80.0%,#2b2379 81.7%,#211c5d 83.3%,#191546 85.0%,#121033 86.7%,#0e0d26 88.3%,#0c0b1e 90.0%,#0a0a18 91.7%,#090914 93.3%,#080810 95.0%,#08070e 96.7%,#07070c 98.3%,#07070b 100.0%)"></div>
<div style="left:334.5px;top:244px;width:182.0px;height:4px;background:linear-gradient(90deg,#090913 0.0%,#0a0917 1.7%,#0b0b1c 3.3%,#0d0c23 5.0%,#100f2d 6.7%,#16133e 8.3%,#1e1953 10.0%,#261f6b 11.7%,#2e257f 13.3%,#362a8f 15.0%,#3e2fa1 16.7%,#4634b2 18.3%,#4b35b5 20.0%,#5135b9 21.7%,#5a36be 23.3%,#7c37b0 25.0%,#dc3f56 26.7%,#ef7b22 28.3%,#e9bc20 30.0%,#edd859 31.7%,#f2eba2 33.3%,#f2eb9f 35.0%,#ecd654 36.7%,#e9ba20 38.3%,#ef7a22 40.0%,#de4152 41.7%,#8b38a7 43.3%,#6536ba 45.0%,#5936bd 46.7%,#5536bb 48.3%,#5435ba 50.0%,#5335ba 51.7%,#5235b9 53.3%,#5335ba 55.0%,#5435ba 56.7%,#5636bc 58.3%,#5b36be 60.0%,#6736b9 61.7%,#7c37af 63.3%,#a53a98 65.0%,#c43c74 66.7%,#d13d65 68.3%,#c53c73 70.0%,#a1399a 71.7%,#7036b5 73.3%,#5936bd 75.0%,#4d35b6 76.7%,#4332ab 78.3%,#35298e 80.0%,#2b2378 81.7%,#211b5c 83.3%,#181545 85.0%,#121032 86.7%,#0e0d25 88.3%,#0c0b1e 90.0%,#0a0a18 91.7%,#090914 93.3%,#080810 95.0%,#08070e 96.7%,#07070c 98.3%,#07070b 100.0%)"></div>
<svg width="553" height="589" viewBox="0 0 553 589" font-family='"Liberation Sans", sans-serif'>
<text x="49.5" y="36.9" font-size="14.5" text-anchor="middle" fill="#000" font-weight="normal" >1.6</text>
<text x="89.9" y="36.9" font-size="14.5" text-anchor="middle" fill="#000" font-weight="normal" >1.62</text>
<text x="130.3" y="36.9" font-size="14.5" text-anchor="middle" fill="#000" font-weight="normal" >1.64</text>
<text x="170.7" y="36.9" font-size="14.5" text-anchor="middle" fill="#000" font-weight="normal" >1.66</text>
<text x="211.1" y="36.9" font-size="14.5" text-anchor="middle" fill="#000" font-weight="normal" >1.68</text>
<text x="139.5" y="16.3" font-size="14.5" text-anchor="middle" fill="#000" font-weight="normal" >Energy (eV)</text>
<text x="45.8" y="45.4" font-size="14.5" text-anchor="end" fill="#000" font-weight="normal" >10</text>
<text x="45.8" y="97.4" font-size="14.5" text-anchor="end" fill="#000" font-weight="normal" >5</text>
<text x="45.8" y="149.4" font-size="14.5" text-anchor="end" fill="#000" font-weight="normal" >0</text>
<text x="45.8" y="201.4" font-size="14.5" text-anchor="end" fill="#000" font-weight="normal" >−5</text>
<text x="45.8" y="253.4" font-size="14.5" text-anchor="end" fill="#000" font-weight="normal" >−10</text>
<text transform="translate(12,143.6) rotate(-90)" font-size="14.5" text-anchor="middle" fill="#000">Magnetic field (T)</text>
<rect x="49" y="248" width="181.5" height="104" fill="none" stroke="#555" stroke-width="1"/>
<line x1="89.4" y1="352" x2="89.4" y2="349" stroke="#555" stroke-width="1"/>
<line x1="89.4" y1="248" x2="89.4" y2="250.5" stroke="#555" stroke-width="1"/>
<line x1="129.8" y1="352" x2="129.8" y2="349" stroke="#555" stroke-width="1"/>
<line x1="129.8" y1="248" x2="129.8" y2="250.5" stroke="#555" stroke-width="1"/>
<line x1="170.2" y1="352" x2="170.2" y2="349" stroke="#555" stroke-width="1"/>
<line x1="170.2" y1="248" x2="170.2" y2="250.5" stroke="#555" stroke-width="1"/>
<line x1="210.6" y1="352" x2="210.6" y2="349" stroke="#555" stroke-width="1"/>
<line x1="210.6" y1="248" x2="210.6" y2="250.5" stroke="#555" stroke-width="1"/>
<line x1="49" y1="278.5" x2="51.5" y2="278.5" stroke="#555"/><line x1="230.5" y1="278.5" x2="228.0" y2="278.5" stroke="#555"/>
<text x="45.8" y="358" font-size="14.5" text-anchor="end" fill="#000" font-weight="normal" >0</text>
<text transform="translate(11.700000000000003,299.6) rotate(-90)" font-size="14.5" text-anchor="middle" fill="#000" textLength="83" lengthAdjust="spacing">PL intensity</text>
<text transform="translate(30.7,304.8) rotate(-90)" font-size="14.5" text-anchor="middle" fill="#000" textLength="70.5" lengthAdjust="spacing">(arb. unit)</text>
<line x1="126" y1="264.3" x2="161" y2="264.3" stroke="#000" stroke-width="2.6"/>
<line x1="126" y1="279.4" x2="161" y2="279.4" stroke="#e9a81e" stroke-width="2.6"/>
<text x="168.2" y="268.7" font-size="11.9" text-anchor="start" fill="#000" font-weight="normal" ><tspan font-style="italic">B</tspan> = +10 T</text>
<text x="168.2" y="283.5" font-size="11.9" text-anchor="start" fill="#000" font-weight="normal" ><tspan font-style="italic">B</tspan> = −10 T</text>
<text x="335.0" y="36.9" font-size="14.5" text-anchor="middle" fill="#000" font-weight="normal" >1.6</text>
<text x="375.4" y="36.9" font-size="14.5" text-anchor="middle" fill="#000" font-weight="normal" >1.62</text>
<text x="415.8" y="36.9" font-size="14.5" text-anchor="middle" fill="#000" font-weight="normal" >1.64</text>
<text x="456.2" y="36.9" font-size="14.5" text-anchor="middle" fill="#000" font-weight="normal" >1.66</text>
<text x="496.6" y="36.9" font-size="14.5" text-anchor="middle" fill="#000" font-weight="normal" >1.68</text>
<text x="425.0" y="16.3" font-size="14.5" text-anchor="middle" fill="#000" font-weight="normal" >Energy (eV)</text>
<text x="331.3" y="45.4" font-size="14.5" text-anchor="end" fill="#000" font-weight="normal" >10</text>
<text x="331.3" y="97.4" font-size="14.5" text-anchor="end" fill="#000" font-weight="normal" >5</text>
<text x="331.3" y="149.4" font-size="14.5" text-anchor="end" fill="#000" font-weight="normal" >0</text>
<text x="331.3" y="201.4" font-size="14.5" text-anchor="end" fill="#000" font-weight="normal" >−5</text>
<text x="331.3" y="253.4" font-size="14.5" text-anchor="end" fill="#000" font-weight="normal" >−10</text>
<text transform="translate(297.5,143.6) rotate(-90)" font-size="14.5" text-anchor="middle" fill="#000">Magnetic field (T)</text>
<rect x="334.5" y="248" width="182.0" height="104" fill="none" stroke="#555" stroke-width="1"/>
<line x1="374.9" y1="352" x2="374.9" y2="349" stroke="#555" stroke-width="1"/>
<line x1="374.9" y1="248" x2="374.9" y2="250.5" stroke="#555" stroke-width="1"/>
<line x1="415.3" y1="352" x2="415.3" y2="349" stroke="#555" stroke-width="1"/>
<line x1="415.3" y1="248" x2="415.3" y2="250.5" stroke="#555" stroke-width="1"/>
<line x1="455.7" y1="352" x2="455.7" y2="349" stroke="#555" stroke-width="1"/>
<line x1="455.7" y1="248" x2="455.7" y2="250.5" stroke="#555" stroke-width="1"/>
<line x1="496.1" y1="352" x2="496.1" y2="349" stroke="#555" stroke-width="1"/>
<line x1="496.1" y1="248" x2="496.1" y2="250.5" stroke="#555" stroke-width="1"/>
<line x1="334.5" y1="278.5" x2="337.0" y2="278.5" stroke="#555"/><line x1="516.5" y1="278.5" x2="514.0" y2="278.5" stroke="#555"/>
<text x="331.3" y="358" font-size="14.5" text-anchor="end" fill="#000" font-weight="normal" >0</text>
<text transform="translate(297.2,299.6) rotate(-90)" font-size="14.5" text-anchor="middle" fill="#000" textLength="83" lengthAdjust="spacing">PL intensity</text>
<text transform="translate(316.2,304.8) rotate(-90)" font-size="14.5" text-anchor="middle" fill="#000" textLength="70.5" lengthAdjust="spacing">(arb. unit)</text>
<line x1="411.5" y1="264.3" x2="446.5" y2="264.3" stroke="#000" stroke-width="2.6"/>
<line x1="411.5" y1="279.4" x2="446.5" y2="279.4" stroke="#e9a81e" stroke-width="2.6"/>
<text x="453.7" y="268.7" font-size="11.9" text-anchor="start" fill="#000" font-weight="normal" ><tspan font-style="italic">B</tspan> = +10 T</text>
<text x="453.7" y="283.5" font-size="11.9" text-anchor="start" fill="#000" font-weight="normal" ><tspan font-style="italic">B</tspan> = −10 T</text>
<defs><linearGradient id="cb" x1="0" x2="1"><stop offset="0%" stop-color="#060608"/><stop offset="4%" stop-color="#0f0e2a"/><stop offset="10%" stop-color="#2a2276"/><stop offset="18%" stop-color="#4634b2"/><stop offset="28%" stop-color="#5a36be"/><stop offset="34%" stop-color="#7436b4"/><stop offset="39%" stop-color="#a83a96"/><stop offset="44%" stop-color="#da3e5a"/><stop offset="50%" stop-color="#ee4c30"/><stop offset="56%" stop-color="#f07224"/><stop offset="65%" stop-color="#eca41a"/><stop offset="75%" stop-color="#e8c422"/><stop offset="85%" stop-color="#ecd652"/><stop offset="93%" stop-color="#f2ea9c"/><stop offset="100%" stop-color="#f8f6e4"/></linearGradient></defs>
<rect x="229" y="16" width="96" height="10.3" fill="url(#cb)" stroke="#333" stroke-width="0.8"/>
<text x="229.3" y="12" font-size="14.5" text-anchor="middle" fill="#000" font-weight="normal" >0</text>
<text x="276.8" y="12" font-size="14.5" text-anchor="middle" fill="#000" font-weight="normal" >0.5</text>
<text x="324.3" y="12" font-size="14.5" text-anchor="middle" fill="#000" font-weight="normal" >1</text>
<polyline points="49.5,348.3 50.5,346.9 51.5,346.9 52.5,346.5 53.5,347.5 54.5,345.5 55.5,347.8 56.5,346.1 57.5,346.6 58.5,346.1 59.5,347.0 60.5,344.7 61.5,345.6 62.5,345.3 63.5,346.0 64.5,344.5 65.5,344.9 66.5,344.2 67.5,344.5 68.5,344.6 69.5,343.4 70.5,344.4 71.5,344.0 72.5,343.4 73.5,343.3 74.5,342.0 75.5,342.0 76.5,341.1 77.5,341.1 78.5,341.1 79.5,339.9 80.5,339.5 81.5,338.8 82.5,338.0 83.5,337.4 84.5,337.0 85.5,335.4 86.5,335.2 87.5,334.9 88.5,332.9 89.5,330.6 90.5,328.2 91.5,326.2 92.5,325.2 93.5,321.3 94.5,317.7 95.5,314.8 96.5,312.7 97.5,307.9 98.5,304.5 99.5,300.5 100.5,296.4 101.5,292.3 102.5,288.6 103.5,284.5 104.5,282.0 105.5,281.1 106.5,280.8 107.5,280.2 108.5,280.5 109.5,279.5 110.5,281.9 111.5,283.8 112.5,286.2 113.5,289.7 114.5,293.4 115.5,299.0 116.5,304.4 117.5,309.3 118.5,311.2 119.5,315.2 120.5,319.5 121.5,323.3 122.5,327.0 123.5,329.9 124.5,331.7 125.5,335.5 126.5,338.3 127.5,339.0 128.5,340.1 129.5,340.2 130.5,340.8 131.5,341.4 132.5,341.8 133.5,341.8 134.5,341.8 135.5,341.3 136.5,341.9 137.5,341.7 138.5,342.3 139.5,342.3 140.5,341.5 141.5,340.9 142.5,340.4 143.5,340.6 144.5,340.0 145.5,339.2 146.5,338.9 147.5,337.9 148.5,338.1 149.5,336.8 150.5,337.2 151.5,335.9 152.5,335.3 153.5,333.4 154.5,333.3 155.5,332.7 156.5,330.8 157.5,330.4 158.5,329.7 159.5,327.9 160.5,328.0 161.5,327.4 162.5,325.5 163.5,325.3 164.5,323.4 165.5,323.4 166.5,321.5 167.5,322.2 168.5,320.9 169.5,319.8 170.5,318.8 171.5,319.9 172.5,320.6 173.5,319.1 174.5,322.1 175.5,323.6 176.5,324.1 177.5,324.4 178.5,326.9 179.5,327.6 180.5,328.8 181.5,329.8 182.5,332.2 183.5,333.7 184.5,334.2 185.5,336.3 186.5,336.6 187.5,338.9 188.5,339.5 189.5,340.3 190.5,341.2 191.5,342.7 192.5,343.4 193.5,343.9 194.5,344.4 195.5,344.9 196.5,345.8 197.5,346.0 198.5,346.6 199.5,346.4 200.5,345.5 201.5,347.9 202.5,348.9 203.5,348.1 204.5,348.0 205.5,348.2 206.5,348.5 207.5,348.7 208.5,348.3 209.5,348.8 210.5,348.7 211.5,349.6 212.5,349.4 213.5,350.0 214.5,349.7 215.5,350.5 216.5,350.2 217.5,351.5 218.5,349.1 219.5,350.0 220.5,351.0 221.5,352.1 222.5,350.6 223.5,350.9 224.5,350.9 225.5,352.0 226.5,351.1 227.5,351.9 228.5,351.4 229.5,351.0" fill="none" stroke="#e9a81e" stroke-width="2.6" stroke-linejoin="round"/>
<polyline points="49.5,350.0 50.5,349.9 51.5,350.2 52.5,349.2 53.5,348.7 54.5,349.2 55.5,348.8 56.5,348.6 57.5,348.2 58.5,348.8 59.5,348.1 60.5,348.8 61.5,348.1 62.5,347.6 63.5,346.0 64.5,347.1 65.5,346.8 66.5,346.8 67.5,346.8 68.5,345.7 69.5,346.2 70.5,345.2 71.5,346.5 72.5,344.3 73.5,343.8 74.5,343.6 75.5,343.8 76.5,343.5 77.5,345.0 78.5,343.4 79.5,342.4 80.5,343.6 81.5,342.2 82.5,341.4 83.5,342.2 84.5,341.5 85.5,340.3 86.5,340.7 87.5,339.2 88.5,339.4 89.5,337.9 90.5,337.7 91.5,335.9 92.5,334.0 93.5,335.0 94.5,331.9 95.5,330.7 96.5,328.8 97.5,327.5 98.5,326.0 99.5,323.9 100.5,321.9 101.5,320.2 102.5,316.8 103.5,314.1 104.5,311.9 105.5,310.1 106.5,307.6 107.5,307.3 108.5,305.1 109.5,303.9 110.5,303.0 111.5,301.2 112.5,300.5 113.5,300.7 114.5,300.7 115.5,301.4 116.5,305.0 117.5,305.9 118.5,309.3 119.5,311.9 120.5,313.0 121.5,318.7 122.5,320.5 123.5,322.2 124.5,326.4 125.5,327.7 126.5,329.7 127.5,331.1 128.5,333.2 129.5,333.8 130.5,336.8 131.5,337.5 132.5,338.9 133.5,340.0 134.5,339.5 135.5,339.5 136.5,339.5 137.5,338.9 138.5,339.8 139.5,340.2 140.5,339.9 141.5,340.1 142.5,339.2 143.5,339.4 144.5,339.0 145.5,340.0 146.5,338.2 147.5,338.1 148.5,335.7 149.5,335.0 150.5,334.5 151.5,334.1 152.5,332.7 153.5,331.9 154.5,330.9 155.5,330.0 156.5,328.3 157.5,328.0 158.5,326.9 159.5,325.9 160.5,325.2 161.5,323.4 162.5,322.6 163.5,321.3 164.5,320.3 165.5,318.9 166.5,316.1 167.5,315.2 168.5,314.3 169.5,310.5 170.5,309.6 171.5,308.5 172.5,307.8 173.5,308.1 174.5,306.6 175.5,306.2 176.5,307.1 177.5,306.6 178.5,307.9 179.5,307.9 180.5,309.9 181.5,310.7 182.5,315.3 183.5,316.3 184.5,318.2 185.5,319.8 186.5,321.5 187.5,323.4 188.5,325.8 189.5,327.2 190.5,329.7 191.5,330.8 192.5,333.3 193.5,335.1 194.5,335.6 195.5,338.0 196.5,338.3 197.5,340.2 198.5,340.7 199.5,342.0 200.5,341.6 201.5,342.8 202.5,344.2 203.5,343.4 204.5,343.0 205.5,343.4 206.5,343.4 207.5,343.9 208.5,345.2 209.5,346.5 210.5,345.8 211.5,346.5 212.5,346.5 213.5,346.9 214.5,347.0 215.5,347.3 216.5,347.9 217.5,347.1 218.5,348.7 219.5,348.9 220.5,348.5 221.5,349.3 222.5,348.7 223.5,349.0 224.5,349.7 225.5,349.7 226.5,349.9 227.5,350.0 228.5,350.3 229.5,351.5" fill="none" stroke="#000" stroke-width="2.6" stroke-linejoin="round"/>
<polyline points="335.0,350.3 336.0,351.5 337.0,351.0 338.0,351.4 339.0,351.1 340.0,348.8 341.0,350.6 342.0,350.2 343.0,349.7 344.0,349.1 345.0,349.6 346.0,348.5 347.0,349.6 348.0,348.5 349.0,349.0 350.0,346.9 351.0,346.0 352.0,347.1 353.0,346.7 354.0,345.8 355.0,344.3 356.0,344.5 357.0,344.6 358.0,343.6 359.0,343.0 360.0,342.5 361.0,341.4 362.0,341.1 363.0,340.0 364.0,341.4 365.0,339.5 366.0,339.5 367.0,338.0 368.0,338.4 369.0,336.2 370.0,337.2 371.0,335.9 372.0,336.4 373.0,333.6 374.0,333.6 375.0,332.8 376.0,332.4 377.0,330.3 378.0,329.5 379.0,327.0 380.0,326.5 381.0,325.9 382.0,324.7 383.0,322.0 384.0,321.3 385.0,318.9 386.0,315.7 387.0,312.2 388.0,310.7 389.0,309.5 390.0,309.0 391.0,306.9 392.0,303.9 393.0,303.4 394.0,302.7 395.0,299.8 396.0,298.3 397.0,299.8 398.0,299.6 399.0,301.2 400.0,303.8 401.0,305.6 402.0,307.3 403.0,310.4 404.0,312.5 405.0,314.7 406.0,316.5 407.0,320.0 408.0,322.2 409.0,325.4 410.0,328.2 411.0,330.0 412.0,332.4 413.0,333.2 414.0,333.3 415.0,334.8 416.0,337.3 417.0,337.1 418.0,338.4 419.0,338.4 420.0,340.1 421.0,339.7 422.0,340.9 423.0,339.6 424.0,340.4 425.0,339.8 426.0,338.6 427.0,339.2 428.0,337.5 429.0,337.0 430.0,337.3 431.0,335.9 432.0,335.4 433.0,334.9 434.0,334.0 435.0,334.7 436.0,334.0 437.0,333.1 438.0,332.6 439.0,332.4 440.0,332.7 441.0,331.7 442.0,330.3 443.0,330.4 444.0,329.2 445.0,328.5 446.0,328.9 447.0,326.6 448.0,325.3 449.0,323.0 450.0,321.7 451.0,321.2 452.0,318.9 453.0,318.2 454.0,315.8 455.0,314.9 456.0,314.6 457.0,313.8 458.0,312.2 459.0,311.5 460.0,310.9 461.0,309.9 462.0,308.5 463.0,309.0 464.0,309.9 465.0,309.9 466.0,311.3 467.0,311.0 468.0,312.5 469.0,314.5 470.0,314.6 471.0,317.3 472.0,320.0 473.0,321.0 474.0,323.9 475.0,325.3 476.0,327.6 477.0,329.5 478.0,331.5 479.0,332.7 480.0,334.4 481.0,335.2 482.0,337.0 483.0,338.8 484.0,338.8 485.0,339.7 486.0,339.7 487.0,341.6 488.0,341.3 489.0,341.8 490.0,343.1 491.0,343.3 492.0,344.3 493.0,344.9 494.0,344.1 495.0,344.8 496.0,346.1 497.0,345.8 498.0,345.8 499.0,346.3 500.0,345.3 501.0,346.1 502.0,346.6 503.0,346.8 504.0,345.5 505.0,345.9 506.0,346.3 507.0,346.0 508.0,346.0 509.0,346.7 510.0,346.1 511.0,345.2 512.0,346.6 513.0,346.1 514.0,345.9 515.0,345.5 516.0,347.0" fill="none" stroke="#e9a81e" stroke-width="2.6" stroke-linejoin="round"/>
<polyline points="335.0,349.4 336.0,349.5 337.0,350.0 338.0,350.6 339.0,350.3 340.0,348.5 341.0,348.7 342.0,347.6 343.0,348.7 344.0,346.8 345.0,347.2 346.0,347.5 347.0,346.4 348.0,347.0 349.0,345.1 350.0,345.4 351.0,345.3 352.0,344.2 353.0,344.6 354.0,343.6 355.0,341.8 356.0,344.6 357.0,342.0 358.0,341.1 359.0,339.6 360.0,339.8 361.0,338.8 362.0,338.7 363.0,337.7 364.0,337.8 365.0,335.9 366.0,335.2 367.0,334.1 368.0,332.8 369.0,331.6 370.0,331.1 371.0,329.7 372.0,327.4 373.0,325.7 374.0,324.8 375.0,323.8 376.0,321.3 377.0,320.4 378.0,316.7 379.0,314.9 380.0,310.7 381.0,309.0 382.0,306.3 383.0,303.9 384.0,301.6 385.0,297.5 386.0,295.3 387.0,291.8 388.0,289.3 389.0,285.4 390.0,283.5 391.0,279.4 392.0,278.7 393.0,277.6 394.0,278.7 395.0,279.5 396.0,282.0 397.0,284.8 398.0,288.3 399.0,292.7 400.0,299.9 401.0,304.3 402.0,309.8 403.0,314.7 404.0,318.4 405.0,321.9 406.0,326.6 407.0,331.4 408.0,332.7 409.0,335.7 410.0,336.5 411.0,338.5 412.0,338.4 413.0,341.0 414.0,340.9 415.0,341.8 416.0,341.7 417.0,342.4 418.0,342.1 419.0,342.8 420.0,341.5 421.0,341.7 422.0,342.6 423.0,341.9 424.0,341.5 425.0,341.2 426.0,341.2 427.0,340.1 428.0,340.2 429.0,338.8 430.0,338.5 431.0,338.7 432.0,338.2 433.0,336.3 434.0,336.8 435.0,335.1 436.0,335.6 437.0,333.4 438.0,333.2 439.0,332.9 440.0,332.5 441.0,332.7 442.0,331.7 443.0,331.4 444.0,330.4 445.0,328.8 446.0,327.9 447.0,327.9 448.0,326.3 449.0,325.3 450.0,323.7 451.0,323.5 452.0,320.9 453.0,321.2 454.0,319.8 455.0,319.8 456.0,318.3 457.0,318.1 458.0,319.3 459.0,318.5 460.0,320.2 461.0,319.9 462.0,322.2 463.0,323.5 464.0,324.9 465.0,325.2 466.0,327.3 467.0,328.8 468.0,330.1 469.0,331.7 470.0,333.2 471.0,334.5 472.0,335.1 473.0,336.3 474.0,339.9 475.0,340.8 476.0,339.8 477.0,341.8 478.0,342.7 479.0,343.6 480.0,343.9 481.0,343.9 482.0,345.0 483.0,345.3 484.0,346.1 485.0,346.2 486.0,346.5 487.0,347.4 488.0,347.7 489.0,346.5 490.0,347.1 491.0,347.0 492.0,348.3 493.0,347.7 494.0,348.7 495.0,347.6 496.0,348.0 497.0,347.3 498.0,348.9 499.0,348.0 500.0,347.4 501.0,348.0 502.0,347.0 503.0,348.5 504.0,348.6 505.0,348.8 506.0,349.5 507.0,348.5 508.0,349.2 509.0,349.0 510.0,348.7 511.0,347.6 512.0,349.4 513.0,348.6 514.0,348.9 515.0,348.1 516.0,349.1" fill="none" stroke="#000" stroke-width="2.6" stroke-linejoin="round"/>
<text x="73.5" y="62.5" font-size="16.5" text-anchor="middle" fill="#fff" font-weight="bold" letter-spacing="1.6" stroke="#fff" stroke-width="0.55">(a)</text>
<text x="70" y="173.2" font-size="17" text-anchor="middle" fill="#fff" font-weight="bold"  stroke="#fff" stroke-width="0.55">X</text>
<rect x="77.3" y="162.3" width="6.8" height="1.9" fill="#fff"/>
<text x="209.5" y="174" font-size="17" text-anchor="middle" fill="#fff" font-weight="bold"  stroke="#fff" stroke-width="0.55">X</text>
<text x="219.8" y="168" font-size="10.5" text-anchor="middle" fill="#fff" font-weight="bold"  stroke="#fff" stroke-width="0.55">0</text>
<text x="359.8" y="63.8" font-size="16.5" text-anchor="middle" fill="#fff" font-weight="bold" letter-spacing="1.6" stroke="#fff" stroke-width="0.55">(b)</text>
<text x="352.7" y="173.2" font-size="17" text-anchor="middle" fill="#fff" font-weight="bold"  stroke="#fff" stroke-width="0.55">X</text>
<rect x="360.0" y="162.3" width="6.8" height="1.9" fill="#fff"/>
<text x="490.9" y="174" font-size="17" text-anchor="middle" fill="#fff" font-weight="bold"  stroke="#fff" stroke-width="0.55">X</text>
<text x="501.2" y="168" font-size="10.5" text-anchor="middle" fill="#fff" font-weight="bold"  stroke="#fff" stroke-width="0.55">0</text>
<g transform="translate(0,0)" fill="#fff" stroke="none">
<ellipse cx="65.4" cy="79.0" rx="3.55" ry="3.05" fill="none" stroke="#fff" stroke-width="2.9"/><rect x="65.2" y="74.3" width="6.7" height="2.6"/>
<rect x="73.4" y="80.4" width="10.4" height="2.4"/><rect x="77.2" y="75.8" width="2.5" height="10.4"/>
<path d="M57.2,78.4 C51.6,80.6 50.2,84.2 52.2,87.2 C53.8,89.4 56.5,90.4 60.5,91.2" fill="none" stroke="#fff" stroke-width="2.7" stroke-linecap="round"/>
<path d="M87.6,78.4 C91.6,80.2 93.4,83.2 92.4,86.2 C91,89.8 83,92.6 70,93.2" fill="none" stroke="#fff" stroke-width="2.7" stroke-linecap="round"/>
<path d="M72.6,93.4 L57.2,85.6 L61.4,91.2 L55.6,96.6 Z"/>
</g>
<g transform="translate(286,-0.5)" fill="#fff" stroke="none">
<ellipse cx="66.2" cy="79.9" rx="3.55" ry="3.05" fill="none" stroke="#fff" stroke-width="2.9"/><rect x="66.0" y="75.2" width="6.7" height="2.6"/>
<rect x="74.0" y="81.7" width="10.2" height="2.4"/>
<path d="M57.2,78.4 C51.6,80.6 50.2,84.2 52.2,87.2 C55,91 63,93 74,93.2" fill="none" stroke="#fff" stroke-width="2.7" stroke-linecap="round"/>
<path d="M87.6,78.4 C91.6,80.2 93.4,83.2 92.4,86.2 C91.4,88.2 89.5,89.5 84,91.2" fill="none" stroke="#fff" stroke-width="2.7" stroke-linecap="round"/>
<path d="M71.4,93.4 L86.8,85.6 L82.6,91.2 L88.4,96.6 Z"/>
</g>
<g transform="translate(37.6,326.3)" fill="#000" stroke="none">
<ellipse cx="65.4" cy="79.0" rx="3.55" ry="3.05" fill="none" stroke="#000" stroke-width="2.9"/><rect x="65.2" y="74.3" width="6.7" height="2.6"/>
<rect x="73.4" y="80.4" width="10.4" height="2.4"/><rect x="77.2" y="75.8" width="2.5" height="10.4"/>
<path d="M57.2,78.4 C51.6,80.6 50.2,84.2 52.2,87.2 C53.8,89.4 56.5,90.4 60.5,91.2" fill="none" stroke="#000" stroke-width="2.7" stroke-linecap="round"/>
<path d="M87.6,78.4 C91.6,80.2 93.4,83.2 92.4,86.2 C91,89.8 83,92.6 70,93.2" fill="none" stroke="#000" stroke-width="2.7" stroke-linecap="round"/>
<path d="M72.6,93.4 L57.2,85.6 L61.4,91.2 L55.6,96.6 Z"/>
</g>
<g transform="translate(326.3,328.5)" fill="#000" stroke="none">
<ellipse cx="66.60000000000001" cy="79.0" rx="3.55" ry="3.05" fill="none" stroke="#000" stroke-width="2.9"/><rect x="66.4" y="74.3" width="6.7" height="2.6"/>
<rect x="74.4" y="80.8" width="10.2" height="2.4"/>
<path d="M57.2,78.4 C51.6,80.6 50.2,84.2 52.2,87.2 C55,91 63,93 74,93.2" fill="none" stroke="#000" stroke-width="2.7" stroke-linecap="round"/>
<path d="M87.6,78.4 C91.6,80.2 93.4,83.2 92.4,86.2 C91.4,88.2 89.5,89.5 84,91.2" fill="none" stroke="#000" stroke-width="2.7" stroke-linecap="round"/>
<path d="M71.4,93.4 L86.8,85.6 L82.6,91.2 L88.4,96.6 Z"/>
</g>
<line x1="42.5" y1="394" x2="226.7" y2="394" stroke="#666" stroke-width="1.1"/>
<line x1="42.5" y1="547.2" x2="226.7" y2="547.2" stroke="#666" stroke-width="1.1"/>
<line x1="42.5" y1="394" x2="42.5" y2="547.2" stroke="#4a58b0" stroke-width="1.1"/>
<line x1="226.7" y1="394" x2="226.7" y2="547.2" stroke="#e86a6a" stroke-width="1.1"/>
<line x1="42.5" y1="394.0" x2="45.0" y2="394.0" stroke="#4a58b0" stroke-width="1"/>
<line x1="226.7" y1="394.0" x2="224.2" y2="394.0" stroke="#e86a6a" stroke-width="1"/>
<line x1="42.5" y1="424.6" x2="45.0" y2="424.6" stroke="#4a58b0" stroke-width="1"/>
<line x1="226.7" y1="424.6" x2="224.2" y2="424.6" stroke="#e86a6a" stroke-width="1"/>
<line x1="42.5" y1="455.3" x2="45.0" y2="455.3" stroke="#4a58b0" stroke-width="1"/>
<line x1="226.7" y1="455.3" x2="224.2" y2="455.3" stroke="#e86a6a" stroke-width="1"/>
<line x1="42.5" y1="485.9" x2="45.0" y2="485.9" stroke="#4a58b0" stroke-width="1"/>
<line x1="226.7" y1="485.9" x2="224.2" y2="485.9" stroke="#e86a6a" stroke-width="1"/>
<line x1="42.5" y1="516.6" x2="45.0" y2="516.6" stroke="#4a58b0" stroke-width="1"/>
<line x1="226.7" y1="516.6" x2="224.2" y2="516.6" stroke="#e86a6a" stroke-width="1"/>
<line x1="42.5" y1="547.2" x2="45.0" y2="547.2" stroke="#4a58b0" stroke-width="1"/>
<line x1="226.7" y1="547.2" x2="224.2" y2="547.2" stroke="#e86a6a" stroke-width="1"/>
<line x1="42.5" y1="547.2" x2="42.5" y2="544.7" stroke="#666" stroke-width="1"/>
<line x1="42.5" y1="394" x2="42.5" y2="396.5" stroke="#666" stroke-width="1"/>
<line x1="134.6" y1="547.2" x2="134.6" y2="544.7" stroke="#666" stroke-width="1"/>
<line x1="134.6" y1="394" x2="134.6" y2="396.5" stroke="#666" stroke-width="1"/>
<line x1="226.7" y1="547.2" x2="226.7" y2="544.7" stroke="#666" stroke-width="1"/>
<line x1="226.7" y1="394" x2="226.7" y2="396.5" stroke="#666" stroke-width="1"/>
<text x="38.3" y="399.5" font-size="14.5" text-anchor="end" fill="#3046aa" font-weight="normal" >2</text>
<text x="38.3" y="430.1" font-size="14.5" text-anchor="end" fill="#3046aa" font-weight="normal" >1</text>
<text x="38.3" y="460.8" font-size="14.5" text-anchor="end" fill="#3046aa" font-weight="normal" >0</text>
<text x="41.3" y="491.4" font-size="14.5" text-anchor="end" fill="#3046aa" font-weight="normal" >−1</text>
<text x="41.3" y="522.1" font-size="14.5" text-anchor="end" fill="#3046aa" font-weight="normal" >−2</text>
<text x="41.3" y="552.7" font-size="14.5" text-anchor="end" fill="#3046aa" font-weight="normal" >−3</text>
<text x="230.5" y="399.5" font-size="14.5" text-anchor="start" fill="#e2322a" font-weight="normal" >3</text>
<text x="230.5" y="430.1" font-size="14.5" text-anchor="start" fill="#e2322a" font-weight="normal" >2</text>
<text x="230.5" y="460.8" font-size="14.5" text-anchor="start" fill="#e2322a" font-weight="normal" >1</text>
<text x="230.5" y="491.4" font-size="14.5" text-anchor="start" fill="#e2322a" font-weight="normal" >0</text>
<text x="230.5" y="522.1" font-size="14.5" text-anchor="start" fill="#e2322a" font-weight="normal" >−1</text>
<text x="230.5" y="552.7" font-size="14.5" text-anchor="start" fill="#e2322a" font-weight="normal" >−2</text>
<text x="42.5" y="566.4" font-size="14.5" text-anchor="middle" fill="#000" font-weight="normal" >−10</text>
<text x="134.6" y="566.4" font-size="14.5" text-anchor="middle" fill="#000" font-weight="normal" >0</text>
<text x="226.7" y="566.4" font-size="14.5" text-anchor="middle" fill="#000" font-weight="normal" >10</text>
<text x="133.0" y="584" font-size="14.7" text-anchor="middle" fill="#000" font-weight="normal" >Magnetic field (T)</text>
<text transform="translate(15.4,471.3) rotate(-90)" font-size="14.5" text-anchor="middle" fill="#3046aa">Neutral exciton shift (meV)</text>
<text transform="translate(258.5,470) rotate(-90)" font-size="14.5" text-anchor="middle" fill="#e2322a">Trion shift (meV)</text>
<text x="73.5" y="410.3" font-size="16.5" text-anchor="middle" fill="#000" font-weight="bold" letter-spacing="1.6" stroke="#000" stroke-width="0.55">(c)</text>
<line x1="328.4" y1="395.3" x2="512.6" y2="395.3" stroke="#666" stroke-width="1.1"/>
<line x1="328.4" y1="548.7" x2="512.6" y2="548.7" stroke="#666" stroke-width="1.1"/>
<line x1="328.4" y1="395.3" x2="328.4" y2="548.7" stroke="#4a58b0" stroke-width="1.1"/>
<line x1="512.6" y1="395.3" x2="512.6" y2="548.7" stroke="#e86a6a" stroke-width="1.1"/>
<line x1="328.4" y1="395.3" x2="330.9" y2="395.3" stroke="#4a58b0" stroke-width="1"/>
<line x1="512.6" y1="395.3" x2="510.1" y2="395.3" stroke="#e86a6a" stroke-width="1"/>
<line x1="328.4" y1="426.0" x2="330.9" y2="426.0" stroke="#4a58b0" stroke-width="1"/>
<line x1="512.6" y1="426.0" x2="510.1" y2="426.0" stroke="#e86a6a" stroke-width="1"/>
<line x1="328.4" y1="456.7" x2="330.9" y2="456.7" stroke="#4a58b0" stroke-width="1"/>
<line x1="512.6" y1="456.7" x2="510.1" y2="456.7" stroke="#e86a6a" stroke-width="1"/>
<line x1="328.4" y1="487.3" x2="330.9" y2="487.3" stroke="#4a58b0" stroke-width="1"/>
<line x1="512.6" y1="487.3" x2="510.1" y2="487.3" stroke="#e86a6a" stroke-width="1"/>
<line x1="328.4" y1="518.0" x2="330.9" y2="518.0" stroke="#4a58b0" stroke-width="1"/>
<line x1="512.6" y1="518.0" x2="510.1" y2="518.0" stroke="#e86a6a" stroke-width="1"/>
<line x1="328.4" y1="548.7" x2="330.9" y2="548.7" stroke="#4a58b0" stroke-width="1"/>
<line x1="512.6" y1="548.7" x2="510.1" y2="548.7" stroke="#e86a6a" stroke-width="1"/>
<line x1="328.4" y1="548.7" x2="328.4" y2="546.2" stroke="#666" stroke-width="1"/>
<line x1="328.4" y1="395.3" x2="328.4" y2="397.8" stroke="#666" stroke-width="1"/>
<line x1="374.45" y1="548.7" x2="374.45" y2="546.2" stroke="#666" stroke-width="1"/>
<line x1="374.45" y1="395.3" x2="374.45" y2="397.8" stroke="#666" stroke-width="1"/>
<line x1="420.5" y1="548.7" x2="420.5" y2="546.2" stroke="#666" stroke-width="1"/>
<line x1="420.5" y1="395.3" x2="420.5" y2="397.8" stroke="#666" stroke-width="1"/>
<line x1="466.55" y1="548.7" x2="466.55" y2="546.2" stroke="#666" stroke-width="1"/>
<line x1="466.55" y1="395.3" x2="466.55" y2="397.8" stroke="#666" stroke-width="1"/>
<line x1="512.6" y1="548.7" x2="512.6" y2="546.2" stroke="#666" stroke-width="1"/>
<line x1="512.6" y1="395.3" x2="512.6" y2="397.8" stroke="#666" stroke-width="1"/>
<text x="325.2" y="400.8" font-size="14.5" text-anchor="end" fill="#3046aa" font-weight="normal" >2</text>
<text x="325.2" y="431.5" font-size="14.5" text-anchor="end" fill="#3046aa" font-weight="normal" >1</text>
<text x="325.2" y="462.2" font-size="14.5" text-anchor="end" fill="#3046aa" font-weight="normal" >0</text>
<text x="325.2" y="492.8" font-size="14.5" text-anchor="end" fill="#3046aa" font-weight="normal" >−1</text>
<text x="325.2" y="523.5" font-size="14.5" text-anchor="end" fill="#3046aa" font-weight="normal" >−2</text>
<text x="325.2" y="554.2" font-size="14.5" text-anchor="end" fill="#3046aa" font-weight="normal" >−3</text>
<text x="516.4" y="400.8" font-size="14.5" text-anchor="start" fill="#e2322a" font-weight="normal" >3</text>
<text x="516.4" y="431.5" font-size="14.5" text-anchor="start" fill="#e2322a" font-weight="normal" >2</text>
<text x="516.4" y="462.2" font-size="14.5" text-anchor="start" fill="#e2322a" font-weight="normal" >1</text>
<text x="516.4" y="492.8" font-size="14.5" text-anchor="start" fill="#e2322a" font-weight="normal" >0</text>
<text x="516.4" y="523.5" font-size="14.5" text-anchor="start" fill="#e2322a" font-weight="normal" >−1</text>
<text x="516.4" y="554.2" font-size="14.5" text-anchor="start" fill="#e2322a" font-weight="normal" >−2</text>
<text x="324.2" y="566.4" font-size="14.5" text-anchor="middle" fill="#000" font-weight="normal" >−10</text>
<text x="370.2" y="566.4" font-size="14.5" text-anchor="middle" fill="#000" font-weight="normal" >−5</text>
<text x="420.5" y="566.4" font-size="14.5" text-anchor="middle" fill="#000" font-weight="normal" >0</text>
<text x="466.6" y="566.4" font-size="14.5" text-anchor="middle" fill="#000" font-weight="normal" >5</text>
<text x="512.6" y="566.4" font-size="14.5" text-anchor="middle" fill="#000" font-weight="normal" >10</text>
<text x="418.9" y="584" font-size="14.7" text-anchor="middle" fill="#000" font-weight="normal" >Magnetic field (T)</text>
<text transform="translate(299.6,471.8) rotate(-90)" font-size="14.5" text-anchor="middle" fill="#3046aa">Neutral exciton shift (meV)</text>
<text transform="translate(547.5,471) rotate(-90)" font-size="14.5" text-anchor="middle" fill="#e2322a">Trion shift (meV)</text>
<text x="361.4" y="411.3" font-size="16.5" text-anchor="middle" fill="#000" font-weight="bold" letter-spacing="1.6" stroke="#000" stroke-width="0.55">(d)</text>
<g fill="#3046aa"><circle cx="43.5" cy="421.3" r="3.3"/><circle cx="45.8" cy="422.7" r="3.3"/><circle cx="48.1" cy="423.8" r="3.3"/><circle cx="50.4" cy="426.1" r="3.3"/><circle cx="52.7" cy="427.1" r="3.3"/><circle cx="55.0" cy="427.7" r="3.3"/><circle cx="57.3" cy="429.3" r="3.3"/><circle cx="59.6" cy="427.9" r="3.3"/><circle cx="61.9" cy="428.7" r="3.3"/><circle cx="64.2" cy="428.9" r="3.3"/><circle cx="66.5" cy="431.1" r="3.3"/><circle cx="68.8" cy="431.1" r="3.3"/><circle cx="71.1" cy="431.3" r="3.3"/><circle cx="73.4" cy="432.8" r="3.3"/><circle cx="75.7" cy="435.1" r="3.3"/><circle cx="78.0" cy="436.9" r="3.3"/><circle cx="80.3" cy="435.5" r="3.3"/><circle cx="82.6" cy="437.2" r="3.3"/><circle cx="84.9" cy="438.4" r="3.3"/><circle cx="87.2" cy="438.6" r="3.3"/><circle cx="89.5" cy="440.5" r="3.3"/><circle cx="91.8" cy="440.8" r="3.3"/><circle cx="94.1" cy="441.8" r="3.3"/><circle cx="96.4" cy="441.6" r="3.3"/><circle cx="98.7" cy="444.3" r="3.3"/><circle cx="101.0" cy="443.6" r="3.3"/><circle cx="103.3" cy="445.4" r="3.3"/><circle cx="105.6" cy="444.5" r="3.3"/><circle cx="107.9" cy="446.0" r="3.3"/><circle cx="110.2" cy="445.4" r="3.3"/><circle cx="112.5" cy="445.7" r="3.3"/><circle cx="114.8" cy="446.5" r="3.3"/><circle cx="117.1" cy="447.7" r="3.3"/><circle cx="119.4" cy="448.3" r="3.3"/><circle cx="121.7" cy="450.7" r="3.3"/><circle cx="124.0" cy="449.4" r="3.3"/><circle cx="126.3" cy="450.6" r="3.3"/><circle cx="128.6" cy="454.4" r="3.3"/><circle cx="130.9" cy="454.5" r="3.3"/><circle cx="133.2" cy="453.2" r="3.3"/><circle cx="135.5" cy="455.6" r="3.3"/><circle cx="137.8" cy="455.6" r="3.3"/><circle cx="140.1" cy="454.1" r="3.3"/><circle cx="142.4" cy="455.5" r="3.3"/><circle cx="144.7" cy="456.1" r="3.3"/><circle cx="147.0" cy="457.1" r="3.3"/><circle cx="149.3" cy="457.7" r="3.3"/><circle cx="151.6" cy="457.5" r="3.3"/><circle cx="153.9" cy="459.3" r="3.3"/><circle cx="156.2" cy="459.7" r="3.3"/><circle cx="158.5" cy="460.8" r="3.3"/><circle cx="160.8" cy="462.5" r="3.3"/><circle cx="163.1" cy="465.4" r="3.3"/><circle cx="165.4" cy="465.0" r="3.3"/><circle cx="167.7" cy="468.8" r="3.3"/><circle cx="170.0" cy="468.8" r="3.3"/><circle cx="172.3" cy="471.1" r="3.3"/><circle cx="174.6" cy="473.6" r="3.3"/><circle cx="176.9" cy="476.3" r="3.3"/><circle cx="179.2" cy="475.8" r="3.3"/><circle cx="181.5" cy="478.2" r="3.3"/><circle cx="183.8" cy="479.7" r="3.3"/><circle cx="186.1" cy="479.4" r="3.3"/><circle cx="188.4" cy="480.9" r="3.3"/><circle cx="190.7" cy="479.0" r="3.3"/><circle cx="193.0" cy="481.6" r="3.3"/><circle cx="195.3" cy="483.2" r="3.3"/><circle cx="197.6" cy="484.7" r="3.3"/><circle cx="199.9" cy="487.3" r="3.3"/><circle cx="202.2" cy="486.7" r="3.3"/><circle cx="204.5" cy="490.2" r="3.3"/><circle cx="206.8" cy="489.7" r="3.3"/><circle cx="209.1" cy="491.9" r="3.3"/><circle cx="211.4" cy="491.8" r="3.3"/><circle cx="213.7" cy="493.4" r="3.3"/><circle cx="216.0" cy="493.8" r="3.3"/><circle cx="218.3" cy="492.1" r="3.3"/><circle cx="220.6" cy="493.5" r="3.3"/><circle cx="222.9" cy="493.8" r="3.3"/><circle cx="225.2" cy="493.8" r="3.3"/></g>
<g fill="#e2322a"><circle cx="42.8" cy="453.7" r="3.3"/><circle cx="45.1" cy="456.7" r="3.3"/><circle cx="47.4" cy="456.2" r="3.3"/><circle cx="49.7" cy="458.3" r="3.3"/><circle cx="52.0" cy="457.3" r="3.3"/><circle cx="54.3" cy="457.8" r="3.3"/><circle cx="56.6" cy="460.0" r="3.3"/><circle cx="58.9" cy="460.4" r="3.3"/><circle cx="61.2" cy="463.5" r="3.3"/><circle cx="63.5" cy="463.2" r="3.3"/><circle cx="65.8" cy="464.7" r="3.3"/><circle cx="68.1" cy="464.0" r="3.3"/><circle cx="70.4" cy="464.4" r="3.3"/><circle cx="72.7" cy="465.0" r="3.3"/><circle cx="75.0" cy="465.8" r="3.3"/><circle cx="77.3" cy="466.6" r="3.3"/><circle cx="79.6" cy="466.2" r="3.3"/><circle cx="81.9" cy="466.1" r="3.3"/><circle cx="84.2" cy="466.2" r="3.3"/><circle cx="86.5" cy="467.5" r="3.3"/><circle cx="88.8" cy="468.4" r="3.3"/><circle cx="91.1" cy="468.7" r="3.3"/><circle cx="93.4" cy="468.6" r="3.3"/><circle cx="95.7" cy="468.3" r="3.3"/><circle cx="98.0" cy="469.3" r="3.3"/><circle cx="100.3" cy="470.0" r="3.3"/><circle cx="102.6" cy="469.8" r="3.3"/><circle cx="104.9" cy="470.3" r="3.3"/><circle cx="107.2" cy="470.5" r="3.3"/><circle cx="109.5" cy="472.1" r="3.3"/><circle cx="111.8" cy="471.5" r="3.3"/><circle cx="114.1" cy="472.8" r="3.3"/><circle cx="116.4" cy="473.8" r="3.3"/><circle cx="118.7" cy="475.0" r="3.3"/><circle cx="121.0" cy="476.6" r="3.3"/><circle cx="123.3" cy="477.0" r="3.3"/><circle cx="125.6" cy="478.2" r="3.3"/><circle cx="127.9" cy="477.8" r="3.3"/><circle cx="130.2" cy="481.0" r="3.3"/><circle cx="132.5" cy="483.0" r="3.3"/><circle cx="134.8" cy="481.6" r="3.3"/><circle cx="137.1" cy="482.0" r="3.3"/><circle cx="139.4" cy="483.2" r="3.3"/><circle cx="141.7" cy="484.8" r="3.3"/><circle cx="144.0" cy="484.8" r="3.3"/><circle cx="146.3" cy="484.4" r="3.3"/><circle cx="148.6" cy="485.5" r="3.3"/><circle cx="150.9" cy="487.3" r="3.3"/><circle cx="153.2" cy="487.8" r="3.3"/><circle cx="155.5" cy="489.7" r="3.3"/><circle cx="157.8" cy="490.1" r="3.3"/><circle cx="160.1" cy="490.5" r="3.3"/><circle cx="162.4" cy="491.6" r="3.3"/><circle cx="164.7" cy="491.5" r="3.3"/><circle cx="167.0" cy="491.8" r="3.3"/><circle cx="169.3" cy="493.8" r="3.3"/><circle cx="171.6" cy="495.2" r="3.3"/><circle cx="173.9" cy="495.0" r="3.3"/><circle cx="176.2" cy="497.4" r="3.3"/><circle cx="178.5" cy="499.2" r="3.3"/><circle cx="180.8" cy="501.3" r="3.3"/><circle cx="183.1" cy="502.1" r="3.3"/><circle cx="185.4" cy="503.7" r="3.3"/><circle cx="187.7" cy="504.3" r="3.3"/><circle cx="190.0" cy="506.2" r="3.3"/><circle cx="192.3" cy="505.2" r="3.3"/><circle cx="194.6" cy="510.0" r="3.3"/><circle cx="196.9" cy="511.9" r="3.3"/><circle cx="199.2" cy="512.4" r="3.3"/><circle cx="201.5" cy="514.3" r="3.3"/><circle cx="203.8" cy="515.4" r="3.3"/><circle cx="206.1" cy="515.2" r="3.3"/><circle cx="208.4" cy="517.2" r="3.3"/><circle cx="210.7" cy="519.0" r="3.3"/><circle cx="213.0" cy="519.9" r="3.3"/><circle cx="215.3" cy="521.9" r="3.3"/><circle cx="217.6" cy="522.4" r="3.3"/><circle cx="219.9" cy="523.7" r="3.3"/><circle cx="222.2" cy="524.2" r="3.3"/><circle cx="224.5" cy="525.9" r="3.3"/></g>
<line x1="43.8" y1="421.1" x2="226" y2="495.3" stroke="#000" stroke-width="2.7"/>
<line x1="43.8" y1="451.1" x2="226" y2="520.2" stroke="#000" stroke-width="2.7"/>
<g fill="#3046aa"><circle cx="331.2" cy="479.5" r="3.4"/><circle cx="337.7" cy="474.4" r="3.4"/><circle cx="343.7" cy="473.5" r="3.4"/><circle cx="349.7" cy="472.6" r="3.4"/><circle cx="355.8" cy="476.3" r="3.4"/><circle cx="362.4" cy="471.6" r="3.4"/><circle cx="368.4" cy="474.4" r="3.4"/><circle cx="374.5" cy="471.6" r="3.4"/><circle cx="380.7" cy="470.7" r="3.4"/><circle cx="387" cy="468.3" r="3.4"/><circle cx="393.2" cy="466" r="3.4"/><circle cx="399.8" cy="463.6" r="3.4"/><circle cx="405.7" cy="464.5" r="3.4"/><circle cx="411.4" cy="465.7" r="3.4"/><circle cx="417.5" cy="456.3" r="3.4"/><circle cx="423.4" cy="454.1" r="3.4"/><circle cx="429.7" cy="450.1" r="3.4"/><circle cx="435.9" cy="447.3" r="3.4"/><circle cx="442" cy="443.2" r="3.4"/><circle cx="448.4" cy="436.1" r="3.4"/><circle cx="454.2" cy="434.3" r="3.4"/><circle cx="460.2" cy="428.3" r="3.4"/><circle cx="466.7" cy="421.5" r="3.4"/><circle cx="472.9" cy="418.7" r="3.4"/><circle cx="478.9" cy="415.2" r="3.4"/><circle cx="485" cy="412.8" r="3.4"/><circle cx="491.4" cy="413.7" r="3.4"/><circle cx="497" cy="413.3" r="3.4"/><circle cx="503.2" cy="409.6" r="3.4"/><circle cx="509.7" cy="404.3" r="3.4"/></g>
<g fill="#e2322a"><circle cx="330.6" cy="517.6" r="3.4"/><circle cx="337.1" cy="513.8" r="3.4"/><circle cx="343.3" cy="511" r="3.4"/><circle cx="349.5" cy="508.2" r="3.4"/><circle cx="355.6" cy="506.4" r="3.4"/><circle cx="362" cy="505" r="3.4"/><circle cx="368" cy="506.4" r="3.4"/><circle cx="374.3" cy="503.6" r="3.4"/><circle cx="380.5" cy="503.6" r="3.4"/><circle cx="386.6" cy="503.2" r="3.4"/><circle cx="393" cy="501.3" r="3.4"/><circle cx="399" cy="497" r="3.4"/><circle cx="405" cy="491.4" r="3.4"/><circle cx="411.5" cy="488.6" r="3.4"/><circle cx="417.5" cy="486.7" r="3.4"/><circle cx="423.7" cy="486.6" r="3.4"/><circle cx="429.9" cy="482.9" r="3.4"/><circle cx="436" cy="480" r="3.4"/><circle cx="442" cy="476.3" r="3.4"/><circle cx="448.5" cy="470.7" r="3.4"/><circle cx="454.5" cy="467.9" r="3.4"/><circle cx="460.7" cy="464.2" r="3.4"/><circle cx="466.7" cy="461.4" r="3.4"/><circle cx="472.9" cy="459.5" r="3.4"/><circle cx="479" cy="455.7" r="3.4"/><circle cx="485" cy="455.7" r="3.4"/><circle cx="491.2" cy="457.6" r="3.4"/><circle cx="497.3" cy="454.8" r="3.4"/><circle cx="503.4" cy="455.7" r="3.4"/><circle cx="509.5" cy="453" r="3.4"/></g>
<line x1="330.6" y1="486" x2="512.5" y2="410.9" stroke="#000" stroke-width="2.7"/>
<line x1="330.6" y1="520.4" x2="512.5" y2="449.6" stroke="#000" stroke-width="2.7"/>
</svg></div></body></html>
